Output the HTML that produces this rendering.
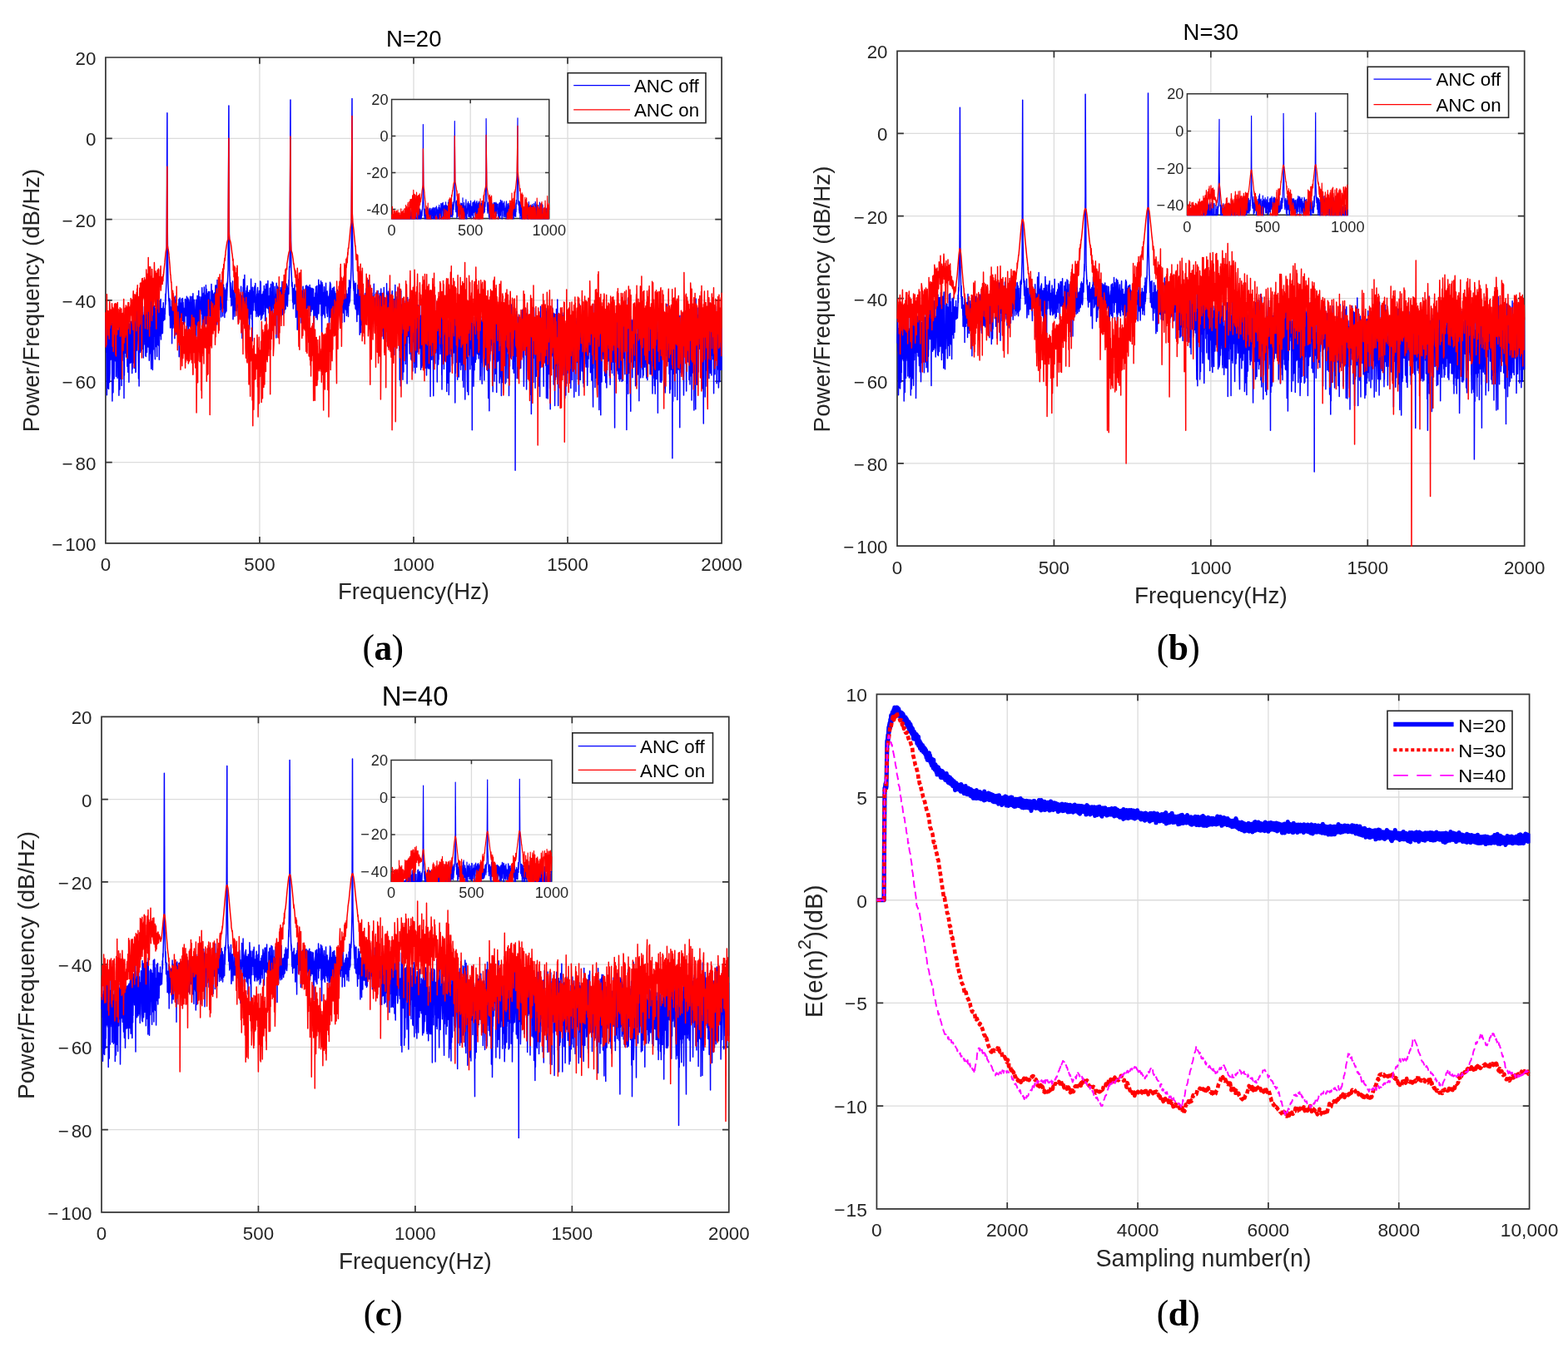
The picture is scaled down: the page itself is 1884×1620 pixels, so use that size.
<!DOCTYPE html>
<html><head><meta charset="utf-8"><title>ANC spectra</title><style>html,body{margin:0;padding:0;background:#fff;}svg{display:block;}</style></head><body>
<svg xmlns="http://www.w3.org/2000/svg" width="1884" height="1620" viewBox="0 0 1884 1620">
<rect width="1884" height="1620" fill="#fff"/>
<path d="M311.95 69.00V652.90M497.00 69.00V652.90M682.05 69.00V652.90M126.90 555.58H867.10M126.90 458.27H867.10M126.90 360.95H867.10M126.90 263.63H867.10M126.90 166.32H867.10" stroke="#dcdcdc" stroke-width="1.3" fill="none"/>
<path d="M126.90 69.00H867.10V652.90H126.90ZM126.90 652.90v-7.00M126.90 69.00v7.00M311.95 652.90v-7.00M311.95 69.00v7.00M497.00 652.90v-7.00M497.00 69.00v7.00M682.05 652.90v-7.00M682.05 69.00v7.00M867.10 652.90v-7.00M867.10 69.00v7.00M126.90 652.90h7.00M867.10 652.90h-7.00M126.90 555.58h7.00M867.10 555.58h-7.00M126.90 458.27h7.00M867.10 458.27h-7.00M126.90 360.95h7.00M867.10 360.95h-7.00M126.90 263.63h7.00M867.10 263.63h-7.00M126.90 166.32h7.00M867.10 166.32h-7.00M126.90 69.00h7.00M867.10 69.00h-7.00" stroke="#333333" stroke-width="1.7" fill="none" stroke-linecap="square"/>
<clipPath id="c1"><rect x="125.90" y="68.00" width="742.20" height="585.90"/></clipPath>
<g clip-path="url(#c1)">
<path transform="scale(0.1)" d="M1269 4139l1-236 5-58 3 392 1-262 1 206 4 567 4-787 2 34 1 33 6 635 3-788 1 136 1-62 3 725 5-658 1 21 4-141 1 698 4-111 1-595 4-114 3 551 1-181 2 177 7-559 1 486 2-364 8 937 1-845 3-92 2 423 4-224 1 635 6-958 3 260 1 72 1 458 2-635 6 256 1-118 2-95 5 383 3-210 1-321 3 716 6-522 1-29 1 434 1-585 7 473 1 247 1-576 8 559 1-351 5-248 3 825 2-746 2-160 6 832 1-606 7 316 1-540 1 340 1 47 3 316 5-507 1 407 1-258 1 441 3-802 5 129 1 340 1 31 8-444 1 251 1 112 6-416 3 949 1-669 3 396 4-542 2 268 1-429 6 434 3-224 1 1 5-25 1 294 2-182 2-269 8 565 2-297 4-255 3 622 1-565 1 268 7-392 2 808 1-267 8-431 1 126 1-103 3 448 5-498 1 121 1 137 2 233 8-456 1-43 6 625 3-637 1 587 2-598 7 2 1 315 1 206 6-566 1 364 2-246 2 515 6-696 2 62 8 684 1-47 2 41 5-583 2 47 1-207 2 486 7-247 1 65 1-311 7 367 1-20 1-58 5 540 2-945 3 108 1 927 4-856 5 50 1 234 5-374 1 541 3-65 1-49 9-479 1 573 7-575 1 75 2 278 3-238 2 440 3-408 2 155 2 358 4-478 2 227 1-120 4-242 4 382 1-156 1 228 4-318 4 452 1-194 1-515 4 719 6-684 1 171 4 464 5-281 1 172 3-529 6 574 1-412 2-220 3 374 4-9 1-172 2 601 4-655 2 247 2-186 3-154 5 667 2-74 6 255 2-856 1-42 5 668 4-518 1 63 4 697 5-427 1-266 4 449 2-532 3 102 1 191 1 77 6-362 3 255 1 279 3 107 2-607 4 89 1 368 2-357 7 56 1-304 6 723 1-727 2 327 1 241 3-577 2 593 3-43 2-453 5 505 3-375 2 55 2 491 6-711 1 307 3-172 2 288 4-63 1-223 1-153 4 483 4-333 1 190 4-228 4 299 2-47 1-151 3 197 5-321 1 79 1-45 1-82 4 215 4-100 1-37 9 126 1-137 2 74 5-246 1 128 2-74 8-183 2-38 8-2008 1 1189 9 857 1 22 9 196 1-29 6 199 2-200 1 126 1-121 6 344 4-251 1 160 3 85 2-150 4 86 1-86 2-172 3 515 4-348 1-93 2-21 7 274 1-158 1 114 6-192 1 135 2-75 1-105 7 410 1-190 4-319 5 403 1-123 4-229 3 410 2-87 1 4 1 9 4-307 4 122 1 157 3-239 6 374 1-118 1-228 4 302 4-409 1 151 1-156 1 693 8-597 1-111 6 322 3-176 1-83 5-2 1 236 2-135 2-45 1-104 2 333 5-184 2-31 3-125 4 266 1-27 1-193 8 264 1-189 1 92 3 102 1-140 5 113 1-177 1 108 3-210 5 150 1 3 7 49 2-197 1 98 1-14 3-122 2 424 4-91 1-71 7-245 2 136 1-36 5 338 1-417 3 32 1 30 2-33 3 266 3-36 2 2 1 61 4-359 3 159 1 0 2 210 7-154 1-35 4-178 4 381 1-278 1-65 1 327 8-403 1 73 10 239 1-5 1-232 8 254 1-91 5 194 1-220 3 186 1-225 4-97 3 469 2-418 1 24 6 226 1-297 1 193 2-244 6 369 2-165 2-59 1 446 5-653 2 392 1-214 3-88 1 498 5-114 1-401 3 309 6-218 1 73 8-160 1 60 1-40 5 183 2-317 3 105 1 363 3 13 3-360 3 159 1 11 4-222 3 554 2-457 1 344 2-517 6 251 2-127 2 228 6-168 2-94 2 351 1-464 5 289 1-42 2-199 5 632 2-355 1-129 3 158 5-259 1 191 1 128 4-337 1 367 4-233 1-75 9-59 1 294 1-134 1-67 4 203 4-39 1 23 5 93 4-461 1 335 1-223 1 315 7-68 1 19 1-302 6 362 1-273 2 187 1-232 4 390 3-274 2-43 3-90 1 198 4-85 1 65 5 258 4-524 1 199 5 117 3-318 1 228 1 25 9 217 1-533 1 129 4 308 5-171 1-5 5 152 4-179 1 156 1-250 4 355 4-287 1 152 4-226 4 113 2 62 5-213 2 349 1-208 2 49 1 61 1-345 6 208 1-1 4-73 4 297 1-282 1 242 5-339 4 269 1 11 5-240 4 356 1-180 4-146 5 269 1-179 1-26 5-82 4 268 1-193 1-138 3 197 5-126 1-90 1 54 8-189 1 1 8-1987 2 1189 8 850 2 24 8 240 1-107 2-64 7 276 1-173 4-20 2 175 3-94 1-92 6-94 4 459 1-7 6-339 3 71 1 23 1-97 8 313 1-60 1-151 8 30 1-211 2 323 6-126 2 80 2 49 5-206 1 67 2 77 3-192 3 214 2-4 1 9 4 171 3-355 2 27 1 86 2 2 2-107 5 79 1 120 6-182 2 188 1-122 1 71 6-236 4 207 1-68 6-28 2 510 1-432 1-51 4 207 5-158 1-176 1 204 3-300 5 273 1 4 7 108 1-439 2 235 2-13 1 220 5-101 1 115 2 110 7-374 1 90 5-128 3 297 1-101 1-76 1-142 8 377 1-71 5-226 5 316 1-170 6 298 3-469 1 144 1 191 6-249 2 161 1 36 5-422 4 259 1-134 5 360 3-335 2 371 2 224 1-645 5 229 2-103 3 152 5-229 1 122 2 8 1-176 6 98 1-116 6 294 2-326 1 46 1 125 1-31 8 259 1-112 6 70 1-229 3 171 1-198 5-51 1 338 3-179 1 173 2 19 2-270 5 107 1-44 4-104 3 296 2-139 1-23 3 145 3-393 2 374 2-112 2-256 4 456 2-112 1-76 7 168 2-284 1 168 2-172 1 256 6-203 1 21 3-104 3 269 3-215 1 190 3-315 7 202 1 12 4-168 2 374 3-8 1-115 4-316 5 67 1 217 4-287 5 175 1-13 6 133 2-333 2 319 5 18 3-120 2 170 4-206 4 357 1-268 2-182 6 251 1-151 1 122 5-269 3 403 1-188 1 112 5-234 4 31 1 130 1 61 1-342 8 143 1-26 1-106 5 305 3-126 1 263 7 60 2-368 1-90 7 156 1-38 2-22 8 522 2-476 1-182 7 309 1-274 9 239 1-118 2 496 1-602 6 92 1 210 8 80 1-232 1 87 1 96 5-296 4 215 1-250 8 315 1-281 1 304 9-407 1 31 7 365 2-159 1 105 6-185 2 187 2-106 2-89 3 227 3-69 2-157 3 185 3-231 2 12 1 15 2 196 5-277 2 50 1 172 4-245 5 97 1 166 1-242 3 249 6-197 1-23 8 71 1-168 1 66 6-229 3 11 1-18 9-1995 1 1189 8 843 2 23 7 187 1-40 2-10 6 239 2-122 1-17 4 218 1-244 4 34 1 25 6 128 3-210 1-23 3 222 6-34 1-1 1-109 4 316 5-154 1-49 4-131 5 223 1-212 1 471 8-530 1 177 1-255 8 218 1-71 1 216 5-232 2 39 2 126 2 42 3-357 3 208 1 62 2-218 1 246 6-122 1 367 8-278 1 118 1-223 3 337 6-90 1-293 1-7 3 297 6-17 1-243 4 238 5-78 1 46 6-174 1 247 2-168 1-93 4-64 2 224 3-49 1-3 1 103 3-280 4 21 2 232 1 17 4-202 3 60 2-25 2-89 4 352 2-341 1 93 3-73 6 203 1-29 2-223 7 367 1-126 4 11 2-218 3 62 1 221 7-248 3 81 1 141 1-252 8 259 1-41 5-210 4 448 1-296 2 402 4-452 3 56 1 153 1 10 7-273 2 219 5-295 2 370 1-242 1-39 7 190 2-288 1 101 2 303 7-201 1 4 3 17 5-296 1 147 1 261 9-348 1 156 1 42 6-130 2 165 1-70 1-28 5-180 4 414 1-272 6 519 3-645 1 254 2 148 2-376 4 211 2-106 1 250 6-261 1 67 2 65 4-199 3 340 1-195 1 21 5 204 3-301 1 53 1-29 6-137 3 272 1-178 9 267 1-66 2-197 3 304 5-218 1-11 3 108 5-125 1 93 1-88 5 429 1-461 3 40 1-85 5-94 3 416 2 7 2-406 6 258 2 131 8-274 1-36 2 272 3-295 4 160 1 55 2 235 6-459 1 347 1-165 3 33 2-223 4 103 1 40 4-86 2 270 4-141 1-110 6 326 3-223 1-5 3 157 6-294 1 224 1-228 8 123 1 8 1 112 1-186 6 127 2 32 3-189 5 150 2 41 3-210 5 258 1 3 2-276 7 181 1-49 8-70 1 338 1-202 6-231 3 138 1 111 4-100 2 170 4-169 1 15 5-17 1 278 3-264 1 74 5 25 2-166 2 123 1-9 4 70 4-230 2 151 3 154 2-261 3 192 2-194 2 217 6-179 1 168 5 65 2-343 2 171 1-12 3 52 3-304 3 275 1-59 4 38 5-150 1-90 1 83 9-240 1-42 9-1997 1 1190 9 865 1 25 7 207 2-28 1 51 2-114 4 274 2-244 2 216 1-217 6 256 1-134 2 177 3-308 1 315 4-70 1-113 9 332 1-326 3 232 6-348 1 110 1 245 7-278 2 37 1 22 5-103 3 331 1-204 1 74 1 364 5-489 3 162 1-42 7 344 2-477 1-10 4 324 4-43 2 113 3-419 5 113 2 22 2 174 3-263 3 82 1 2 7 185 2-236 1 87 4 204 5-294 1-36 6 353 3-409 1 203 4 191 1-338 5 136 1-26 1 59 3-141 5 113 1 23 4-322 3 416 2-128 1 27 6 50 1-238 2 198 1 91 6-343 2 302 2-102 6 107 2-174 1 128 4 200 4-368 1 143 1-154 5 328 4-285 1 129 6 197 2-331 1 113 1 43 3-304 2 399 5-69 1 84 8-246 1 226 1-83 1 17 5-219 3 172 1-164 2 173 5-182 2 112 1 11 2-101 4 332 2-11 2-368 7 273 1-110 2-8 6 121 1-212 1 61 1 461 3-557 6 502 1-276 5 331 3-611 1 361 1-166 3-87 1 402 5-262 1-190 6 449 4-292 1 120 3-257 2 523 4-353 1-8 2-256 5 601 2-399 1 56 6 231 1-273 2 8 1-71 2-20 5 521 1-187 2-139 3 192 2-567 3 323 1 173 4 18 3-351 2 185 1-192 5-60 2 673 2-278 1 49 1 13 2-430 6 229 1 39 4-331 3 648 3-494 1 388 1-251 3 347 5-180 1-147 1-118 6 453 2-296 1-296 2-24 3 567 4-307 1 40 2-208 3 597 3-109 2-245 6 433 2-669 2 167 6 209 1-548 1 389 1-50 4 108 1-141 4 126 1-73 2 285 6-501 1 112 1 47 1 257 8-521 1 278 9 273 1-166 1 104 4-175 4 439 1-147 1-233 2 730 5-1091 2 436 1-92 2 823 5-1145 1 515 2-253 3-98 4 463 1-195 2 10 1-169 7 732 1 62 4-903 5 811 1-621 2 422 5-623 2 119 1 384 8-470 1 42 1 236 1-339 2 753 7-473 1-225 8 497 1-422 1 859 6-1036 3 238 1 108 7 125 2-349 1 27 6 403 1-478 1 329 2 275 6-507 2 68 2 27 7-100 1 578 1-186 3-474 1 671 5-504 1 325 6-563 3 874 1-649 1-186 3 478 5-187 1-303 9 756 1-613 1 658 1-434 8 502 1-419 1-371 3 408 5-338 1 317 6 332 1-657 1 287 2 149 1-490 7 530 2-403 2-161 4 431 2-241 1 295 7-311 2 274 1-132 2 202 1-409 6 284 1-267 6 649 3-341 1-50 5-454 4 819 1-630 1-160 1 771 8-571 1 127 2 327 4-617 3 538 1-306 2-246 5 510 2-220 1-240 8 727 2-317 5-447 1 606 2-312 2 4 3-21 1 570 4-440 1 339 9-537 1 100 3 456 5-720 1 36 1 208 3-108 3 586 4-558 1 507 4-718 5 234 1 872 3-993 6 294 1-256 7 512 2-660 1 344 2 208 6-536 2 177 7 901 1-938 2 156 1 190 6-371 1 356 1 188 5-788 3 820 1-176 1-125 4-278 1 450 4-176 1-51 3-269 6 305 1-241 3 780 2-817 5 452 1-416 1-183 4 754 4-391 1 332 2-451 7 194 1-27 2-329 7 547 1-86 5-484 3 32 2 459 3-347 4 679 1-399 1 573 5-876 4 133 1 195 8-457 1 425 1-491 4 824 5-653 1-55 1-80 7 691 2-623 1 368 4 178 5-600 1 272 6-254 1 1028 2-1022 1 167 2 662 7-654 1 227 1-229 1 745 6-545 2-207 2 896 6-465 2-67 1-436 6 689 1-426 1-234 5 269 4-188 1 329 3-421 3 490 3-242 1-35 4 383 4-509 1 101 1 383 1-353 9 226 1-193 6-352 2 399 1-304 1 357 1-338 6 1031 2-883 1 78 2 448 2-752 5 81 1 125 1 418 1-490 6 155 2-93 5-270 1 906 2-642 1-156 2 691 1-796 6 155 1 379 3 336 6-769 1 178 8 413 1-500 1 291 3-517 3 817 4-809 1 489 4 264 5-583 1 199 7-444 2 1014 1-508 1-131 6 718 2-628 1-430 6 631 2-70 2-136 2-64 5 844 1-768 2-240 3 375 5-36 1 61 2 115 7-443 1 342 6 500 3-720 1-6 4-155 4 922 1-820 1 39 6 301 4-488 1 440 6-585 2 804 1-361 1 120 9-368 1 134 2-109 5 538 1-318 2 177 2 917 1-1279 5 425 2-308 2 438 1-592 5 353 1 438 9-744 1 550 2-635 7 193 1 241 3 105 1-571 5 50 1 489 7-575 3 102 1 392 6-444 2 461 1-214 1 153 4-476 5 591 1-206 2-332 2 493 5-305 1 11 7-116 1 711 2-61 2 14 5-713 1 548 2-263 2-241 2 455 4-170 1-215 2 693 7-817 1 149 3 114 3-389 3 66 1 230 8 603 2-269 1-718 1 828 8-220 1-340 8 537 1-260 1 99 5-513 4 730 1-267 5 277 2-764 1 639 2-421 7 879 1-971 2 355 7-441 1 1209 1-1151 7 552 2-21 1-226 4-173 4 298 1-37 1-435 3 406 5-429 1 330 1 10 3-392 4 591 3-403 1 164 1 685 3-785 5 250 1-269 5 417 2-515 2 104 1 673 6-912 3 219 1 604 3-925 5 639 2-151 2-356 4 1016 2-847 2 299 4-181 3 322 1-266 1 302 5-554 4 146 1 0 3-173 1 567 5-554 1 34 1 791 9-293 1-139 6 360 3-715 1 741 1-837 2 1036 6-511 1 95 4 257 5-848 1 322 4-291 3 749 1-192 2-104 1 108 5-411 2 300 2-186 1-22 2 257 5-191 1 54 3 468 1-875 5 545 1 314 9-811 1 435 3-310 3 317 3-218 1-245 1 783 5-798 4 390 1-32 1-158 3 810 5-625 1 120 4 149 1-577 4 483 1-509 6 468 3-110 1-264 1-232 1 632 6-408 2 231 6-421 2 315 1-134 2 558 7-523 1 332 4 242 3-558 2 245 1-379 1-83 8 639 1-335 1 1641 2-1759 7 386 1-2 8-534 1 198 1 306 1 300 6-531 2 272 1-28 2 55 5-505 2 152 1 278 8-456 2 274 1 303 7-459 2 87 4-43 2 478 2-272 1-318 2 399 7-95 1-79 5-332 4 478 1-199 1-25 4 309 4-211 1-202 4 765 6-705 1-112 3 383 6-20 1-65 5-420 4 548 1-436 5 863 4-535 1-7 1-369 2 424 5-233 2 168 1-337 4 664 3-535 1 257 2-352 2 500 5-139 1-280 2 564 6-622 1 157 1 419 1 319 5-1010 3 227 1 166 4 851 1-1140 5 343 1-87 6 464 2-629 1 328 1-97 1-274 6 711 2-571 1 234 1 49 4-608 4 229 1 115 2-166 1 365 5-2 2 423 3-774 5 20 2 283 3 330 3-569 2 76 1-122 2 491 7-407 1 239 4-407 2 580 3-386 1 268 1-268 3 622 5-557 1 139 1-425 5 969 4-644 1 241 5-680 1 736 3-415 1 302 4-327 5 289 1-112 2 217 3-449 3 58 2 164 2-220 3 447 3-254 2 397 1 128 1-945 6 424 1 139 3-339 2 428 4-138 1-183 6-289 2 655 1-164 1 22 1-299 4 829 4-509 1-566 5 590 5-259 1 49 1 703 5-890 3 596 1-355 1-267 6 408 2-319 1-19 6 726 3-574 1 149 1 671 5-1090 2 633 2-346 1 279 1-386 6 252 2-3 7-557 1 580 1-193 5-209 2 556 2-52 1-547 1-72 2 858 6-124 1-456 3-267 3 1102 4-562 1-195 4 444 5-662 1 629 4-813 5 679 1-92 6 27 1-729 2 539 1 225 4-284 2 793 2-728 2-140 3 322 3-388 2 246 2-325 1-34 4 748 3-549 1-115 3-91 6 950 1-663 8 179 1-360 1 173 6-312 2 586 1-231 1-107 7-96 3 568 1-748 5 558 4-460 1 207 5-182 1 902 3-680 1 145 1-323 6 823 2-605 1 48 5 173 1-507 2 90 2 659 2-755 6 631 2-468 2 276 2-534 4 517 1-433 8 744 1-276 1-450 8 376 1-50 1-200 8 679 1-859 1 393 1-25 8 82 1-467 1 264 4 514 3-740 2 197 1 21 4-277 5 576 1-212 4-330 3 972 1-390 2-362 1 198 2-396 5 259 2 178 2 146 1-545 5 295 1 549 2-789 7 227 1-316 8 530 1-220 1-225 3 646 3-717 3 561 1-157 1-347 5 854 4-678 1-421 1 855 8-498 1 337 1 217 4-604 4 52 1 96 5-237 4 556 1 34 6-665 2 320 2-104 7 592 1-303 1-509 4 859 3-914 2 293 1 221 9-564 1 350 3-158 6 495 1-405 1 442 9-200 1-338 6 759 3-266 1-284 4 330 1-364 4 164 1 100 7-448 2 86 1 219 1-243 6 308 1-186 2-43 3 472 4-557 1 523 2-184 6-246 2 558 1-630 2 632 1-715 6 200 1 335 6 496 2-1233 1 409 1 362 6-427 3 114 1-114 6-77 4 733 1-710 1-163 8 760 1-4 7-773 2 425 1-55 1-406 6 737 1-317 2-44 5 514 2-886 1 143 2 60 2-3 6 990 1-892 2-188 2 519 5-513 1 96 8 1041 1-715 1 107 3-505 6 400 1 316 9-713 1 242 1 48 3-291 6 437 1-6 6-477 3 334 1-99 5 450 4-533 1-24 7 639 1-330 2-255 5-19 3 666 2-345 1-389 3 455 4-343 1 105 8 198 1-573 1 240 1-110 2 164 6-43 1-57 3-47 1 600 5-236 1 137 1 208 9-746 1-2 4 564 5-271 1-297 1-154 3 767 5-533 1-66 4 465 4-367 2 313 6-394 1 608 1-219 2-380 5 1228 2-1374 1 586 1-352 3-210 6 544 1-418 3-131 5 674 1-643 1 547 5-517 4 505 1 52 7 90 3-642 1 34 6 672 3-446 1 195 5 275 4-619 1 244 5 347 2-647 2 102 1 3 1-105 5 388 2-84 2-211 1 587 5-719 2 299 2-497 4 904 4-309 1-285 3 328 2-414 4 411 1-256 5-126 4 576 1-404 10-286 1 267 5-121 3 1212 1-1008 1 29 5 106 2-466 2 454 1 326 5-1024 1 1150 3-586 1-23 6-248 1 609 1-595 2 249 5-137 3 366 2-163 7 738 1-1021 1-48 2-68 2 544 5-390 1 203 3-308 6 684 1-696 5 375 4-336 1 153 5 378 5-629 1 138 3 410 6-325 1-109 5 741 1-890 3 419 1-21 1-337 5 781 3-389 1 424 1-608 7 83 2 96 2 304 1-673 5 330 1-250 7-110 2 1021 1-464 8-411 1 318 1-27 1-189 7 495 1-491 1-12 4-18 2 357 4-155 1-148 4-253 4 620 1-529 1 251 3 375 2-442 4 236 1 180 4-607 5 16 1 171 6 322 2-481 2 257 1 131 7-572 2 569 7 225 1-676 1 158 9 544 1-272 2 196 4-755 3 630 1-180 5-349 4 530 1-260 5 266 5-623 1 746 8-555 1 207 1 47 2 301 5-337 2 132 1-71 2-184 7 694 1-506 5-292 1 463 2-399 2 300 3-399 4 650 1-583 1 499 3 171 6-742 1 240 2 599 5-929 2 383 1 114 6 254 2-508 1 125 1-110 1 382 8-577 1 203 1 59 3 834 2-966 4 385 1-279 4 345 2-430 3 110 1 256 7-621 2 685 1-402 1 546 6-754 1 138 2 279 3-407 2 748 3-641 2-71 2 688 6-411 1 92 9-524 1 535 2-392 7 398 1-174 4 569 2-780 3 324 1-256 2 768 8-267 1-649 9 472 1-32 1-587 4 589 4-312 1 281 5-267 1 396 2-339 2-50 3-121 4 491 1-360 2 530 1-384 6 614 1-231 1-151 5 338 2-773 2 106 1-98 2 526 7-311 1-177 6-92 3 1645 1-1139 6 454 4-839 1 465 4-656 5 611 1 92 1-555 8 302 1 522 1-970 8 144 1 145 1-153 7 556 2-98 6-584 1 1002 1-915 2 68 3-83 5 443 1-370 2 490 6-631 1 248 1 376 4-573 4 1278 1-916 1-429 3 640 6-502 1 467 2-398 3 480 5-295 1 146 4-432 4 523 1-488 1 318 1 249 6-734 2 267 1-123 4 839 4-485 2-291 6 161 1-329 1 238 2 25 1-315 6 544 1-117 1-137 2-236 5 892 2-479 1-263 3 198 2-386 4 350 1 45 4-428 4 613 1-419 1 26 7-177 3 787 1-75 5-590 4 719 1-743 5 642 1-743 3 648 1-589 6 522 3-460 1 913 3-896 5 412 2 115 1 40 1-530 6 423 2-588 8 1143 1-1027 5 537 4-143 1-428 8 1050 1-772 1-82 1-475 8 750 1-279 1 462 4 100 5-832 1 418 3 105 6-612 1 444 2 326 4-605 3 296 1-38 5 69 1-398 2 361 2-329 3-78 4 604 1-163 2-40 1-242 4 579 3-189 1-410 5-37 3 820 1-479 1 145 6-520 3 495 1 34 3 744 1-1082 5 89 1-141 1-283 3 605 6-284 1 186 1 589 5-952 3 101 1 494 1 39 6-647 2 48 1 791 6-822 3 224 1 545 3-887 5 578 2 4 2-387 6 650 1-532 4 295 4-672 1 404 1 47 5 394 3-640 1 292 1 235 4-395 5 534 1-417 3-116 7 294 1-388 6 434 3-327 1-77 3-95 2 909 4-545 1 79 4-323 5 62 1 497 5-815 3 217 2 298 5-277 2 386 1-258 2 237 1 322 5-626 2 459 1-404 4-279 1 383 4-201 1-156 4 878 5-454 1-34 3-355 5 770 1-463 1 154 2-414 5 580 3-45 1-575 1 582 8-460 1 503" fill="none" stroke="#0000ff" stroke-width="15" stroke-linejoin="round" />
<path transform="scale(0.1)" d="M1269 3752l2 417 7-446 2 423 4-609 5 415 2-119 6-95 2 290 1-292 10 264 2 73 5-448 2 30 2 288 7-221 2 106 4 77 2-179 3 17 2 122 4-217 4 68 1 33 2 414 4-465 4 171 2 355 7-513 2 56 5-113 2 360 2-174 4-192 3 612 2-307 2 57 4 269 2-629 2 134 1 132 6 105 2-265 2 146 1-220 2-48 2 304 4-82 2-140 2 247 7-187 2 109 2 39 3-199 2 135 2-163 2 346 5-179 2-112 8-42 2 329 1-206 4-6 2 729 2-608 2-45 2-137 7 447 2-426 5-193 2 422 2 105 4-308 3 81 2 104 4-295 2 350 4-345 1 208 2-247 2 356 4-255 2 173 2-248 7 610 2-627 2 262 5-304 2 315 6-313 1 141 2 57 6 25 2-171 2 169 1 131 2 21 6-347 2 17 1-96 8 204 2-100 5 190 2-279 2 260 6 102 1-286 2-128 2-50 6 345 1-239 2 108 2 702 6-877 2 147 3-30 6 200 2-310 7 434 2-464 2 217 4-260 1 153 2 69 2-265 6 492 1-274 2 15 2 543 6-638 2 113 3 244 4-463 2 390 2-304 2 349 1-492 4 215 2-147 4 305 3-278 2-104 4 906 2-950 3 190 2 247 2-443 6 248 2-184 1 172 2-205 6 69 2 120 3-227 2 447 2-179 2-115 4 457 1-514 2 396 2-469 4 412 4-533 1 114 2 390 2-396 6 154 1 96 2 358 2-665 6 181 2-375 1 645 6-126 2-294 2-114 3 832 2-464 2-257 2 604 5-715 2 163 2 109 6 135 2-74 1-219 4 534 2-620 4 151 2 80 1 321 2-390 4 199 2-251 2 333 5-56 2-149 4-317 5 209 2 112 4 207 4-424 1 369 8 324 2-655 2 163 1-176 4 427 2-322 2-16 2-129 3 348 2-90 2-242 4-31 5 523 2-372 2 209 6-267 1 38 2 84 2-204 6 135 1-178 2 293 6-107 2-51 5-3 4 78 2 6 5-94 2 58 2-81 2 25 5-48 2-26 10-89 1-21 8-83 2-18 9-56 2-6 7-973 2 940 7 40 2 7 10 70 1 20 8 90 2 24 7 112 2-2 2 32 5 62 2-10 2 36 6 174 1-91 2 70 4 155 2-239 4 232 1-201 8 159 2 55 1-163 8 461 2-245 3-139 2 335 2-317 2 22 2 182 5-259 2 381 2-553 2 573 5-8 2-106 2 307 6-388 2-69 9 365 2-128 2-15 1 175 4-141 2 22 5-201 2 21 2 594 8-543 1 75 2-205 8 627 2-319 5-202 2 430 2-48 2-134 2 42 3-118 2 61 2 24 4 115 1-376 2 88 2 141 6 321 3-461 2 18 2 374 2-394 4 114 2-152 3 394 6-319 2 336 7-370 2 20 2 387 5-25 2-94 2-295 6 383 1-85 2-176 2 161 4-272 2 228 1-265 6 391 4-135 2-271 3-127 2 572 2-294 2-99 4-15 3 552 2-7 2-680 7 419 2-381 2-31 4 392 2-136 1 280 4-449 4 510 2-172 2-42 1-167 2 352 4-308 2 877 5-868 2 154 2-194 6 546 1-717 2 222 2 231 6-467 2 131 1 97 2-148 8 401 2-9 3-611 4 573 2-127 3-218 4 733 2-701 4 797 5-869 2 362 6-393 2 358 1-193 2-204 8 523 1-428 6-9 2 179 2-63 2-242 1 368 6-136 2 144 5-236 2 72 2-89 2 654 5-778 2 238 2 462 4-502 4 493 1-336 4-558 4 644 2-523 2 380 7-268 2 1151 3-1172 4 59 2-24 6 305 1-245 2-281 4 551 6-445 1 50 6-136 2 275 2 88 3-307 6 6 2-7 3 267 2-298 2 145 2-17 2-77 2 420 3-183 2-427 2 514 8-216 1-24 2-337 2 389 4-202 2 147 1-273 6 339 2-85 2 17 2-467 1 667 4-526 2 318 2 175 2-583 3 177 2-216 2-49 2 223 5-100 2 122 4-144 2 155 2-48 2-50 7 184 2-372 2 188 2 292 3-519 2 180 2-33 7-201 2 60 8-130 1 13 2-17 2 30 4-67 2 3 2-41 9-63 2-13 7-41 2-8 7-22 2-3 9-1214 2 1129 8 85 2 4 9 29 2 10 7 45 2 15 7 66 2 3 9 89 2-24 2 136 6-60 1 138 6-115 2 296 2-119 2-181 5 313 2-172 2 30 2-100 5 174 2 340 4-574 5 432 2-459 4 418 4-282 1 145 2 423 4-426 4 409 2-398 5 232 2-79 2-43 5 246 2-288 2 179 2-215 7 486 2-51 2-139 6 24 1-59 6-261 4 743 1-531 6 103 2-245 2 309 5-266 2 318 2-214 4-76 3 318 2-165 2 380 4 115 2-727 2 289 1 46 4-237 4 679 2-466 1 474 6-644 2 494 2-90 5-55 4 556 2-710 5 630 2-77 2-363 6 661 1-707 2 293 4-251 6 233 1-23 4-368 4 323 2 548 5-614 2 922 2-859 2 249 5-354 2 768 2-174 4-684 3 500 2-251 8-55 2 297 1-215 6 97 2-175 2 131 5 38 4-407 2 67 3 558 4-318 2 679 7-830 2 323 2-450 2 795 6-488 1-2 4 166 2-314 2 264 2-24 5-347 4 124 2 608 2-969 5 388 2 106 4 427 2-821 1 469 2-129 6-211 3 559 2-569 2-92 6 627 2-628 1-81 6 314 2-46 2 165 2 121 1-572 4 332 2-406 5 502 2-424 2 206 2 244 4-374 3 47 2 10 4-60 4 305 2-319 3 53 6-318 2 499 3-473 2 1021 2-594 2-50 2 107 3-455 2 122 2 42 2 163 7-273 2 126 2-190 2 233 4-207 1 189 2-161 2 484 6-134 2-249 7-231 2 100 5 150 2-86 2-234 6 426 3-367 2-12 4 136 4-64 1 74 2-309 8 339 2 245 1-435 6 232 2 36 2-564 2 802 3-356 2 227 6-491 3 10 2-7 4 252 4-45 1 196 6-372 4 28 2 133 5 1 2-240 2-81 2 196 5-6 2 339 2-608 7 207 2-97 2 38 6-213 1 219 10-235 1 10 6 4 2-74 2-5 9-62 2-16 7-38 2-8 7-23 2-5 10-1368 1 1221 8 147 2 5 9 31 2 8 7 47 2 10 7 69 2-9 8 78 2-17 1 25 6 78 2-81 2 13 9 184 2-142 7 311 2 110 2-505 5 170 2 61 2-70 8 779 1-571 4-305 4 916 2-925 1 319 8-175 2 316 2 75 3-568 2 131 2 304 2-190 5 577 2-101 8-379 1 447 2-365 6-184 2 421 2-121 1-194 2 359 6-298 2 317 7-494 2 408 7 342 2-500 6-7 3 527 2-35 2-477 6 92 2-20 1-124 6 438 2-263 2 425 3-449 4 291 2-443 4 646 3-229 2 293 2-447 4 577 3-348 2-86 2 253 4-419 2 240 2 106 5 5 2-383 2 299 2 157 1-169 4 641 2-431 2-582 7 773 2-542 4 779 2-853 3 219 2 125 4 181 4-426 1 578 2-581 8 576 2-195 5 128 2-479 2 341 4 8 3-178 2 73 4 129 5-233 2-185 8 395 1-41 4 66 6-244 2-23 1 399 4-595 2 329 2-276 4 452 1-493 2 385 2-44 2-157 5 737 2-604 2-303 2 529 6-204 1-223 4 554 2-666 4 281 2-262 1 439 6-145 2-219 2-165 1 523 4-348 2-99 4-128 5 794 2-696 2-98 4 339 2-216 1 998 8-1128 2 340 1-1 4-256 4 43 2-28 2 464 7-582 2-97 2-53 2 478 3-227 2 373 6-635 1 497 2-517 4 306 6-94 1 27 4 120 2-269 2 238 2-405 5 426 4-226 2-52 2 211 5-339 2 659 4 323 2-1227 1 335 2-92 8-84 2 654 1-691 2 461 6-247 2-273 2 300 7-360 2 396 5 167 2-725 2 139 2-184 5 449 2-232 2-60 2 830 6-747 1 7 2 243 2-287 4 260 2-296 1-1 6 126 2-102 2-47 3 277 4-429 2 143 4 43 2-165 1 104 2-9 4 300 5-470 2 107 8-102 2-28 1 67 6-125 2 29 2-55 2-25 5 3 2-31 7-72 2-16 9-103 2-17 8-61 2-11 9-1278 2 1161 7 117 2 12 7 60 2 18 9 96 2 21 8 82 2-7 9 166 2-5 3-56 2 57 2-21 2-37 4 199 3-190 2 86 6 317 3-133 2-133 2 204 6-65 1 206 4-288 6 25 2-115 7 439 2 223 5 17 2-480 2-113 2 840 2-875 5 817 2-544 4-82 4 584 1-191 8-258 2 208 2 376 3-583 4 136 2 214 2-342 5 328 2-378 2-216 5 611 2-224 2-30 2-306 6 66 1 231 2-185 2 582 6-146 2-59 1 121 6-648 2 194 7 1124 2-1196 6 741 3-126 2 37 2 238 4-851 2 379 1-28 8-253 2 298 1 219 4-454 4 60 2-3 3-119 6 409 2 28 4-276 3 87 2-104 2-174 2 878 3-870 2 42 4 185 6-274 1 130 2 606 6-542 2 227 5 445 2-820 2 55 2 12 2 582 5-234 2 323 7-552 2-113 2-56 2 1240 6-823 1-192 2 118 2-213 4 157 2 194 5-514 4 342 2 30 2 42 1-417 4 172 2 152 4-179 3 567 2 1 2 30 6-691 2 59 1 216 4-123 2 931 2-690 2-115 5-304 2 430 2-205 2 212 3-261 2 434 2-217 2-18 2-227 5 123 2 382 8-559 1 53 2 11 4-396 2 910 2-156 2 49 3-568 6 746 2-665 3 294 4-381 2 1627 7-1331 2-281 9 808 2-475 2 212 6-490 2 340 1 217 4-459 4 54 2-28 1 1333 6-1560 2 570 7-358 2 466 9-734 2 550 4-271 4 423 2-555 3 525 4-712 2 346 2 46 3 495 4-257 2-268 4-298 1 363 2-96 2 1028 4-1031 5 266 2-302 4-115 2 135 2-102 1 151 8 182 2-383 2 141 3-139 4 762 2-515 2 166 3-339 2 7 2 452 4 20 3-748 2 250 2-193 2 387 2-403 4 224 1 394 8-406 2 193 2 79 3-109 2 184 2-39 2-126 3-214 4 313 2-33 9-624 2 304 4 672 2-742 2 400 1-117 8 417 2-696 1 1068 8-1003 2 380 2-486 5 539 2-372 6 729 1-919 2 377 2-564 8 588 1-286 6 666 4-333 1-366 4 431 4-497 2 168 5-321 4 524 2-98 5 474 2-340 2-166 2 568 5-380 2-357 2 320 2-439 6 264 1 4 6-122 2 56 2 51 5-3 2 495 2-435 2 242 3-530 2 674 2-286 2-485 4 1124 3-475 2-195 2-406 8 1207 1-992 4-292 4 228 2 532 7 77 2-647 2 612 3 14 2-812 2 401 2 399 4 49 2-540 1 490 2-490 2-165 6 530 1-358 2-59 2-137 2 950 4-689 2 400 5-587 2 656 2-582 2 487 5-568 2 572 2 41 6 177 1-778 2 247 4 287 4-683 1 246 2 520 8-697 2 850 5-985 4 1155 2-988 5 580 2-481 2 688 2-501 5 153 2-116 2 420 6-571 1 52 2-45 8 346 2-384 3 354 6-431 2 312 3-261 4 465 2-115 4 218 3-748 2 328 2 340 2-644 5 402 2-122 6-170 2 190 1-204 4 328 6-54 2 355 3-757 2 1000 2-657 2-301 4 605 3-37 2-4 6-429 3 167 2 160 2-202 2 670 4-361 1-487 6-152 4 550 2 371 3-732 4 24 2 699 2-909 5 258 2 203 4-390 5 622 2-6 4-560 2 777 2-639 1-46 4-298 2 589 4-113 2-101 1-449 2 992 4-298 2-148 3 738 2-1050 2 568 2-81 6-573 3 326 2-131 4 497 4-655 1 354 4-139 6 231 1-364 2-16 2 460 4-444 2 362 3 320 4-496 2 16 2 41 2 816 2-997 3 643 2-862 6 498 1-242 2 14 4 471 2-510 4 39 1 496 8-450 2-289 5 697 4-553 2 693 4-736 3 712 2-109 6-655 1 745 2-242 2-329 6 503 2-201 1-452 2 966 6-714 2-60 5-444 4 1034 2 255 2-964 5 101 2-65 4 608 2-783 1 765 2-505 2 437 8-423 1 34 2 635 4-654 2 161 2-18 3 229 2-691 4 194 2 235 5-347 2 566 2-401 2 527 5-225 2-195 6-147 2 351 1-245 2 83 2-336 2 391 4-115 2 423 5 208 4-687 2 182 3 13 2-372 2 1 2-31 5 530 2-165 2-48 4 312 4-804 1 650 2-328 2-174 4 371 2-6 2-298 5 546 4-351 2 451 5-592 2 241 2 516 2-859 5 830 2-540 2-132 7 243 2 192 6-602 2 368 2-327 9 408 2-194 1 237 4-468 2 159 2 286 5-356 2 349 2 454 6 124 3-1039 2 939 6-882 2 477 1-523 10 794 2-302 3-315 4 43 2 77 2 769 5-569 2-82 2-303 2 871 5-514 2 310 2-551 6 816 1-606 6-249 2 687 2-27 2-536 3-212 4 138 2 17 5 439 2-478 2-99 7 1138 2-1130 2 273 2 470 6-873 1 739 4-751 6 219 2-254 7 1095 2-674 3 12 2-297 2 48 2 222 2-307 2 461 5-16 2-306 8 529 1-466 4 246 6-36 1 118 6-384 2 640 2-692 2-107 1 715 6-317 2 155 7-589 2 412 2 665 4-826 1 280 2-184 4 726 4-922 2 175 1 293 2-441 6 1192 2-45 3-1066 6 399 2-85 3 442 4-801 2 369 2 129 4-569 1 500 2-365 8 299 2-475 1 690 6-337 2 357 2-518 3-131 2 706 4-581 2 336 3-290 4 917 2-681 4-334 2 373 1-273 2-152 2-60 6 485 2-207 1 313 4 220 2-518 2 81 2-6 5-288 4 526 2-279 2 446 1-471 4 268 2-32 4-444 3 264 2 103 2-373 7 266 2-150 8 448 2-21 5 45 4-623 2 722 2-285 5 413 2-367 4 508 1-664 2 424 2-382 2-146 4 829 3-547 2-227 2-23 2 619 4-363 2 264 9-607 2 21 7 574 2-46 5-439 2 80 2 170 4-371 5 502 2-717 6 713 2-98 2 87 1-663 8 511 2-347 3 566 4-377 2 213 4 60 1-363 2 340 2-369 6-130 2 231 1-153 2 746 2 92 4-146 2 54 1-682 8 790 2-662 2-133 3 1036 4-497 2-385 4 2 1-383 2 353 2-185 6 329 3-461 2 118 4-12 4 1152 1-903 8 151 2-662 2 406 1-84 6 318 2 31 2 152 1-441 4 58 2 195 4 195 5-576 2 137 6 428 2-180 1-57 2 427 2-646 6 629 2 926 5-1650 2 305 2 522 7-549 2-230 9 591 2-158 2-357 4 406 2-191 1-166 6-53 4 592 1-749 6 316 2-77 2 258 3 251 2-876 4 673 2 160 5-751 2 749 2-227 2 188 5-633 2 563 2-595 6 614 2-313 1 26 4-20 2 229 2-47 2-184 2-454 7 299 2 567 2-703 5 291 2-168 2 312 5-146 2-231 4-246 4 556 2-211 1 1014 4-1167 4 567 2-75 5 337 2-550 2 138 2-497 2 642 5-120 2-409 7 460 2-263 8 396 2-479 1-8 4 875 4-512 2-281 5-123 2 595 2-83 2-423 7 408 2-216 7 556 2-447 2 200 4-587 3 388 2-12 2-391 6 631 2-459 1 722 6-886 2 389 2 743 3-1204 4 154 2 253 2-150 2 943 3-700 2 333 2-836 6 866 1-304 2-454 2 685 6-137 2-322 5-402 4 470 2-465 1 1678 6-1307 2-147 2 342 5-54 2-258 6 752 2-1160 1 593 2 240 2-584 6 32 2 686 3-729 6 340 2-202 1 857 2-1012 4 568 2 146 2 186 3-968 2 108 2 689 2-647 7 264 2-116 2 344 4-494 2 72 1-223 6 583 4-472 2 721 7-673 2 348 4-471 3 167 2 307 2 297 7-868 2 361 2-289 4 849 2-588 1 330 8 93 2-578 2-45 1 640 6-470 2 5 3-308 4 251 2 222 2 577 5-1037 2 434 2 182 6-514 2 186 1 117 4-315 6 381 1-94 2 166 4-303 2 301 2-386 3-244 6 734 2-168 7-432 2 298 6-79 2 352 1 551 6-1191 4 586 1-209 6-208 2 496 2-612 3 565 6-474 2-75 7 626 2-25 2 40 4-208 1 90 2-569 6 528 4-258 1 246 6-721 2 104 2 661 3-461 6 72 2 220 3 38 4-334 2 85 4-102 2 604 1-421 2-44 4-147 2 717 4-228 1 67 4-442 4 287 2-176 1 64 2-328 6 52 2 185 2-364 1 837 4-465 2-59 4-322 2 777 1-709 2 1053 8 173 1-1253 2 393 2 167 2-780 4 684 2-718 7 898 2-30 2-555 2 443 5-16 2-149 6 51 1-372 2 468 2-372 7 708 2-548 4 65 2-169 2 53 2-98 5 586 4-625 2 157 2 202 5-430 2 19 2 910 5-570 2-174 9 768 2-297 6-641 2 781 2-104 5 222 4-765 2 252 1 211 4-459 2 374 2-418 5 548 2-213 2-322 6 651 3-44 2 281 6-981 2 264 1-196 8 722 2-679 2 355 1 136 2-587 4 41 2 268 4 326 3-643 2 153 4 427 4-539 1 66 2-46 8 621 1-452 2 554 2-577 6 421 2-519 1 1046 6-948 2 98 5-364 2 337 2-68 4-310 2 707 3-650 2 593 6-380 2 684 1-771 2 540 8-506 2 206 1 70 2-288 4 272 2 287 2-706 1 806 4-758 2 522 6 129 3-463 2 796 2-1029 6 390 1-142 6 113 4-271 1 80 2 533 2-724 4 588 2-218 3-259 4 599 2-59 2-136 2-531 5 1002 2-506 4 239 2-532 1 42 2-71 8 281 2-370 1 355 2-490 2 497 4-164 2 90 2 493 7-877 2 1248 7-1033 2-148 2 632 5-118 2-75 8 443 2-255 1 80 8-506 2-98 2 476 7-3 2-83 2 231 1-631 4 166 2 202 4-163 3 102 2-202 6-208 4 1132 1-1236 6 516 2-120 2-9 3 75 6-302 2 498 5-456 2 360 2-350 7 425 2-26 4-603 4 702 1-634 2 485 6 422 2-1096 2 690 7-386 2 554 2-281 2 82 3-472 2 137 2 26 5 387 2-563 2 324 6 450 2-482 1 240 2-322 6 622 2-648 2 261 1 329 8-639 2-2 2 739 1-869 4 249 2 242 2 536 5-956 2 356 6-441 3 357 2-402 2 774 6-495 2 49 1-71 4 258 4-79 2-62 3-163 4 687 2-520 4 696 1-1130 2 617 2-243 4 179 2-538 3 332 2 457 4-585 4 177 1 295 8 352 2-123 2 140 1-934 6 643 2-441 4-222 1 358 2-3 2 234 7-558 2 333 2-289 6-56 2 714 1-383 8-26 2 533 2-585 3-256 4 694 2-572 2 257 5-415 2-10 4 817 5-318 2 48 2-358 6 676 1-832 4 669 6-617 2 437 1-148 4 1079 2-853 2 540 3-849 4 282 2-273 9 883 2-992 6 388 2-277 1 34 4-104 4 710 2-420 1 18 2 208 6-314 2-369 2-50 3 648 4-226 2 406 2-623 5 47 2 282 4 248 3-489 2 430 4-532 6 343 1-57 4 433 2-905 2 382 2 100 2 470 3-843 4 80 2 182 2 344 3-613 2 603 2-298 6-1 1 694 2-912 2-207 8 671 1-392 2 347 2-464 4 342 2-52 2 236 1-555 6 249 2 129 3-182 2 629 2-626 2-192 2-43 5 828 2-136 2 182 4-612 4 160 1 173 2-152 6 254 2 118 3-638 4 792 2-597 2 92 5-260 2 560 2-570 6 813 1-413 2-294 6 300 3-881 2 240 8 778 2-551 7 626 2-821 2 411 2-426 5 408 2-10 2 532 3-889 2 308 2 332 6-591 3 358 2-152 6 513 2-684 2 733 3-675 6 239 2 24 3 112 2-690 2 49 2 506 2-143 3 512 2-248 2-92 2-511 6 878 1-351 2-203 4 400 4-548 2 35 3 995 2-1101 4 50 2 746 3-737 4 389 2-501 5 1096 2-932 2 455 6-492 3 495 2-408 4-64 4 410 1-229 2-27 6 924 2-403 2-364 5-392 2 297 2 173 7-508 2 580 4-415 2 820 3-396 2-289 4-351 4 1194 1-1264 10 688 2 182 1-604 2 647 4-408 2-170 2 281 1-393 4 393 2-379 4-172 3 821 2-474 2 129 2-339 4 414 2-314 1-102 10 545 2-89 3-408 4 86 2 1026 2 120 1-1420 4 657 2 157 9-732 2 397 6-292 2 216 1-87 4 511 2-681 4 53 1 31 2 259 6-128 2-20 2-306 3 658 4-602 2 348 4-357 1 469 2-148 2-165 4-276 3 677 2 117 6-584 2 762 2-552 1-6 6 108 2-387 2 737 7-578 2 202 2-208 2 647 5-627 2-151 2 396 4-444 1 367 2-308 6 559 4-641 1 78 6 548 2-470 2 413 5-400 4 110 2-241 5 697 2-151 2-609" fill="none" stroke="#ff0000" stroke-width="15" stroke-linejoin="round" />
</g>
<text x="126.90" y="686.40" font-family="'Liberation Sans', Arial, Helvetica, sans-serif" font-size="22.3" fill="#262626" text-anchor="middle" font-weight="normal" >0</text>
<text x="311.95" y="686.40" font-family="'Liberation Sans', Arial, Helvetica, sans-serif" font-size="22.3" fill="#262626" text-anchor="middle" font-weight="normal" >500</text>
<text x="497.00" y="686.40" font-family="'Liberation Sans', Arial, Helvetica, sans-serif" font-size="22.3" fill="#262626" text-anchor="middle" font-weight="normal" >1000</text>
<text x="682.05" y="686.40" font-family="'Liberation Sans', Arial, Helvetica, sans-serif" font-size="22.3" fill="#262626" text-anchor="middle" font-weight="normal" >1500</text>
<text x="867.10" y="686.40" font-family="'Liberation Sans', Arial, Helvetica, sans-serif" font-size="22.3" fill="#262626" text-anchor="middle" font-weight="normal" >2000</text>
<text x="115.40" y="661.90" font-family="'Liberation Sans', Arial, Helvetica, sans-serif" font-size="22.3" fill="#262626" text-anchor="end" font-weight="normal" >−<tspan dx="3">100</tspan></text>
<text x="115.40" y="564.58" font-family="'Liberation Sans', Arial, Helvetica, sans-serif" font-size="22.3" fill="#262626" text-anchor="end" font-weight="normal" >−<tspan dx="3">80</tspan></text>
<text x="115.40" y="467.27" font-family="'Liberation Sans', Arial, Helvetica, sans-serif" font-size="22.3" fill="#262626" text-anchor="end" font-weight="normal" >−<tspan dx="3">60</tspan></text>
<text x="115.40" y="369.95" font-family="'Liberation Sans', Arial, Helvetica, sans-serif" font-size="22.3" fill="#262626" text-anchor="end" font-weight="normal" >−<tspan dx="3">40</tspan></text>
<text x="115.40" y="272.63" font-family="'Liberation Sans', Arial, Helvetica, sans-serif" font-size="22.3" fill="#262626" text-anchor="end" font-weight="normal" >−<tspan dx="3">20</tspan></text>
<text x="115.40" y="175.32" font-family="'Liberation Sans', Arial, Helvetica, sans-serif" font-size="22.3" fill="#262626" text-anchor="end" font-weight="normal" >0</text>
<text x="115.40" y="78.00" font-family="'Liberation Sans', Arial, Helvetica, sans-serif" font-size="22.3" fill="#262626" text-anchor="end" font-weight="normal" >20</text>
<rect x="470.60" y="119.40" width="189.20" height="143.20" fill="#ffffff"/>
<path d="M565.20 119.40V262.60M470.60 251.58H659.80M470.60 207.52H659.80M470.60 163.46H659.80" stroke="#dcdcdc" stroke-width="1.3" fill="none"/>
<path d="M470.60 119.40H659.80V262.60H470.60ZM470.60 262.60v-4.00M470.60 119.40v4.00M565.20 262.60v-4.00M565.20 119.40v4.00M659.80 262.60v-4.00M659.80 119.40v4.00M470.60 251.58h4.00M659.80 251.58h-4.00M470.60 207.52h4.00M659.80 207.52h-4.00M470.60 163.46h4.00M659.80 163.46h-4.00M470.60 119.40h4.00M659.80 119.40h-4.00" stroke="#333333" stroke-width="1.5" fill="none" stroke-linecap="square"/>
<clipPath id="c2"><rect x="470.10" y="118.90" width="191.20" height="144.70"/></clipPath>
<g clip-path="url(#c2)">
<path transform="scale(0.1)" d="M4706 2692l3-70 1 70 0 0 9-34 1 34 1 0 1-56 8 56 1 0 3-102 5 102 1 0 1-107 9 79 0 28 6-108 4 108 0 0 8-85 2 85 0-27 1 27 4-79 5 79 0 0 10-69 1 69 6-68 3 68 1 0 5-75 3 75 1 0 8-73 2 73 0 0 5-86 5 86 0 0 5-73 5 73 0-24 1 24 7-97 2 97 0-29 1 29 8-59 1 59 1 0 9-69 1 69 8-93 1 93 5-122 5 122 0 0 6-123 4 32 0 76 1 15 9-178 0 77 2 101 7-138 1 138 0-136 1 136 5-162 4 162 1-163 3 163 6-80 1 80 3-142 5 142 1 0 2-196 8 196 0 0 9-208 1 94 0 75 3 39 7-187 0 126 2 61 6-210 2 208 0 2 2-142 8 142 1-56 0-93 3 149 6 0 1-40 3 40 5-197 0 134 1 37 2 26 4-203 4 180 0 23 8-175 2 86 0-25 2 114 3-182 5 130 0 3 3 49 6-142 1 15 0-37 2 98 8-67 1-6 0 39 9-187 1-30 3-879 5 926 1 10 8 166 2-34 0-54 3 155 7-23 0-8 2-117 1 175 7-86 0 59 7-127 3 67 0 87 3-199 7 85 1 84 3-133 5 156 1-116 1 123 6-183 2 48 1 86 2-141 3 146 5-118 0 107 4 22 5-154 1 39 0 62 2-80 6 122 2-14 0 4 4-129 6 84 0-38 4-61 1 192 5-141 1-33 1-10 4 190 4-97 1 50 5-150 3 167 0-82 1 18 7 70 3-175 0 154 3-168 7 33 0 45 2-44 5 161 3-149 0 82 3 85 6-200 1 121 0-55 5 134 2-229 3 48 1-7 0 188 3-195 6 43 1-7 6 58 1-144 1 48 1 164 7-181 2 214 1-170 0 155 1-233 9 83 0-43 2-51 6 259 2-112 0-58 7-54 1 166 2-105 0-34 5-27 4 134 1-72 1 54 3 53 2-209 3 135 1-13 2-87 7 196 0-117 1-21 3-46 6 197 1-121 0-34 4 61 1-144 5 71 0 37 1 105 1-241 8 187 0-30 5 67 4-164 1 70 0-27 6 98 3-200 1 140 1 0 5 54 3-168 0 109 1-112 7 179 2-147 1 37 2 85 7-159 1 52 0 37 10-218 0-44 3-796 6 974 1-8 0-11 8 136 2-44 0-44 7-48 2 208 1-115 1-40 4-3 4 142 0-27 1-68 4-82 2 146 3-21 1-11 1 33 5-115 4 99 0-5 1 83 2-161 7 94 0-47 3 50 5-130 2 93 0-31 1 189 3-201 6 34 0-79 9 130 1-198 1 106 5 150 3-168 0 59 1-60 4 117 2-145 3 125 1 46 3-134 7 200 0-178 2 118 7-215 1 162 0-144 8 275 2-182 0 47 4 14 4-125 2 46 0-7 6-62 3 179 1-102 1-11 0 115 6-135 2 9 1-32 4 159 5-141 1 10 1 124 5-185 4 117 0-28 1 120 7-140 2 16 0 45 6 47 3-154 1 91 0-87 7 186 3-81 0-117 4 128 2-129 4 61 1 60 2-139 6 176 0-33 1 13 3 88 1-204 5 95 1-112 1-4 2 182 7-39 0-155 10 205 0-78 3 105 2-208 5 44 0 33 4 175 1-270 5 16 0 59 6 195 0-247 4 137 1-58 3 94 4-156 1 51 1 46 1-113 5 153 3-52 1-132 5 179 5-61 0 37 3 15 6-123 1 59 0-54 2 95 6-135 2 59 0-15 3 78 5-115 2 48 0 0 10-387 1-132 0-538 8 995 1-13 9 155 0-111 1 5 5 80 2-106 3 11 0 27 5 141 5-151 0 70 3 148 5-275 2 97 0-26 4 93 2-105 4 14 0-82 8 246 2-119 1-5 3 103 5-176 0 92 1 42 3-120 6 42 1 86 3 1 3-147 4 124 0-122 1-5 4 123 5-76 0-41 2 160 8-168 0 53 4 114 3-151 3 62 0 0 6-60 3 117 1-18 1-73 1-22 4 238 3-167 1 70 8-154 1 168 0-110 1-18 5-44 1 183 4-91 0 1 4-126 1 185 5-158 0 71 5 35 4-126 1 103 0 85 4 93 1-274 5 107 0 1 9-84 1 154 1-88 3 102 5-188 1 98 1-55 8 139 1-92 0 84 8-109 2 203 0-209 5-63 2 191 3-60 0-12 2 65 8-151 0 89 3 115 7-212 0 63 4-37 2 122 4-49 1 79 0 4 8-167 0 41 1 40 4 29 5-87 1 74 0-85 8 110 1-125 1 68 0 31 8 82 1-162 1 52 0-1 2-85 5 144 3-53 0 4 2 98 6-150 2 18 0 64 4-103 2 138 4-47 1 26 6 25 1-156 1 73 1-84 1 107 2-137 7 6 0 38 10-1032 0 538 9 497 1-13 0 23 2-51 7 129 1-61 0 80 2-139 8 210 1-148 4-52 1 160 4-90 1-19 3-36 3 245 2-211 1 52 5 159 1-221 4 41 0 70 1 67 2-189 7 90 0-55 8 132 2-111 0 32 5 90 1-186 4 44 0 37 3 21 6-148 1 65 1 102 5-109 1 130 3-30 1-125 8 209 1-167 3-5 2 149 5-109 0 114 1 13 3-217 6 149 0-24 1 61 6-136 3 82 0-24 7 102 2-172 1 51 0 25 9 152 1-215 1 197 2 18 4-239 3 49 1 182 3-205 5 126 1-97 2 184 4-246 4 116 0 86 6-142 2 186 2-98 0 34 2 53 0-257 8 71 0 197 2-224 8 133 0-63 2-87 2 241 6-33 1-67 2 100 4-227 3 118 1 18 1-94 0 185 7-122 1-60 4 170 0-248 6 202 0-7 1 65 4-196 5 70 0-117 5 243 5 0 0 0 5-238 5 59 0-48 1 227 9-54 1-31 0 85 9-158 1 91 1 67 6-171 1 64 1 4 1 103 2-146 7 140 0-118 1-68 5 192 4-145 0-1 1 146 1-159 8 159 0-60 2 60 2-154 6 92 0 62 1-187 7 13" fill="none" stroke="#0000ff" stroke-width="12" stroke-linejoin="round" />
<path transform="scale(0.1)" d="M4706 2580l1 112 3-71 1-54 1 125 2-209 5 184 1-93 1 118 1-119 8 56 1-106 1 144 7-18 1-81 5-35 4 159 1-53 0-83 1 136 9-62 1-94 1 156 3-159 4 159 1 0 10-165 1 138 3-101 1 112 4-35 1 17 4-103 1 137 5-19 1-7 1-105 1 131 6-43 1-62 4 105 4-183 2 183 0-81 6-53 1 134 3-37 1-112 1 149 7 0 1-145 4-19 1 142 5-52 1-52 5 126 3-151 1 7 1-43 8 133 1-127 1 118 2 47 3-211 3 157 1-108 2 178 3-209 5 126 0 17 5 56 4-229 1 69 1 32 1-120 5 258 2 0 1-196 3 162 6-235 1 119 1-22 7 172 1-294 1 77 2 121 1-200 7 81 1 19 3-103 5 275 1-232 1 179 5-267 4 132 0 30 3 162 5-388 2 77 1 75 3-102 2 358 3-122 1-69 1-167 9 293 1-280 4 249 4-49 1-45 2 20 3-212 5 194 1 45 2-191 4 313 2-222 1-80 2 193 3-211 5 28 0-35 3 237 7-139 1-93 4-20 1 133 3-71 1 30 5 6 5-53 1 11 8-73 1-10 10-71 1-2 3-441 5 444 1 3 10 81 0 11 9 93 1-5 1 16 7 140 1-35 1 32 1-91 9 182 1 33 3-158 5 2 1-18 2-78 1 252 7-14 1-67 1-31 4 112 3 0 1-10 1 10 4-77 5 77 0-45 2-58 1 103 7-55 1 55 8 0 1-57 2 57 8-18 1 18 2-35 6 35 1 0 9-20 1 20 1 0 7-32 1 32 1 0 6-96 4 77 0-3 1 22 3-83 6 4 1 79 5-40 3 40 1 0 10-51 1 51 6-60 2 60 1-23 1 23 6-122 3 122 1 0 8-37 1 37 6-69 4 69 0-26 2 26 4-87 4 87 1 0 8-88 1 88 8-180 2 180 1-125 1 125 7 0 1-57 3 57 3-168 4 157 1-109 3-39 2 159 3-32 1-36 5-80 4 148 1-99 0 81 2 18 6-240 2 167 1-82 7-145 1 300 1-217 3 203 5-303 2 28 1 3 5 85 3-77 1-26 4 190 2-235 4 19 1-15 7-61 1 13 1-8 10-79 1-5 9-28 1-6 2-539 6 553 1 2 10 51 1 7 7 55 1-11 1 61 1-60 7 178 2-136 1 24 8 241 1-136 3 112 2-248 5 127 1 192 1-194 8 56 1 3 5-39 3 220 1-23 8-197 2 220 1-124 4-64 4 163 1-96 6 121 3-192 1 131 1 21 1 40 1-147 6 19 1 128 7-39 3 39 1 0 9 0 1 0 3-27 5 27 1 0 10 0 1 0 8 0 1 0 10 0 1 0 8 0 1 0 10 0 1 0 3-60 6 60 1-15 1 15 7-3 1 3 4-40 6 40 1-48 2 48 1-81 5 81 1 0 10-47 1 47 2-139 6 139 1 0 2-115 8 82 1-86 5 119 4-49 1-87 7 96 1-145 1 65 1-49 1 169 8-97 1-140 5 237 3-65 1 16 1-255 1 304 8-217 1-3 4 182 4-42 1-114 4 61 2-145 4 86 1 153 9-304 1 99 7-120 1 20 1-34 10-51 1-4 8-36 1-47 1-553 9 630 1 3 8 41 1 13 10 57 1 23 0-36 6 89 3-53 1 49 2 130 1-229 5 109 1 2 2 241 6-327 2 90 1 52 4 100 1-257 3 111 1 26 2 205 8-152 1 87 1-168 7 219 1-123 3-101 3 238 4 0 1 0 9-144 1 116 1 28 7-145 1 145 5-26 5 26 1 0 7-51 1 51 1 0 5-89 5 89 1 0 2-18 6 18 1 0 10 0 1 0 9 0 1 0 8 0 1 0 4-1 6 1 1 0 8 0 1 0 10 0 1 0 7-49 1 49 1 0 3-49 7 20 1-23 0 52 8-53 1 33 1 20 3-129 5 109 1-114 1 134 1-144 8 144 1-103 1 103 1-178 6 162 1-83 3 99 3-280 4 256 1-21 2 45 5-252 1 136 1-162 7 254 3-348 1 149 3-78 1 301 4-261 1 110 9-157 1 42 1 84 9-204 1 198 8-223 1 30 10-93 1-10 8-76 1-8 10-611 1 526 8 86 1 8 9 90 1-3 5 75 5-12 1-16 7 186 1-100 1 40 1-60 5 156 4-59 1-60 1-52 7 307 1-217 2 284 1-351 7 271 1 80 4-204 2 204 2-203 1 3 2 155 6-275 1 210 1 67 3-254 6 297 1-127 1 34 3 72 2-293 3 232 1 82 2-259 8 142 1-124 7 241 1-33 1-135 5-28 4 196 1-120 1-3 3-87 1 210 4-110 1 6 3-124 2 228 4-150 1 24 1 126 1-207 8 157 1 50 4-199 4 102 1 53 4 44 3-214 3 168 1 19 1-188 3 215 4 0 1 0 3-192 7 126 1 53 1-191 6 204 1-26 1-8 5 34 4-161 0 24 1 5 1 132 1-311 8 311 1-168 4-39 1 207 3-73 1-128 2 201 8-176 1 154 1 22 2-131 5 27 1-119 1 223 9-214 1-34 1 248 7 0 1-266 3 266 6-73 1-43 1 116 8-186 1 61 1-46 6-23 1 194 1-193 1 117 1 76 9-226 1-55 6 281 2-81 1 81 10-181 1 24 1 118 5-298 2 203 1 134 1-231 8 188 1 10 1 33 3-248 4 76" fill="none" stroke="#ff0000" stroke-width="12" stroke-linejoin="round" />
</g>
<text x="470.60" y="282.90" font-family="'Liberation Sans', Arial, Helvetica, sans-serif" font-size="18.2" fill="#262626" text-anchor="middle" font-weight="normal" >0</text>
<text x="565.20" y="282.90" font-family="'Liberation Sans', Arial, Helvetica, sans-serif" font-size="18.2" fill="#262626" text-anchor="middle" font-weight="normal" >500</text>
<text x="659.80" y="282.90" font-family="'Liberation Sans', Arial, Helvetica, sans-serif" font-size="18.2" fill="#262626" text-anchor="middle" font-weight="normal" >1000</text>
<text x="466.60" y="257.88" font-family="'Liberation Sans', Arial, Helvetica, sans-serif" font-size="18.2" fill="#262626" text-anchor="end" font-weight="normal" >-40</text>
<text x="466.60" y="213.82" font-family="'Liberation Sans', Arial, Helvetica, sans-serif" font-size="18.2" fill="#262626" text-anchor="end" font-weight="normal" >-20</text>
<text x="466.60" y="169.76" font-family="'Liberation Sans', Arial, Helvetica, sans-serif" font-size="18.2" fill="#262626" text-anchor="end" font-weight="normal" >0</text>
<text x="466.60" y="125.70" font-family="'Liberation Sans', Arial, Helvetica, sans-serif" font-size="18.2" fill="#262626" text-anchor="end" font-weight="normal" >20</text>
<rect x="682.20" y="87.70" width="165.80" height="60.00" fill="#fff" stroke="#262626" stroke-width="1.6"/>
<path d="M689.20 102.70H757.00" stroke="#0000ff" stroke-width="1.3"/>
<path d="M689.20 131.80H757.00" stroke="#ff0000" stroke-width="1.3"/>
<text x="762.00" y="111.00" font-family="'Liberation Sans', Arial, Helvetica, sans-serif" font-size="22.3" fill="#000" text-anchor="start" font-weight="normal" >ANC off</text>
<text x="762.00" y="140.10" font-family="'Liberation Sans', Arial, Helvetica, sans-serif" font-size="22.3" fill="#000" text-anchor="start" font-weight="normal" >ANC on</text>
<text x="497.20" y="56.00" font-family="'Liberation Sans', Arial, Helvetica, sans-serif" font-size="27.5" fill="#000" text-anchor="middle" font-weight="normal" >N=20</text>
<text x="497.00" y="720.40" font-family="'Liberation Sans', Arial, Helvetica, sans-serif" font-size="27.5" fill="#262626" text-anchor="middle" font-weight="normal" >Frequency(Hz)</text>
<text transform="translate(47.30 361.00) rotate(-90)" x="0" y="0" font-family="'Liberation Sans', Arial, Helvetica, sans-serif" font-size="27.5" fill="#262626" text-anchor="middle">Power/Frequency (dB/Hz)</text>
<path d="M1266.42 61.30V656.10M1454.85 61.30V656.10M1643.28 61.30V656.10M1078.00 556.97H1831.70M1078.00 457.83H1831.70M1078.00 358.70H1831.70M1078.00 259.57H1831.70M1078.00 160.43H1831.70" stroke="#dcdcdc" stroke-width="1.3" fill="none"/>
<path d="M1078.00 61.30H1831.70V656.10H1078.00ZM1078.00 656.10v-7.00M1078.00 61.30v7.00M1266.42 656.10v-7.00M1266.42 61.30v7.00M1454.85 656.10v-7.00M1454.85 61.30v7.00M1643.28 656.10v-7.00M1643.28 61.30v7.00M1831.70 656.10v-7.00M1831.70 61.30v7.00M1078.00 656.10h7.00M1831.70 656.10h-7.00M1078.00 556.97h7.00M1831.70 556.97h-7.00M1078.00 457.83h7.00M1831.70 457.83h-7.00M1078.00 358.70h7.00M1831.70 358.70h-7.00M1078.00 259.57h7.00M1831.70 259.57h-7.00M1078.00 160.43h7.00M1831.70 160.43h-7.00M1078.00 61.30h7.00M1831.70 61.30h-7.00" stroke="#333333" stroke-width="1.7" fill="none" stroke-linecap="square"/>
<clipPath id="c3"><rect x="1077.00" y="60.30" width="755.70" height="596.80"/></clipPath>
<g clip-path="url(#c3)">
<path transform="scale(0.1)" d="M10780 4126l6-299 3 399 1-267 5 788 4-802 1 378 6-416 3 753 1-644 1-159 5 814 3-434 1-183 6-176 2 712 1-562 1 367 2 82 5-722 2 70 1 491 9-451 1-122 4 592 5-215 1 106 2 595 3-954 4 375 1 15 3 459 6-976 1 300 4 506 2-648 3 157 2 46 5-159 1 360 2-43 2 73 3-541 3 729 2-457 2 39 5 299 1-595 2 419 2-126 3 440 2-587 3 133 2 132 2 305 7-610 1 55 2 784 4-922 3 596 1-383 2 634 5-787 2 163 1 329 1-550 5 716 3-384 1-83 5 552 2-818 2 261 1 220 5 29 3-394 1 141 1-31 3-169 2 370 4-208 1 128 1-343 3 966 5-577 1-195 5-222 3 438 1-156 1-98 1 258 2-425 6 206 1-33 1 299 4-459 3 286 1 36 5 253 3-465 1 302 1-121 1-278 3 634 5-300 1-192 3-210 2 823 4-489 1-181 4-41 5 480 1-217 4-290 5 500 1-451 3 380 5-438 1 215 1-18 4 440 3-649 2 296 1-307 9 532 1-522 5-54 2 371 2-169 1 442 7-708 2 555 2-39 3-378 3 622 2-6 2-551 5 369 2-575 1 495 2-231 7 46 1-318 2 303 1-240 4 312 3-96 2-372 5-24 4 1054 1-705 2-167 2 370 5-81 1-138 4-243 1 551 4-116 1-415 7-73 2 584 1-52 6-534 3 360 1-116 2-127 2 448 5-257 1 51 1 314 4-487 4 108 1 91 3-337 6 463 1 57 6 79 3-722 1 671 3 61 6-697 1 175 4 472 4-103 1-183 1 175 3-539 5 298 1 287 4-643 5 330 1 41 4 437 4-667 1 197 1 54 5-346 4 253 1 427 6-586 2 769 1-484 1-387 2-43 5 681 2-376 1-152 5 774 4-381 1-54 5 187 3-542 1 82 1 21 3 274 6-370 1 363 5 290 3-618 1 90 1 52 2-51 1 375 6-263 2 140 2-493 6 736 2-740 6-10 1 605 1-488 2 51 2-69 5 515 1-291 2 6 1-98 4 557 3-500 2 110 1-334 6 431 2-122 1-105 4-220 3 492 2-210 1 38 6-206 1 282 2-56 1 78 5-297 4 62 1 80 5-222 4 219 1-115 4-25 4 114 1-81 1-11 3 107 6-158 1-121 3 94 3-182 3 43 1-56 9-470 1-178 3-1503 6 1889 1 66 8 321 1-133 6 269 3-86 1 7 3-57 6 228 1-61 1 188 4-255 4 249 1-66 8 90 1-352 1 198 1 328 2-480 6 9 1 3 5 276 4-241 1 107 3 54 5-207 1 48 1 201 3-245 2 414 4-282 1-236 5 410 4-140 1-219 3 418 6-159 2-44 1-185 5 285 2-244 2 30 5 351 2-353 1 115 2-172 7-57 1 706 2-409 3 4 4-316 1 148 2 158 2-258 1 280 6-205 1-21 4 200 5-289 1 146 1 193 3-280 5 70 1 33 1-169 4 272 4-218 1 27 5 235 4-105 1 110 8-208 1 110 1-76 1-138 3 186 5-60 1 35 5 45 1-200 3 85 1 14 1-138 3 432 5-166 1-92 1 53 5-210 3 102 1-41 4 385 1-424 3 32 1 31 3-34 2 270 4-35 1 1 1 63 4-366 4 162 1 0 1 213 8-156 1-36 4-182 4 389 1-284 1-66 1 333 8-410 1 74 4 244 5-146 1 146 3-242 2 247 4-190 1 202 7 105 1-224 1 70 1 120 5-329 4 478 1-426 8 255 1-303 2 197 1-249 6 376 1-211 2 43 2 394 5-665 1 254 2 145 3-307 2 508 3-452 2 335 1-408 7 28 2 64 1 75 7-164 2 62 6 146 3-324 1 253 1-145 4 383 4-367 1 6 5 327 1-386 3 252 1 312 5-641 4 449 1-161 2-162 3 232 4-92 1 37 5 146 1-473 3 162 1 15 4-128 5 643 1-476 5 145 4-177 1-87 6-19 2 375 1-215 1 2 3-101 3 198 3-36 1-70 1-152 2 299 5-170 1 172 6-172 3 28 1 222 4-469 5 363 1-205 5 227 1-308 3 175 1 180 3 14 3-323 3 263 1 134 9-415 1 201 3-179 6 176 1 246 4-534 5 88 1 234 3-323 6 171 1-40 4 347 1-543 4 135 1 310 2-237 7 138 2-59 1 134 6-279 1 245 2 50 1 67 4-292 3 31 2-106 7 221 1-86 2-54 3 236 5-452 2 168 9 227 1-259 4 303 5-380 1 246 1-252 6 362 2-224 1 215 1-312 4 362 4-157 1-174 5 273 4-37 1-33 6 51 3-338 1 118 1 84 7-221 1 56 1-23 1 22 8-268 1-58 6-1889 3 1506 1 171 9 515 1-18 1-26 5 198 2-109 1-66 8 282 1-177 1 113 5 45 4-189 1 61 5-157 4 467 1-6 6-346 3 72 1 24 1-99 8 319 1-61 2-154 7 31 1-215 3 329 6-128 1 81 3 49 5-209 1 68 1 79 4-196 3 218 2-4 1 9 4 175 3-362 2 28 2 87 1 2 2-109 5 80 2 122 6-184 1 191 1-125 2 73 6-240 2 85 2 125 7-97 1 519 2-440 1-52 4 211 3-111 2-50 2 28 3-305 4 206 1 72 7-99 2 213 1-447 5 450 4-187 1 85 2 228 5-376 2 131 1-135 6-39 3 302 1-103 3-222 6 281 1 104 6-303 3 188 1 105 5-168 4 327 1-401 1-77 3 342 5-197 1-57 3 200 5-429 1 363 1-324 8 454 1-360 6 626 2-658 1 214 1-65 5-71 3 206 1-88 1-42 5 29 1-179 3 61 1 42 4-122 5 237 1 62 1-332 7 403 1-151 1-78 2-26 1 259 6-119 1 77 5-261 4 20 1-73 8 358 1-274 1 56 7 114 2-213 1 22 3 280 4-308 2 290 2-151 1-248 2 380 5-116 2-64 1 270 6-276 1 214 2-173 1 214 5-293 2 36 2 102 2 57 5-226 1 72 2 71 1 132 6-347 2 204 1-195 2 222 7-159 1-25 2 381 5-406 2 222 1-264 6 290 3-45 1-247 4 248 5-109 1 134 2 27 3-339 4 249 1 45 5-73 1 174 3-45 1-98 5 296 3-458 1 35 1 65 4 155 5-294 1 265 1-274 3 411 5-224 1 68 1-161 7 227 1-349 1 296 8-177 1-108 9 451 1-175 6 235 3-466 1 110 1-34 5 84 3-62 1 75 4-65 4 521 1-484 1-185 8 314 1-279 1 133 4-46 4 157 1-120 1 505 2-613 7 307 1-130 7 212 1-237 1 89 1 97 5-301 4 220 2-256 7 321 1-285 2 309 8-415 2 32 7 372 1-162 2 107 6-189 2 191 2-108 2-91 3 231 3-70 2-160 4 189 2-235 3 11 1 16 1 199 5-281 3 51 1 175 4-250 5 99 1 168 1-246 3 254 5-58 1-143 4-57 5 106 1-171 1 67 7-233 1 85 1-74 9-840 1-1211 9 2010 1 61 9 214 1-41 1-11 7 244 1-137 1 13 5 204 2-249 1 10 1 14 5-36 4 203 1-117 3-120 2 226 4-142 1 92 4-96 4 322 1-295 1 169 8-215 1 159 1-106 5 438 4-524 1 44 2 124 3-263 4 161 1 52 4-63 1 219 4-44 1-191 2 219 7-373 1 350 5-297 4 84 1 150 3-108 1 375 5-280 2 6 3-117 3 343 2-205 2 112 2 2 3-305 3 78 2 7 2-53 1 252 5-5 2-98 1-73 6 211 1-156 2 84 2 75 7-331 1 85 6 195 3-285 1 123 4-102 2 254 3-137 1-70 7-55 2 232 1-91 1 218 3-347 5 180 1-131 4 178 2-257 3 152 1 23 4 199 5-117 1-157 1-65 4 288 4-62 1-34 6 69 2-256 1 75 1 33 5 155 3-204 1 147 1-166 1-32 4 456 3-279 1 388 4-461 5 223 1-229 6-50 2 224 1-100 1-174 3-26 2 377 4-134 1-25 6-228 3 411 1-281 8 81 1-165 1 182 5-302 3 417 1-254 1 108 3 59 4-268 2 201 1-29 5-102 2 168 2-100 1 68 4-251 4 421 1-277 1 111 5 417 3-657 1 259 2 20 1 131 1-384 6 108 2 254 6-265 2 134 2-17 3-186 3 347 2-178 2 198 3 10 3-306 2 25 2 4 5-144 2 277 2-182 1 252 4-219 3 240 2-67 1-170 1-32 3 310 5-221 1-12 2 109 5-126 2 94 1-89 5 437 1-470 3 40 1-85 5-97 4 424 1 8 3-414 6 263 1 134 9-280 1-37 1 278 4-302 4 164 1 56 1 239 7-468 1 354 1-168 3 34 2-227 4 105 1 40 4-87 3 275 1-62 1-76 3-118 6 332 1-32 8-273 1 148 1 83 4-301 5 61 1 109 4 77 1-190 4 70 1-54 3 146 4-193 2 9 1 94 7-122 1 240 1-112 1 24 3 114 1-281 5 203 1-97 5-31 2 135 2-133 1-14 2 345 7-442 1 52 9 273 2-54 1 4 7-124 2 284 5-316 3 147 2-91 1-78 6 188 1-120 2 118 2-233 5 311 1-266 2 69 4-71 2 221 3-147 1 32 6-103 3 273 1-350 6 216 1-257 2 68 1-121 2 281 7-164 1 20 1 41 8-205 1 36 9-432 1-117 4-1682 5 1803 1 73 8 316 1-4 1 10 6 199 3-63 1-28 1 209 5-249 3 199 1-82 5 187 3-159 1-154 1 321 8-59 1-53 5 264 1-333 3 237 1-21 5-334 3 361 1-151 1-3 4-128 5 216 1 12 3-274 6 576 1-425 2 170 2-243 5 1 1 107 5 365 3-496 1 224 1-170 3-34 5 381 1-253 1-167 2-7 1 187 6-54 1 182 3-268 6 67 2 98 3 109 3-240 2 40 2 24 1 232 6-337 1 219 2 14 3 128 3-417 2 217 2 75 1 109 1-344 6 112 2 60 2-143 7 138 1-126 2-202 4 423 3-102 1-125 6-66 3 294 1-132 2 120 3-338 4 204 1 89 5 20 2-177 2 131 1-68 2 271 7-386 1 173 4 161 1-325 4 166 1-10 5 211 1-338 3 160 1-117 1-194 3 408 5-71 1 86 8-251 1 231 1-86 1 18 5-223 3 175 1-167 3 176 5-185 1 114 4-92 4 339 1-305 1 293 1-375 8 279 1-113 8 116 1-216 1 62 1 470 3-568 5 314 1 197 7 57 2-623 1 367 4-257 1 410 4-223 1-44 2-194 6 458 1-414 1 198 5-221 3 532 1-416 1 394 5-606 4 144 1 468 2-407 7 293 2-278 1 8 4-93 3 69 2 461 7-713 1 413 2 140 8-387 2 101 7-169 1 685 2-455 4 235 1-438 4 167 1-80 2 186 4-337 3 195 1 465 2-503 7 329 1-100 1 172 4-362 4 346 1-199 1 315 5-628 3 578 1-328 6-156 3 609 1-347 4-14 2 350 3-82 1 173 3-681 6 200 1 182 1-558 8 311 1 104 5 241 3-319 1 299 1-341 1-150 4 424 3-154 1-180 4-196 5 525 1-38 1-129 3 204 5-158 1-85 9 804 1-794 4-317 5 1188 1-581 4-584 5 219 1-53 4 472 5-167 1-132 4-19 3 767 2-605 1-315 5 826 4-668 1 432 3-602 6 355 1 32 8-415 1 767 2-249 7-462 1 158 2-120 7 913 1-217 2-461 1 41 2-418 5 395 2-78 6-193 2 392 2-392 5-48 2 614 2-488 1 251 2 8 2-287 5 253 1-193 5-65 1 589 3-213 1-459 1 683 8-663 1 389 4-482 2 891 3-852 1 210 1 277 6-499 2 299 1 85 1-297 8 729 1-441 8 510 1-426 1-378 3 416 6-21 1 120 5 218 1-670 3 444 1-499 8 540 1-411 3-163 3 439 3-246 1 301 6-317 3 279 1-135 1 206 2-417 6 290 1-272 6 661 3-348 1-51 5-462 4 835 1-642 2-163 1 785 6-178 1-404 4 463 4-629 1 478 1 71 4-563 5 520 1-225 2-244 6 713 1-472 1 500 7-778 2 192 1 107 6-18 1 581 2-493 2 45 1 345 7-504 2-42 3 566 5-733 2 36 7 699 1-151 2-115 2 214 4-732 2 170 2 39 2 918 3-1011 4 264 1-69 5 267 4-533 1 631 1-672 8 89 1 67 1-140 5 540 3-221 1 779 1-956 8 147 1-172 3 554 5-803 1 494 1 342 6-590 3 358 1-166 1 87 4-326 4 127 1-23 5 756 3-832 1 524 1-486 5-188 4 768 1-201 4 141 3-459 1 168 1 57 8-391 1 341 1 64 4 152 5-533 1-48 5 501 4-353 1 614 5 254 3-844 1 381 1-429 3 514 5-546 1 171 1-137 5-200 4 839 1-289 3 40 4-554 2 474 1-334 3 565 2-635 4 348 1 207 5-610 4 149 1 411 3-542 1 1047 5-196 2-385 7-284 1 759 2-667 6-99 2 912 2-727 3 509 4-767 1 350 2-288 3 639 3-671 2 270 2-154 6 301 3-429 1 192 4-138 3 493 2-34 1 95 4-519 5 176 1 101 1 197 8-560 1 169 4-275 3 461 2-345 1 446 5 604 4-1048 1 685 1-766 8 635 1-499 5 394 4-391 1 90 3-304 1 922 5-109 1-811 5 669 4-544 1 761 6-782 2 180 1 41 6 380 2-509 1 297 1 75 1-602 4 832 4-824 1 498 4 269 5-594 1 203 8-452 1 1032 1-517 1-133 7 731 1-640 1-437 7 642 2-71 1-139 3-65 5 859 1-782 1-244 4 382 5-37 1 62 2 118 7-452 1 349 7 509 2-733 1-7 4-158 4 940 1-835 2 39 6 306 1-456 1 363 2-403 7-148 1 819 2-367 1 121 7-253 2-122 8 574 2-323 4 1113 1-1302 4 844 1-411 4 132 1-603 4 342 1 17 1 447 8-615 1-143 1 560 1-647 7 209 1-12 4 352 1-582 4 439 1-387 1 498 8-586 1 408 5 111 4-469 1 471 6-548 3 55 1 438 1 109 4-547 4 250 1 136 6-288 2 490 1-479 1-25 1 724 7-394 1 184 1-564 8 508 1-340 5 655 3-739 1 551 1-467 6 89 3-276 1-120 5 855 4-289 1-53 1 403 4-1005 4 274 1 102 5-103 4 490 1-231 2-155 1 443 6-90 1-596 4 743 5-607 1 617 3-778 6 448 1-152 3 821 1-989 5 189 2-169 2-107 1 1231 5-643 2-206 1 239 7-428 2 100 2 204 3-481 3 108 2 25 5 190 2-399 1 260 2 189 3-264 4 871 2-585 1-215 2 314 7-361 1 316 4-388 2 791 3-635 1-179 2-114 4 838 3-572 1-370 7 732 2-598 1 117 2 918 7-687 1-38 6 347 2-510 1 275 1-103 8 265 1-518 1 577 5-565 3 841 1-461 1-187 4 464 5-522 1 232 6-328 2 755 1-852 1 1055 8-424 1-485 3 747 5-864 1 328 1-108 3-189 3 764 3-302 1 110 5-418 4 115 1-22 3 262 6-139 1-256 2 733 1-892 6 875 1-428 4 129 4-528 1 443 1-87 5 95 4-471 1 797 5-813 4 397 1-32 2-162 2 826 5-637 2 123 3 152 2-589 3 493 2-519 6 477 2-112 2-270 1-236 1 645 6-416 2 235 6-429 2 321 2-137 1 569 7-533 2 338 4 247 2-569 3 250 1-386 1-85 8 651 1-341 1 1672 1-1792 7 245 1 148 9-546 1 202 2 617 7-541 1 277 4 28 5-515 1 155 1 283 3-379 5 347 1-433 3 588 6-461 1-6 8 532 1-459 1 181 1-323 2 407 6-284 1 186 7-419 1 366 1-234 8 442 1-300 1 123 3-243 3 779 3-735 1 256 4-353 2 390 3-261 1 121 3 120 6-494 1 345 4-231 5 879 1-514 5-415 3 432 1-361 1 232 5-280 4 676 1-639 5-3 3 510 1-421 1 37 4-43 1 575 4-506 1-108 2-20 4 912 3-602 2-427 7 1268 1-1162 2 129 2 870 5-903 1 346 2 173 6-566 1 709 1-292 2-398 2 705 6-664 2-249 9 554 1-302 5 730 4-788 1 402 4-382 5 624 1-119 5-507 4 136 1-130 5 323 4-415 1 549 4-350 5 633 1-10 6-849 3 179 1 35 1 774 2-804 6 96 1 62 1-458 2 749 6-387 1-60 9 401 1-336 1-122 6 227 1-113 1-112 9 732 1-962 8 572 1-60 1-285 3 436 6-344 1 11 4-288 1 667 4-449 1 240 3 605 5-1096 1 477 1-372 3 496 6-213 1 716 5-908 4 246 1-271 7 415 2-344 1 479 2-451 3 711 4-432 1 683 5-1110 4 291 2 285 1-393 7 254 2-49 6-519 1 591 1-197 2-99 5 453 3-610 2-73 1 873 7-590 2 38 1-310 4 1122 3-572 2-199 4 452 5-674 1 640 4-828 5 692 1-94 6 28 1-742 2 549 1 229 4-289 2 807 3-741 1-143 4 328 2-396 3 251 1-331 1-35 4 762 4-559 1-117 3-93 6 968 1-675 8 182 1-367 1 177 6-318 2 597 1-236 1-109 3 264 5-361 1 117 1 461 2-762 6 209 1 90 1-199 8 945 1-113 4-762 5 82 1 757 9-907 1 180 3 583 2-770 4 708 1-553 1 488 7-740 1 259 1 52 3-225 2 654 4-493 1 597 3-740 6 31 1 352 8-260 1 302 1 395 2-875 7 54 1 32 3-103 5 792 1-338 2 108 7-583 1 298 2-76 2 365 5-553 1 250 2 30 1 710 6-968 1 342 2-204 6 456 1-555 1 109 2-92 3 843 6-386 1 49 4-557 5 287 1-53 6 511 3-718 1-13 9 756 1 172 5-1120 4 542 1-103 1-89 5 578 3-543 1-72 8-67 1 475 1-499 5 602 4-461 1-191 1-26 7 586 1-217 1 59 5-432 4 875 1-436 1-495 2 843 5-452 1-256 5-186 3 678 1-483 1 256 3-219 5 505 1-243 1-98 6 137 2-343 1 237 1-118 4 654 5-500 1-83 1 359 8-436 1 31 5-153 3 310 1-248 1 161 5 153 4-297 1 343 2 201 3-567 4 129 1 86 8-193 1 643 1-728 8 545 1-132 2 84 3 553 2-1255 3 422 2 40 3-113 2 358 3-140 2 10 3-306 4 747 1-723 2-166 7 774 1-4 2-191 6-597 3 377 1-414 6 752 3-368 1-274 4 797 2-902 3 207 1 239 1-242 6 1008 2-909 1-191 2 529 7-426 1 72 2-18 4 1007 3-619 1-191 1-324 8 729 1-459 3 419 5-686 1 247 1 49 3-296 6 444 1-5 6-486 3 340 1-101 5 458 4-543 1-24 8 651 1-336 4 308 2-588 3 94 1 585 3-748 6 253 1-138 6-105 3 413 1-584 4 300 5-127 1 83 4-106 1 611 4-289 1 49 3 351 5-621 1 302 1-410 3-33 4 575 2-167 1-270 4-299 3 782 2-545 1 284 3-349 4 473 2-3 1-253 6 411 3-611 2 619 2-610 5 1251 1-1045 2-355 1 598 7-102 2-404 1 487 4-560 3 475 2 213 1-655 7 64 2 85 5 479 2-570 2 232 1 399 2-654 7 101 1 618 2-454 7 479 1-552 2-79 7 603 1-595 1-65 5 274 3-70 1 192 5 297 3-621 1 282 1-394 4-201 5 920 1-325 6 54 3-422 1 146 6 310 3-425 1 74 3 512 3-613 3 196 1-77 4-209 3 1007 1-584 1 79 1-353 3 1235 5-1070 1-188 6 688 3-838 1 372 1-577 2 1171 6-327 1-544 3-2 1 621 5-343 1-133 1-16 4 373 4-287 1-50 4 922 4-1158 1 401 1 153 2-510 7 6 1 89 5 608 2-709 2 216 1 32 2 134 3-343 4 259 1-47 2 329 5-640 2 528 2 30 7-443 1 18 2 139 2 599 1-907 5 62 2 47 7 785 1-620 2 132 2 280 6-472 2 553 1-687 8 619 1-358 4-291 2 1040 3-591 1-90 5-210 1 324 3-220 1 68 5 436 2-513 2 59 1-16 1-61 3 363 5-308 1-13 2-245 4 632 3-283 1 37 1 345 3-451 5 424 1-445 3-173 2 362 4-172 1-67 5 395 3-490 1 263 1 133 8-583 1 579 1-338 6 568 2-689 1 161 1 358 5-320 3 516 1-277 1 200 5-769 3 642 1-184 5-355 4 539 1-265 4-286 1 557 4-235 1-399 1 760 8-566 1 212 4 354 5-343 1 134 4-259 1 592 4-458 1 573 7-814 2 139 1-74 5-100 4 662 1-594 4 683 5-454 1-302 3 854 5-946 1 727 2-337 7 375 1-518 2 128 1-112 1 389 6-359 2-228 5 1116 3-298 2-329 6 102 2-438 2 145 2 228 7-545 1-87 4 844 5-272 1-496 7 772 2-552 1 7 2-180 3 701 4-436 1-125 2 236 7-512 1 54 1-76 1 544 7-172 1 97 6 484 3-794 1 334 3-265 2 783 4-398 1 113 3 13 1-662 5 221 1-162 3 422 2-631 4 601 1-115 3-204 5 316 1-301 1 403 8-519 1 233 4-100 5 551 1 3 3 220 3-657 3 313 1 300 1-788 8 270 1 86 5-309 2 778 2-557 1-122 2-193 2 1676 5-1280 1-183 2 765 3-854 4 147 1-342 7 716 2-130 1-36 7 440 1-988 1 103 1-13 3 667 6-318 2 112 3-409 2 563 3-440 2-55 2-200 1 1020 5-897 2-50 7 574 1-497 2 2 3-148 5 832 2-780 3 1302 3-1370 3 652 1-530 4-77 2 571 3-405 1 440 1 49 8-418 1-59 1-115 8 613 1-415 2 32 3-365 4 262 1 339 1 401 6-791 2 11 1-132 4 285 5-388 1 391 5 164 4-500 1 244 4 665 4-756 1 188 1 14 3-393 5 402 1-198 1 239 1-477 4 625 3-401 1 301 6-482 3 802 1-76 5-601 4 732 1-756 5 653 1-756 3 660 1-601 6 532 3-468 1 930 4-913 5 419 1 118 2 41 1-540 6 431 1-600 9 1165 1-1046 5 547 4-146 1-436 8 1070 1-786 1-84 2-484 7 764 1-284 6 572 3-760 2-87 3 533 5-340 2-284 3 785 5-144 2-171 6 31 1-405 1 68 2 300 5-415 3 615 2-165 2-288 4 590 3-458 1 266 6-456 3 835 1-488 1 148 6-529 2 387 1 116 4 793 1-1102 4 20 1 71 2-432 3 616 4-350 1 242 4 608 5-970 1 74 4 573 1-659 4 375 1-376 3 854 6-837 1 500 3 284 3-903 3 819 1-417 5-204 1 476 3-359 1 145 1 400 2-542 5 193 1-330 1-247 8 861 1-540 1-112 3 537 5-308 1-49 3 498 3-543 3 113 1-51 4 238 1-396 4 329 1-180 1 294 7-509 1 418 1 509 9-804 1 54 5 516 4-431 1-401 5 525 4-32 1-250 7 700 2-506 1 350 9-710 2 390 5-363 3 894 2-820 3 358 4-397 1 363 2 104 2 318 5-736 1 515 2-429 2 504 4-632 2 347 2 56 3-399 3 633" fill="none" stroke="#0000ff" stroke-width="15" stroke-linejoin="round" />
<path transform="scale(0.1)" d="M10780 3830l8-238 1 276 2-177 2-23 4 167 2-91 2 62 2 205 1-380 4 281 2-293 4-73 2 710 4-565 1 316 2-376 6 341 2-81 7-230 2-22 4-156 2 545 4-362 2 132 1-102 6 136 2-142 2 263 2-300 4 2 1 197 6 115 2-358 2 4 2 96 4 139 1-332 2 142 2 331 6-475 2 15 2 176 3-38 2 463 2-421 2 92 6 166 2-423 1 262 2-97 2-210 6 313 2-220 2-18 5 302 2 229 8-511 2 123 1-49 2 515 6-123 2-405 4 250 3-185 2 25 4 26 2-242 4 82 2 300 3-314 4 39 2-52 2-45 4 584 2-401 1-45 4-56 4 199 2-174 2 380 2-449 5 180 2-131 4 83 2-163 2 87 2 237 3-291 4 145 2-131 2-114 4 364 3-8 2-327 8 621 2-204 4-257 3 185 2-36 2-409 8 70 1 59 2 932 6-969 2 189 2 208 2-356 3 133 2-77 4 755 4-873 2 63 2 143 3 92 2-234 2 55 2 17 4-154 2 292 2-138 1 346 2-465 4 842 4-831 2-32 5 250 2-73 2 297 4-278 4 142 2-477 5 440 2-389 2 327 6-288 2 295 1-294 2 79 4-118 4 388 2 48 4-426 3 567 2-288 4 176 4-535 2 65 1 52 4 421 4-524 2-28 4 146 3-268 2 384 4-357 2 604 4-283 2-132 3-165 4 475 2-187 2-288 6 113 1-125 2 454 8-372 2 1 2-41 3 208 2-117 2-40 2-166 6 116 2-40 3-22 2 212 2-145 2-196 8 582 1-435 2 126 4 362 2-536 2 124 2 45 2-143 5 205 2-94 4 6 6-263 2 50 3 252 4-191 2 42 6 232 1-172 2 393 8-524 2 174 2-61 3-45 2 198 2-188 2 35 4 394 4-476 1-46 4 253 6-26 2-99 2-59 2 90 3-61 2 204 6-250 2 169 2-88 2 178 5-30 2-73 4-4 4 122 1-66 2-10 4 97 4-93 2 60 2-43 2 92 3-24 2 44 2 81 6-132 2 82 2-43 1 26 2-52 4 46 2-68 2 52 5-78 2-13 10-82 2-20 7-92 2-24 8-99 2-23 9-71 2-3 2-1 5 12 2 11 8 77 2 25 7 104 2 26 10 123 1 20 8 74 2 6 5 106 2-45 2 7 10 92 2 39 1-16 4 136 2-132 2 2 6 167 1-56 2-67 4-29 4 145 2-81 2 187 3-119 4 20 2 48 2-302 4 355 2-96 2-16 1 160 4-203 4 76 2-133 4 480 3-167 2-311 2-167 4 340 2-185 2-60 5 513 2-316 2-291 4 404 4-550 2 309 1 385 4 196 2-579 2 518 2-192 4-659 1 756 2-398 2-5 4 274 6-370 2 306 5-409 2 204 2-37 2-113 4 305 2-38 1 419 8-757 2 150 2 415 5-536 2 522 2 263 6-709 2 165 2 53 1 8 8-375 2 144 2 319 3-479 2 215 2-26 2 626 2-864 4 286 2 104 5-527 2 179 2 13 4 266 4-326 2 207 1 197 2-156 6 141 2-8 2 53 2-419 3 240 2 198 4 232 6-645 2 373 3-390 4 49 2 556 6-393 2 130 1-123 2 397 2-506 6 120 2 15 3-178 4 172 2-343 6 658 2-172 2-596 5 445 4-111 2-102 4 427 2-567 1 322 2 177 6-461 2 391 2-23 2 45 5-380 2 131 2 323 8-529 1 125 2 375 2-438 4 116 2-92 5 425 2-256 2-136 2 719 4-932 4 332 2 122 1 0 4-290 2 74 2 85 6 465 2-486 1-28 2 340 8-621 2 376 3 137 4-297 2 285 4-345 4 310 2 66 3 301 6-697 2 553 2 325 5-714 2 15 2-76 2 855 4-687 2-145 3 390 4-231 2 14 2-295 8 426 1 0 2-291 6 318 2 84 6-612 1 152 2 834 8-843 2 334 2-91 5 261 2-564 2 224 4-125 2 603 2-316 1-351 2 334 8-478 2 424 4 140 3-482 2 317 6-261 2 141 2-135 1-124 4 394 4-325 2-66 4 452 3-377 2 266 2-343 6 17 2 163 3-139 4 57 2-36 10-102 1-57 2 63 6-89 2 8 7-78 2 5 10-112 2-21 7-85 2-22 8-87 1-20 10-73 2-8 5-7 2 0 2 3 8 35 2 15 7 77 2 22 9 111 2 22 8 79 2 19 7 78 2 10 10 98 1 40 2-31 2 76 4-5 2 0 7 155 2-25 6 116 4-204 2 147 1-211 6 307 2-15 2-165 6 344 1-378 4 277 6-182 2 8 2 241 5-76 2-54 4-95 2 318 2-12 2-126 1 425 2-598 4 258 2-33 8-70 1 444 2 161 2-655 4 811 2-610 2-17 2 239 2-434 3 215 2 206 6 456 4-912 1 533 6-258 2 520 2-649 2 901 5-618 2-369 2 827 8-617 2 297 2 1 1-86 4 46 2 256 8-393 1-62 10 715 2-759 2 117 5-3 2-319 6 755 2-535 2-44 3 354 2-365 2 115 2 733 9-628 2 1001 8-899 2 44 4-87 3 258 2-48 4 101 6-349 1 262 6 9 2-181 2 29 2-100 4 501 1-387 2 324 4-358 4 840 2-615 2-86 2-292 1 755 4-531 2-296 4-18 4 656 1-191 8-484 2 511 2-338 5 148 2-231 2 107 6 134 2-228 2-44 5-20 2 246 2 13 2 480 4-731 3 264 2-59 2 236 4-438 2 336 2-45 2 269 2-579 3 175 2 244 2 40 4-578 4 552 2-305 3 446 4-664 2 577 2-410 2 505 3-401 2-230 2 264 8-433 2 50 3 449 4-501 2 305 2-336 2 420 4-107 1 61 2 80 2-591 6 279 2 213 2-285 3 688 2-513 2 221 6-344 2 40 2-116 2 195 1-215 4 130 2-75 2-208 6 529 1-475 2 633 4-582 2 784 2-577 2-258 2 418 2-497 3 337 2-441 4 454 4-520 2 274 2-323 1 916 6-952 2 464 4-519 2 654 1-343 2-70 2 184 6-314 2 201 2 357 7-414 2-140 4 503 4-599 2-61 1 364 8-251 2 182 4-260 1 402 2-305 2 179 8-311 2 114 5 59 2-102 2 94 9-274 2-47 2 137 6-141 2-43 2 46 5-73 2-29 2 6 8-72 2-22 7-75 2-20 7-75 2-18 10-71 2-9 7-18 2 0 8 11 2 7 9 63 2 17 7 74 2 19 8 77 2 21 7 72 2 25 8 58 2 0 1 27 2-30 4 117 2-33 2-46 7 185 2-102 4 203 6-140 2 20 7 232 2-53 4-132 4 229 1-128 8-61 2 323 2-396 2-27 3 299 2-76 2 194 8-323 2 160 7-129 2 410 2 8 4-270 3 56 2 17 6-313 2 393 2 40 3 334 4-578 2 963 10-1044 1 457 2 262 2-393 4 31 2 325 2-385 3 442 2-351 2 23 8 327 2-409 2 152 1 225 4-466 2 325 2-291 8 650 1-452 2-134 6 464 2-427 2 517 5-430 2 167 2-111 4 1376 4-1099 2 89 3 191 2-666 4 538 2 972 6-1382 1 26 2 172 2 529 6-676 2 419 2-220 3 607 2-71 2-412 10 340 1 98 4-804 4 378 2 451 2 11 2-705 3 139 2 54 8 143 2-264 2 453 3-666 2 893 2-391 2-462 8 653 1-531 4 709 2-792 4 642 2-677 3 497 4-64 2-480 4 780 4-60 2-469 9 567 2-693 2 501 5-326 2 115 2-400 4 919 2-474 2-97 5 272 2-499 2 164 4-210 2 535 4-448 1 78 2 236 2-366 4 343 2-163 2-179 4 496 1-460 2-57 6-249 2 694 2-67 2-236 1-235 2 288 4-171 2 1626 8-1761 1 218 2-268 4 382 4-294 2 386 2-758 3 806 2-510 2-37 2 332 4-611 2 307 2 328 1-569 8 246 2 248 2 88 5-487 2 258 4-366 4 34 2 15 2 577 3-724 2 322 2 119 2 190 4-875 4 199 1 1002 4-931 4 379 2-520 2 849 4-947 1 346 2 299 4 28 4-473 2 79 2-144 1 506 4-627 2 389 2-262 6-157 2 241 1-265 2 322 8-393 2 357 5-202 2 102 2-190 8 524 2-596 5 250 2-186 2 168 2-251 7 9 2-54 2 71 2-121 4 52 2-3 2 104 5-181 2-35 2 28 8-93 1-9 8-84 2-20 7-77 2-19 10-83 2-12 7-33 2-4 4-2 4 2 1 4 10 45 2 15 7 68 2 19 8 78 2 18 7 75 2 18 9 77 2 38 2 50 6-42 2 71 2 153 3-187 2 115 2 4 8 170 2-138 1-25 4-5 4 232 2-263 6 204 1-23 2 34 6-82 4 252 2-82 2-243 5 482 2 255 8-701 1 390 8 178 2-322 2-279 2-160 2 487 3-136 2-138 6 525 2-349 2 1002 7-1163 2 522 2-267 7 266 2-341 6 593 2-280 2-127 5 138 2-291 2 84 6-130 4 734 1-794 6 588 2-618 2 350 2-419 2 656 3-650 2 178 4-20 2 721 4-393 2-167 3 136 2-302 2 20 2 1364 8-1448 1 153 2 349 6-534 2 12 2 324 5 140 2-587 2 379 2 242 2-369 4 283 2 225 3-627 4 538 2-252 2-300 2 401 5-180 2 43 6 90 2-350 2 360 5-394 2 360 2-142 2-234 6 852 2-425 2 153 1 452 6-1104 2 397 2 550 4-792 1 720 2-616 6-118 2 433 2-152 2-190 3 74 4-347 2 149 6 620 2-393 1 222 4 31 4-353 2 245 2-557 7 936 2-575 2-203 6 587 2-396 3-90 2 217 2-25 2 913 8-1057 1 616 2-738 6 1885 2-2007 2 598 5-361 2 304 2-300 2-72 6 598 2-348 2 571 3-791 4 70 2 30 6-334 1 981 2-885 4-85 4 460 2-193 2-79 3 234 4-279 2 360 2 314 2-619 4 172 2-4 1-256 4 392 4-195 2-202 5 1066 2-980 2-147 2 755 6-570 2-63 2 437 5-128 2-31 6-441 2 710 1-61 2-275 2-246 4 257 2-193 2 175 5-329 2 83 2 286 2 154 6-496 2 353 2 549 7-677 2 732 6-913 1 236 2 271 2 135 2-580 6 200 2 132 3 27 2-349 2 81 2 389 2 1 4-701 2 663 2-184 7 88 2-569 2 275 5-85 2 222 2 436 4-697 4 224 2 253 3-493 4 101 2 320 6 38 2-602 2 592 1 38 6-588 2 459 2-63 2-398 3 675 2-395 2-190 4 607 6-495 2 105 1 515 4-697 2 679 2-888 7 649 2-90 2 47 8-512 2 838 3-798 4 538 2 102 2-782 6 470 2-334 3 445 6-346 2 261 4 169 1-293 2 35 2 136 6 366 2-887 2 180 3 368 4-558 2 607 2-520 2 1088 6-771 1 356 2-676 6 301 2-30 2-115 2 449 3-155 2-84 4-180 6 569 2-679 5 617 2-654 2 308 6 321 2-500 1 231 8-516 2 170 2-77 2 527 5-47 2 279 8-760 2 233 7 332 2-301 2-194 2 999 5-1130 2 612 2-362 2 428 4-370 2-65 2-107 1 270 4-127 2 119 2-518 8 1104 1-535 2-155 6 237 2-322 2-111 2 550 3-99 2 357 4 24 6-782 2 582 1-544 6 340 2 58 2-604 6 420 1 337 4 238 2-827 4 122 2-180 2 743 5-338 2-47 6 419 2-397 2-314 3-48 4 775 2-651 2 120 7 609 2-365 2 188 4-323 2 10 2-157 3-130 2 691 2-449 2-65 4 660 6-567 1 227 8-381 2 364 4 306 2-410 1 335 2 77 8-638 2 429 2-377 1 354 2-359 4 192 2 252 2-331 6 38 1 471 2-644 2 676 6-646 2 251 2-393 3 515 2-87 2 11 4-329 2 757 2-149 2 129 1 40 2-538 6 455 2-242 2-546 5 213 2 104 6-14 2 309 2 101 3-530 4 147 2 524 4-624 6 85 1 450 4-727 4 728 2-116 2 151 2-573 3 98 2 147 6 36 4-331 2 319 3 621 4-685 2 20 4 909 2-1045 2 336 1 22 4 187 4-786 2 421 2 39 5-55 2 202 2-26 4 27 4-459 2 401 3-484 2 567 2-107 2 188 8-463 1 139 2-93 6-138 2 769 2-581 2 192 5-26 2 381 6-693 4 299 1 642 2-991 6 228 2 366 4-485 3 84 2 52 6 814 4-906 2-44 1 863 6-782 2-155 2 759 6-505 1 172 4-165 2 407 4-355 2-405 7 671 2-333 4-3 4 367 2 501 3-1217 4 135 2 123 8 321 1-213 2 109 2-240 6 219 2-82 2-224 3 519 2-489 2-182 8 668 2-167 1-142 4 41 4-351 2 663 6-355 1 774 2-402 4 79 6-720 2-5 5 462 2-492 2 332 6 112 2-563 1 614 4-342 6 30 2 133 2-282 5 789 2-758 2 510 2-562 4 500 2 4 1 344 6-725 2 487 8-841 1 365 2-255 4 1201 4-1309 2 532 4-531 3 80 2 504 2 316 4-720 4 186 1 242 4 159 4-434 2 92 4-292 3 618 2-461 2-81 6 311 2-288 2 37 3 189 4-163 2-273 4 277 4-11 1 61 2 313 6-602 2 593 2-115 4-401 3 782 2-483 2-101 2 324 4-129 2-239 2 103 5-331 2 187 2-258 2 563 5-10 2-426 4 589 4-479 2 83 2-237 2 462 3-353 2 41 8-327 2 998 1-636 2 224 6-344 2 501 7-509 2-262 2 897 8-360 2-128 5 397 2-726 2 467 4-426 4 577 1-177 2 445 4-727 4 283 2-19 2-119 5 434 2-403 2-164 2 174 4-58 2-114 5 877 2-650 2-9 6-405 2 725 1-199 2-105 2-174 4 796 2-313 2-329 2 29 5-339 2 201 4 991 6-656 2-329 1-242 4 865 2-487 2 257 6-485 1 105 2-86 2-82 8 358 2-34 5-271 2 363 2-119 4 472 2-588 2 121 2-32 3-303 6 792 2-446 2 342 3-374 2 308 2-322 4 485 4-272 2-384 5 404 2-388 2 382 4 53 4-535 1 223 2 44 4 416 2-631 2 179 2 508 2 220 5-457 2-492 6 772 4-694 2 291 1 422 6-593 2 221 4 84 3-404 2 71 2-70 8 632 2-416 2-155 1 869 4-763 2 1 2 167 2-295 4 150 2 634 5-831 4 204 2 38 7 346 2 61 8-533 2 384 2 24 3-194 2 76 2-98 2 1049 2-1272 6 98 1-54 6 453 2-104 2-99 2 115 3-396 2 75 2 346 2-180 8 60 2-150 5 595 2-8 2-352 4-121 3 358 2-446 2 222 2-375 6 345 2 190 2 16 1-532 4 159 2 101 8 760 2-556 1 48 2-469 6 193 2 464 5-447 2 122 2-136 2-267 4 991 2-656 2 115 3-290 2 698 2-291 2-172 2 330 2-731 6 234 1 510 4-492 4 392 2-439 5 459 2-349 2-46 4 809 4-1045 2 350 2-91 5-59 2 181 2 254 4 63 2-647 2 336 1 78 2-339 8 386 2 107 2-716 1 935 4-597 2 272 2-467 4 662 2-504 2 299 7 322 2-633 2 323 2-396 5 248 2-235 4-142 2 632 2-175 2 592 2-680 5 132 2-276 2 555 4-785 4 373 1 387 4 2 4-226 2-152 2-210 5 132 2 104 2 85 6-318 2 201 2-155 3 340 4-46 2-6 6-167 2 332 1-354 4 834 6-1105 2 262 5 50 2-256 2 172 2 288 6-509 2 307 1-40 2 377 6-142 2-468 4 775 3-167 2-177 2-223 4 346 2-156 2 76 2-283 3 1442 2-1393 2 44 2 537 6-855 2 337 1-13 2 159 2-406 4 16 2-55 4 630 3-252 2-217 4 429 6-333 2-187 1-67 2 553 4-269 2-223 2 754 6-508 1-78 4-83 6 665 2-683 3 526 4-454 2 411 6-836 2 384 2 6 7-98 2 323 2-276 2 275 2-580 3 429 2 90 4-240 2 661 2-272 2-354 2 522 5-644 2 496 6 199 4-509 1 551 4-593 4 264 2-263 2 199 5-258 2 256 2 169 6-438 2 321 2 290 3-721 4 426 2-299 2-105 4 552 2-511 1 164 8 491 2-698 2 148 4 149 1-520 2 140 2 200 2-49 4 664 2-390 2-310 1 458 2-531 4 210 2-508 6 820 3-156 2-215 4-265 2 423 2-61 2-77 2-210 1 560 4-451 2-267 6 605 4-39 1-308 4 381 2-527 2 235 2 156 2-429 5 790 2-768 6 732 4-455 2 24 5 266 2-126 2-183 4 616 4-761 1 111 8-137 2 628 2-199 2-248 3 653 2-167 2-652 4-37 2 442 2-113 2-145 5-234 2 692 2-136 2 17 4-389 3 15 2 226 2 110 2-379 4 299 2-131 4-314 3 549 2-54 2-396 8 92 1 6 8 374 2-266 6-97 1 290 2 595 8-841 2 89 2-483 2 719 5-318 2 121 4-366 2 575 2-489 1 42 2 883 4-1053 4 396 2-452 2 1483 5-988 2 282 6-712 2 157 2-228 7 744 2-29 6-518 3 400 2-8 4-453 4 25 2 182 5 865 2-433 2-466 6 251 4-458 1 481 4 403 4-836 2 128 2-266 2 630 3-359 2-66 8 366 2-100 2-446 2 566 5-346 2 61 2 290 6-358 1 32 2 283 8-596 2 421 4 157 3-548 2 785 6-484 2 430 2-440 3-168 2 625 2-466 2 189 2-277 4 418 3-271 2-18 4-173 2 561 2-312 2-195 4 477 1-593 2 118 2 309 8 219 2-229 1-213 2 615 6-787 2 177 2-201 4 317 1-7 2 2813 4-3040 6 349 2-194 2 659 5-916 2 409 4 24 4-368 1-56 4 681 6-280 2 71 2-461 5 673 2-687 2-443 2 642 4-130 2 151 5 495 2-479 2-58 6-74 2 570 1-516 2-23 4 312 4-79 2 44 4-248 1 1023 2-680 2 1076 4-1514 6 629 2-267 1-369 6 60 2 404 6 178 1-504 2-55 4 422 2-564 4 211 2 6 5 402 2-576 2 277 4 163 2-345 2 257 2-458 1 795 8-599 2 88 2-195 5 663 2-410 6-65 2 343 2-202 5-525 2 168 2 460 2-335 2 780 5-755 2 482 4-638 4 486 2-150 5 2061 2-1989 2 152 6-449 4 164 2 424 5 250 2-808 2 351 2-205 5 1050 2-916 2 161 6-500 2 286 2-161 5-243 2 238 2 308 6 83 2-477 2 120 3 587 6-769 2-9 4 442 3-43 2 431 2-681 6 648 2-356 3-479 4 265 2-96 4 47 4-424 2 142 1 34 4 599 4-569 2 201 4-166 3 493 2-271 6 176 2-534 2 207 2-57 1 264 2-546 4 297 2 267 4 395 3-717 2 700 10-981 2 149 5 558 2-275 2 204 4-445 4 354 2 29 9-408 2 138 4 405 1-650 2 558 2-329 4 550 4-706 2 468 2 141 3-628 2 109 2 242 4 385 2-598 4 283 1-256 4 353 2-520 2 223 2 405 7-660 2 590 6 109 4-479 2-18 3 587 2-801 2 526 2-318 2-158 2 734 4-171 1-532 2-137 8 683 2-322 2-165 1 719 4-398 2-197 2 287 6-316 2 283 1 497 4-828 4 216 2 46 2 282 5-583 2 392 4-326 4 464 2-337 2 90 5-438 2 503 2-170 2 828 6-323 1-345 4 42 4-184 2 30 2 353 2-475 3 33 2 56 4-182 6 359 2 82 3 37 2-522 2 189 2-108 8 278 1-267 10 965 2-923 2-229 5 486 2 32 4-560 4 225 2 347 1 879 4-1203 4 159 2-22 2-273 2 571 3-288 2-385 6 558 2-289 2-130 7 877 2-186 6 177 2-786 2 248 1-84 2 598 4-761 2 174 2-234 4 503 3-24 2-45 4 111 4-670 2 95 2-37 1 354 6-232 2 309 2-331 4 714 2-573 1 51 2 421 6-686 2 466 2-107 3 238 4-560 2 484 8-529 2 316 1-414 4 998 4-691 2-251 4 703 3-378 2-51 2 213 2-444 4 161 2 162 5-192 2 575 2-369 8-95 2 331 1-358 8 453 2-611 2 665 5-391 2 124 4-304 2 482 4-245 2-293 1 723 4-870 2 413 2 337 4 427 2-862 2 94 1-362 10 733 2-480 5 383 2-444 2 227 4 119 4-399 2 165 5-176 2 422 2 166 9-491 2 212 6 323 2-105 2 320 5-840 2 697 2-737 2 1056 8-834 1 140 6-421 2 420 2-467 4 1156 3-859 2-146 2 420 6-695 2 243 2 125 1 345 4-589 2 408 2 106 2-482 6 648 1-297 10 191 2-97 2-258 3 368 2-360 2 77 2-204 2 606 4-210 2-86 3-201 2 431 2-343 2 378 2 261 2-1022 5 584 2-91 2 100 4-557 2 380 2 401 5-767 2 690 2-13 2 150 8-492 1-121 6 144 2-151 2-40 2 782 5-574 2 596 8-375 2 519 2-886 2 252 5-363 2 216 4 145 2-238 2 42 1 384 2 36 6-445 2 223 2-194 2 561 5-523 2-11 2-33 6 501 2-16 5-194 2 300 2-598 6 256 3-173 2 498 4 18 4-652 2 238 4 96 1-426 2 86 2 500 2 72 4-648 4 426 1 316 8-759 2 437 7-380 2 683 8-601 2 577 2-178 2-446 5 49 2 233 2 264 4-522 2 421 1-559 8 761 2-260 2-148 2-308 2 362 3-361 2 360 2 323 2-354 4 133 2-414 2-69 5 854 2-634 4-178 4 209 1-44 2 450 2-532 4 176" fill="none" stroke="#ff0000" stroke-width="15" stroke-linejoin="round" />
</g>
<text x="1078.00" y="689.60" font-family="'Liberation Sans', Arial, Helvetica, sans-serif" font-size="22.3" fill="#262626" text-anchor="middle" font-weight="normal" >0</text>
<text x="1266.42" y="689.60" font-family="'Liberation Sans', Arial, Helvetica, sans-serif" font-size="22.3" fill="#262626" text-anchor="middle" font-weight="normal" >500</text>
<text x="1454.85" y="689.60" font-family="'Liberation Sans', Arial, Helvetica, sans-serif" font-size="22.3" fill="#262626" text-anchor="middle" font-weight="normal" >1000</text>
<text x="1643.28" y="689.60" font-family="'Liberation Sans', Arial, Helvetica, sans-serif" font-size="22.3" fill="#262626" text-anchor="middle" font-weight="normal" >1500</text>
<text x="1831.70" y="689.60" font-family="'Liberation Sans', Arial, Helvetica, sans-serif" font-size="22.3" fill="#262626" text-anchor="middle" font-weight="normal" >2000</text>
<text x="1066.50" y="665.10" font-family="'Liberation Sans', Arial, Helvetica, sans-serif" font-size="22.3" fill="#262626" text-anchor="end" font-weight="normal" >−<tspan dx="3">100</tspan></text>
<text x="1066.50" y="565.97" font-family="'Liberation Sans', Arial, Helvetica, sans-serif" font-size="22.3" fill="#262626" text-anchor="end" font-weight="normal" >−<tspan dx="3">80</tspan></text>
<text x="1066.50" y="466.83" font-family="'Liberation Sans', Arial, Helvetica, sans-serif" font-size="22.3" fill="#262626" text-anchor="end" font-weight="normal" >−<tspan dx="3">60</tspan></text>
<text x="1066.50" y="367.70" font-family="'Liberation Sans', Arial, Helvetica, sans-serif" font-size="22.3" fill="#262626" text-anchor="end" font-weight="normal" >−<tspan dx="3">40</tspan></text>
<text x="1066.50" y="268.57" font-family="'Liberation Sans', Arial, Helvetica, sans-serif" font-size="22.3" fill="#262626" text-anchor="end" font-weight="normal" >−<tspan dx="3">20</tspan></text>
<text x="1066.50" y="169.43" font-family="'Liberation Sans', Arial, Helvetica, sans-serif" font-size="22.3" fill="#262626" text-anchor="end" font-weight="normal" >0</text>
<text x="1066.50" y="70.30" font-family="'Liberation Sans', Arial, Helvetica, sans-serif" font-size="22.3" fill="#262626" text-anchor="end" font-weight="normal" >20</text>
<rect x="1426.40" y="112.80" width="192.90" height="145.40" fill="#ffffff"/>
<path d="M1522.85 112.80V258.20M1426.40 247.02H1619.30M1426.40 202.28H1619.30M1426.40 157.54H1619.30" stroke="#dcdcdc" stroke-width="1.3" fill="none"/>
<path d="M1426.40 112.80H1619.30V258.20H1426.40ZM1426.40 258.20v-4.00M1426.40 112.80v4.00M1522.85 258.20v-4.00M1522.85 112.80v4.00M1619.30 258.20v-4.00M1619.30 112.80v4.00M1426.40 247.02h4.00M1619.30 247.02h-4.00M1426.40 202.28h4.00M1619.30 202.28h-4.00M1426.40 157.54h4.00M1619.30 157.54h-4.00M1426.40 112.80h4.00M1619.30 112.80h-4.00" stroke="#333333" stroke-width="1.5" fill="none" stroke-linecap="square"/>
<clipPath id="c4"><rect x="1425.90" y="112.30" width="194.90" height="146.90"/></clipPath>
<g clip-path="url(#c4)">
<path transform="scale(0.1)" d="M14264 2649l3-71 3 71 0 0 8-34 1 34 1-57 1 57 9 0 0 0 3-103 6 50 1-56 1 109 9 0 0 0 5-110 5 110 1 0 7-87 2 59 0 28 4-80 6 80 1 0 9-70 0 70 7-69 3 69 0 0 6-76 3 76 1 0 8-75 2 75 0 0 5-87 4 87 1 0 5-74 5 74 0 0 9-99 1 99 1 0 9-60 0 55 1 5 6-64 3 64 1-33 1 33 7-75 1 75 0 0 7-123 3 79 0-17 1 61 7-125 1 7 1 89 3 29 6-170 1 138 0 32 2-181 7 150 1 31 8-164 2 164 0-43 1 43 2-165 7 162 1 3 5-144 4 144 0 0 5-199 5 16 1 79 1 104 5-185 3 135 0 50 2-211 8 153 0 24 3-156 3 190 3 0 1-19 1-194 3 213 6 0 0 0 5-151 4 116 1-57 1-56 0 148 9-1 0-2 2 3 5-202 2 91 1-95 1 206 9 0 0-40 6 40 3-185 1 101 1 1 0 83 5-133 4 46 0-43 1 130 4-166 5 35 1 38 3 21 5-143 1 59 0-34 10-1025 0 547 9 489 0-14 1 20 5-14 4 160 1-102 0 36 8-85 1 178 1-157 1 157 9-78 0 15 7 63 2-202 1 73 1 66 3-116 2 179 4-82 0-83 7 165 3-160 1 160 8-193 1 68 0 71 2 10 8-142 0 65 1 88 5-157 3 22 1 3 6 120 4-94 0 50 2-97 7 3 1 45 2-63 1 195 7-187 0 62 4 131 0-183 6 72 1 47 3-136 3 169 3-46 0 43 5 10 3-178 2 97 1-34 0-78 9 146 0-72 5 125 5-164 0 110 2 72 6-204 1 68 1 61 4 75 3-232 3 42 0 190 4-198 5 43 1-6 8-88 2 215 0-108 7-75 2 217 1-15 1-140 0-97 2 203 7-119 0-43 2-52 7 263 1-113 1-60 7-55 0 169 2-96 0-11 5-61 4 136 1-37 1-36 3 108 2-212 4 72 0 65 3-102 7 200 0-119 4-68 1 90 4-1 1 111 7-242 3 78 0-18 2 156 1-245 6 161 1-5 5-92 1 164 4-81 0-37 7-66 1 161 2-45 1-159 7 198 2-18 0-53 2-103 7 182 1-82 1 55 3 1 4-132 2 13 0 110 10-183 0-40 1 1 5-914 3 889 1 4 10 214 0-40 1 40 6-94 2 24 1-67 2 211 8-133 0-4 2 121 6-181 2 124 1-55 3 81 3-95 3 66 0-87 5 179 5-115 1-45 7 95 2-117 0 70 2-85 3 255 5-192 0 7 2 88 5-198 2 126 1 2 5-152 2 203 3-46 0 52 1 51 7-190 1 137 1-47 1-100 4 174 5-52 0 47 5 72 1-215 4 65 1-26 3-103 6 223 0-163 3 237 1-251 6 88 1-19 2 13 5-89 2 74 0 33 1-122 6 184 3-31 0-23 6-107 1 155 2-70 1 76 10-145 0 41 2-91 6 213 1-87 1 77 3 0 2-132 5 34 0 31 3 45 3-157 3 41 1 52 4 100 4-201 2 2 0 28 3-31 6 135 1-51 1-102 5 178 4-79 0 81 1 67 8-228 1 153 1 32 7-198 2 84 0 23 3-102 5 204 2-137 0 131 2 33 1-211 6 98 1 74 3 84 1-274 6 71 0 28 4 175 1-251 4 80 1-11 3 107 7-175 0 23 5 133 4-188 1 15 1 78 0-24 3 114 6-24 0-49 3 63 6-125 1 6 1 7 0 90 7-138 2 60 0-16 3 80 5-117 2 48 0 1 9-315 1-78 1-680 9 1010 0-14 9 158 1-113 6 87 2-108 2 82 0-71 5 171 5-93 1-61 3 222 6-280 0 84 5 83 2-106 3 43 1 51 1-164 8 250 0-123 6 102 4-176 0-3 2 136 7-34 1-12 5 55 3-149 2 11 0 69 2 46 1-129 6 58 1 52 3-103 2 161 5-75 0-16 2-79 4 169 3-124 1-29 2 130 8-79 0-15 5-30 4 242 1-145 1-11 3 62 6-149 0 122 8-138 1 185 1-127 1 11 7-102 1 187 1-114 0 49 1 26 2-121 7 63 0 31 2-114 6 285 1-278 1 117 1 68 1-173 8 74 0 30 3-92 5 170 1-138 1 24 4-76 2 157 4-75 0 84 2-121 2 140 6-63 1-50 3 200 6-277 0 148 2 47 1-187 7 166 1-72 4-68 3 207 2-98 0 46 2 1 3-163 5 26 0 48 4-40 3 150 2-68 1 36 5-137 5 111 0-85 6-14 3 88 1-19 5 42 0-127 5 61 0 33 4 90 4-199 2 115 1-22 7-25 1 128 1-105 0-16 5-31 3 84 2-55 1-50 2 140 7-73 0 11 4 66 6-201 0 108 1 19 8-139 1 16 7-1007 3 814 0 33 9 235 0-72 1 44 4-31 4 137 2-72 0-69 8 213 2-43 1-10 2-150 1 163 6-100 0 70 2-118 3 249 5-159 1-55 3 214 1-224 5 128 0 53 2-193 8 59 1 1 4-24 3 134 2-80 0-55 4 146 1-188 5 82 0 9 2 12 7-150 0 65 1 104 6-111 1 133 3-31 0-127 9 212 1-169 3-5 2 151 5-111 0 116 1 14 3-221 6 151 1-24 0 62 6-139 3 83 0 1 7 79 2-175 1 118 1-66 7-22 2 202 0-123 4 123 5-243 1 90 0-15 2 160 3-208 4 109 1-37 3 144 4-250 3 250 0-158 4 133 3-164 2 31 1 158 4-272 6 75 0 46 2 151 2-228 6 88 1-36 3-68 2 244 4 0 0-25 2 25 7-231 1 148 1 83 3-188 6 188 0-11 1 11 6-264 3 179 0 27 4 58 4-199 1 192 1-135 3-105 5 247 2-22 0-22 2 44 7-241 0 200 1-42 1 83 3-231 6 199 0 4 5 28 2-155 3 155 1-68 0 68 3-161 6 15 0 20 2-48 0 174 8 0 1 0 4-195 5 59 0 136 6-161 4 161 0-117 4 117 5-156 0 156 1-5 1 5 5-189 4 189 0 0 3-177" fill="none" stroke="#0000ff" stroke-width="12" stroke-linejoin="round" />
<path transform="scale(0.1)" d="M14264 2580l4-108 1 125 1-80 1-10 5 142 3-164 1 15 1-48 1 197 7-5 1-37 7-184 1 226 2-143 1 59 5 70 1-135 2 1 1 89 3 52 6-204 1 64 1 147 3-212 6 88 1 42 2 75 4-212 2 136 1 6 2-108 4 185 4-176 1 56 2 120 4-148 2 51 1-22 4-86 3 172 2-141 1 21 3-47 2 200 5-117 1 43 2 74 1-183 5 59 1-73 2 146 6-177 2 165 1-82 2-70 4 215 3-142 1 61 2-178 6 259 1-91 2-127 7 218 1 0 1-92 1-136 8 40 1-48 5 236 3-229 1 50 4 164 5-277 1 148 1-104 1 155 1-176 6 54 1-40 1-14 7 261 1-130 1-162 7 243 3-249 1 26 3-82 3 285 2-127 1-60 4 140 6-220 1 205 6-186 3 41 1-18 1-75 6 120 1-65 1-89 8 287 2-186 1 20 4 28 4-137 1-21 9 173 1-77 1 177 4-236 5 120 1-85 3 193 2-235 3 84 1-9 3-44 4 105 2-49 1-64 3 117 7-28 1 35 2-34 6 51 1-21 3 67 7-54 1 13 1 7 8-58 1-10 8-90 1-11 10-66 1 0 8 68 1 12 9 99 1 10 10 82 1 7 2-17 4 99 2-59 1 16 6-10 4 114 1-1 5-159 2 161 2-51 1 73 4-118 1 123 3 0 1-122 1-75 7 197 2-197 1 44 3-110 2 263 3 0 1 0 2-273 7 133 1-17 1 138 3-184 6 145 1 58 4-211 4 13 1 198 8-186 1 103 1-59 8 142 1-260 1 154 1-25 1 47 2-238 5 107 1-47 8 196 2-173 1 92 3 147 6-252 1 167 0-145 1 230 7-202 1 95 1 4 7-196 2 87 1 210 2-347 6 277 1 21 1-256 8 203 1-147 4 181 4-239 2 226 1-198 8 281 1-153 1-198 4 205 5-52 1 16 1 182 7-354 1 169 1 17 5-116 3 170 1-25 1 139 3-293 6 81 1-34 1 246 8-158 0-133 9 204 1 38 3-276 2 325 5-110 1-41 4-137 3 288 1-113 1-159 5-65 3 255 1-152 1-66 7-28 2 178 1-124 1-23 3 174 3-204 2 116 1-109 1 74 9-80 1-19 2 2 7-62 1-9 0 2 8-79 1-9 10-92 1-5 5-12 3 7 1 5 9 77 1 10 10 94 1 7 7 75 1-13 1 33 1-29 6 97 3-43 1 84 4-120 3 138 2-81 1 132 2 23 0-171 6 47 1 109 6-102 4 230 1-227 8 227 1 0 0-179 2 179 4-184 3 184 1-140 2 140 2-200 6 66 1 134 4-173 4 95 1 78 9-23 1-29 1 52 5-71 4 51 1-144 1 164 7-37 1 37 10 0 1 0 9 0 1 0 8 0 1 0 8-5 2 5 1 0 3-46 5 46 1-54 1 54 8 0 1 0 5-37 5 4 1 33 8-40 1 6 1 34 4-94 5 94 1-3 1-78 1 81 7-13 1-32 4 45 4-154 1 154 5-216 5 94 1 42 1 80 7-133 1 88 0-97 4-69 3 211 2 0 1-96 2 96 7-269 1 149 1 56 5 64 2-337 1 209 1-40 1-194 1 295 7-154 1 161 10-321 1 164 6-148 1 181 1-138 1 81 4-140 6 74 1-71 2 10 7-85 1-19 1 20 7-69 1-7 10-86 1-8 8-44 1 0 1-1 8 23 1 7 10 83 1 8 8 73 1 7 3-2 7 86 1 15 1-46 2 92 6-22 1 66 3-77 2 103 3-8 1-65 2 133 2-191 6 143 1 30 1-130 7 203 1-21 0-101 6-109 3 261 1 86 3 20 5-318 2 318 1-171 4-13 2 184 2-153 1 61 2 92 5-210 2 16 1 96 3 98 2-165 5 165 1 0 2-109 6 109 1 0 2-133 8 133 1 0 3-52 6 52 1 0 6-72 2 72 1 0 2-11 8 11 1 0 2-75 6 75 1-2 1 2 5-55 3 53 1 2 1-76 9 76 1 0 6-69 2 69 1 0 8-35 2 35 1 0 3-20 6 20 1-3 2 3 1-141 5 141 1 0 8-101 2 101 1-31 2 31 1-229 6 229 0-238 2 238 7 0 1-106 5-109 4 215 1 0 1-259 3 259 2-369 3 369 1-247 4 247 2-355 3 211 1 93 7-298 3 43 1 6 4 72 3-177 1 161 1-32 8 138 1-269 1 20 1 23 1 70 8-142 1 32 4 15 4-98 1 12 10-92 1-9 8-72 1-6 7-17 2 1 1 1 10 58 1 9 8 77 1 8 7 75 3-19 1 32 3-16 6 131 1-62 4 91 1-119 3 92 1-10 6 92 2-147 2 54 1 163 1 116 4-317 4 143 1 114 2-344 6 253 1 80 2 115 4-345 4 156 1-15 2-60 3 264 3-218 1 101 7 117 1-297 1 91 1 45 1 130 3-310 6 74 1 267 5-269 3 88 1 64 4 45 3-241 3 41 1 32 2-123 6 343 1-257 1-26 1 243 2-249 5 119 1-4 4 49 6-185 1 280 2 50 6-363 0 180 1 183 7-299 2 127 1-86 4-123 4 347 2-77 1-69 5-217 3 397 1-234 1-92 9 326 1 0 9-369 1 270 5-194 3 270 1-157 1 180 8-385 1 385 1-341 2-39 2 208 5-142 1-1 1 304 5-319 2 177 1-91 5 244 2-360 3 75 1 8 2 169 6-270 1 320 8-299 1 68 1-72 8 361 2-117 1-62 2 179 2-329 4 28 1 106 6-102 3 213 1-59 1-258 1 300 6-300 2 110 1-19 2 291 2-314 4 72 1-79 7-65 2 284 1-144 1-18 4-104 2 305 2-200 1 210 5 56 4-409 1 97 3 196" fill="none" stroke="#ff0000" stroke-width="12" stroke-linejoin="round" />
</g>
<text x="1426.40" y="278.50" font-family="'Liberation Sans', Arial, Helvetica, sans-serif" font-size="18.2" fill="#262626" text-anchor="middle" font-weight="normal" >0</text>
<text x="1522.85" y="278.50" font-family="'Liberation Sans', Arial, Helvetica, sans-serif" font-size="18.2" fill="#262626" text-anchor="middle" font-weight="normal" >500</text>
<text x="1619.30" y="278.50" font-family="'Liberation Sans', Arial, Helvetica, sans-serif" font-size="18.2" fill="#262626" text-anchor="middle" font-weight="normal" >1000</text>
<text x="1422.40" y="253.32" font-family="'Liberation Sans', Arial, Helvetica, sans-serif" font-size="18.2" fill="#262626" text-anchor="end" font-weight="normal" >−<tspan dx="2">40</tspan></text>
<text x="1422.40" y="208.58" font-family="'Liberation Sans', Arial, Helvetica, sans-serif" font-size="18.2" fill="#262626" text-anchor="end" font-weight="normal" >−<tspan dx="2">20</tspan></text>
<text x="1422.40" y="163.84" font-family="'Liberation Sans', Arial, Helvetica, sans-serif" font-size="18.2" fill="#262626" text-anchor="end" font-weight="normal" >0</text>
<text x="1422.40" y="119.10" font-family="'Liberation Sans', Arial, Helvetica, sans-serif" font-size="18.2" fill="#262626" text-anchor="end" font-weight="normal" >20</text>
<rect x="1643.20" y="80.30" width="169.40" height="61.00" fill="#fff" stroke="#262626" stroke-width="1.6"/>
<path d="M1650.50 95.10H1719.80" stroke="#0000ff" stroke-width="1.3"/>
<path d="M1650.50 125.70H1719.80" stroke="#ff0000" stroke-width="1.3"/>
<text x="1725.50" y="103.40" font-family="'Liberation Sans', Arial, Helvetica, sans-serif" font-size="22.3" fill="#000" text-anchor="start" font-weight="normal" >ANC off</text>
<text x="1725.50" y="134.00" font-family="'Liberation Sans', Arial, Helvetica, sans-serif" font-size="22.3" fill="#000" text-anchor="start" font-weight="normal" >ANC on</text>
<text x="1454.80" y="47.80" font-family="'Liberation Sans', Arial, Helvetica, sans-serif" font-size="27.5" fill="#000" text-anchor="middle" font-weight="normal" >N=30</text>
<text x="1454.85" y="724.60" font-family="'Liberation Sans', Arial, Helvetica, sans-serif" font-size="27.8" fill="#262626" text-anchor="middle" font-weight="normal" >Frequency(Hz)</text>
<text transform="translate(996.70 359.50) rotate(-90)" x="0" y="0" font-family="'Liberation Sans', Arial, Helvetica, sans-serif" font-size="27.8" fill="#262626" text-anchor="middle">Power/Frequency (dB/Hz)</text>
<path d="M310.45 861.30V1456.80M498.90 861.30V1456.80M687.35 861.30V1456.80M122.00 1357.55H875.80M122.00 1258.30H875.80M122.00 1159.05H875.80M122.00 1059.80H875.80M122.00 960.55H875.80" stroke="#dcdcdc" stroke-width="1.3" fill="none"/>
<path d="M122.00 861.30H875.80V1456.80H122.00ZM122.00 1456.80v-7.00M122.00 861.30v7.00M310.45 1456.80v-7.00M310.45 861.30v7.00M498.90 1456.80v-7.00M498.90 861.30v7.00M687.35 1456.80v-7.00M687.35 861.30v7.00M875.80 1456.80v-7.00M875.80 861.30v7.00M122.00 1456.80h7.00M875.80 1456.80h-7.00M122.00 1357.55h7.00M875.80 1357.55h-7.00M122.00 1258.30h7.00M875.80 1258.30h-7.00M122.00 1159.05h7.00M875.80 1159.05h-7.00M122.00 1059.80h7.00M875.80 1059.80h-7.00M122.00 960.55h7.00M875.80 960.55h-7.00M122.00 861.30h7.00M875.80 861.30h-7.00" stroke="#333333" stroke-width="1.7" fill="none" stroke-linecap="square"/>
<clipPath id="c5"><rect x="121.00" y="860.30" width="755.80" height="597.50"/></clipPath>
<g clip-path="url(#c5)">
<path transform="scale(0.1)" d="M1220 12130l6-299 3 399 1-267 5 789 4-803 1 378 6-416 3 754 1-645 1-159 5 815 3-435 1-183 6-176 2 712 1-562 1 367 2 82 5-722 2 69 1 492 9-451 1-123 4 593 5-215 1 106 2 596 3-955 4 375 1 15 3 460 6-977 2 300 3 506 2-648 3 157 2 46 5-159 1 360 2-43 2 74 3-542 3 730 2-457 2 38 5 299 1-595 2 419 2-126 3 440 2-587 4 133 1 132 2 306 7-611 1 55 2 785 4-923 3 596 1-383 2 635 5-788 2 163 1 329 1-550 5 717 3-385 1-83 5 552 3-818 1 261 1 220 5 29 3-394 1 141 1-31 3-169 2 370 4-208 1 128 1-343 3 967 5-578 1-195 5-222 3 438 1-156 1-98 1 258 2-426 5 212 1-5 3 266 3-459 3 286 1 36 5 254 3-467 1 304 1-122 1-278 3 635 5-301 1-192 3-211 2 825 4-490 1-181 4-42 5 481 1-217 4-291 5 501 1-451 3 380 5-438 1 215 1-18 4 441 3-650 2 296 1-307 9 533 1-523 5-54 2 371 2-169 2 443 6-710 2 556 2-38 3-379 3 622 2-6 2-551 5 370 2-577 1 496 2-231 7 46 1-318 2 303 1-240 4 312 4-96 1-372 5-25 4 1056 1-707 2-166 2 370 5-80 1-139 4-243 1 551 4-116 1-416 7-72 2 584 1-52 6-534 3 360 1-117 3-126 1 449 5-258 1 51 1 314 4-487 4 108 1 91 3-338 6 464 1 57 6 80 3-724 1 673 3 60 4-560 1 285 1-422 5 647 4-102 1-184 1 175 3-539 5 298 1 287 4-644 5 331 1 41 4 437 4-667 1 197 1 54 5-347 4 253 1 428 7-587 1 771 1-485 1-387 2-43 5 681 2-376 1-152 5 774 4-381 1-54 5 187 3-543 1 83 1 21 3 274 6-370 2 363 5 291 2-619 1 89 2 52 1-50 1 375 6-263 2 140 2-494 6 737 2-741 6-9 1 605 1-488 2 51 2-69 5 515 2-291 1 6 1-98 4 558 4-502 1 111 1-335 6 432 2-122 1-106 4-220 3 493 2-211 1 39 6-207 1 283 2-56 1 78 5-297 4 62 1 80 5-222 4 219 1-115 4-25 4 113 1-80 1-11 3 107 6-158 1-122 3 95 3-183 3 44 1-57 8-346 1-124 4-1683 5 1801 1 90 9 388 1-134 6 270 3-87 1 8 3-57 6 228 1-61 1 188 4-255 4 249 1-66 8 90 1-352 1 197 2 329 1-480 6 9 1 3 5 276 4-241 1 107 3 54 5-207 1 47 1 202 3-245 3 414 3-283 2-236 5 411 3-140 2-219 2 418 6-159 2-44 1-185 5 285 2-244 2 29 5 352 2-353 1 115 2-172 7-57 2 706 1-409 4 4 3-317 2 149 1 158 2-259 2 281 5-206 1-20 4 200 5-289 1 146 1 193 3-280 5 69 1 34 1-169 4 271 4-217 1 26 5 236 4-105 1 109 8-208 1 111 1-76 1-138 3 185 5-59 1 35 5 45 1-201 3 85 1 15 2-139 2 432 4-93 1-72 8-249 1 138 1-36 5 344 1-425 3 33 1 30 3-34 2 271 4-36 1 2 1 63 4-367 4 163 1 0 2 213 7-156 1-36 4-182 4 389 1-284 1-66 2 333 7-410 1 74 4 243 5-146 1 147 3-242 2 247 4-190 1 202 7 105 1-224 1 69 2 121 5-329 3 478 2-426 7 255 1-303 2 196 1-248 6 376 1-211 2 43 2 395 5-667 1 255 2 145 4-307 1 508 4-453 1 336 1-409 8 29 1 64 1 74 8-163 1 61 6 147 3-324 1 253 1-146 4 384 4-368 1 7 5 327 1-387 3 253 1 312 5-642 4 449 1-160 3-163 2 232 4-92 1 38 5 146 1-473 3 161 1 15 4-128 1 416 3-295 1 523 4-493 5 78 1-94 8-106 1 375 1-215 4-99 4 199 1-4 1-33 3-222 1 299 5-170 1 173 6-173 3 29 1 222 4-470 5 364 1-205 5 227 2-308 2 175 1 180 3 14 4-324 2 264 1 133 9-414 1 201 3-179 6 175 2 247 3-535 5 88 2 235 2-324 6 172 2-40 3 347 2-544 3 135 2 311 1-238 7 139 2-59 1 134 6-280 2 246 1 49 1 68 4-292 4 31 1-107 7 221 2-85 1-54 4 235 5-452 1 169 9 227 1-259 4 302 5-380 1 247 1-253 7 363 1-224 1 215 1-313 4 363 4-158 1-174 5 274 4-38 1-32 6 51 3-338 1 117 1 84 7-221 1 56 8-193 1 1 1-77 8-1949 1 1212 1 295 9 597 1 90 3-44 5 198 1-109 1-65 8 282 1-177 1 113 5 45 4-190 1 61 5-157 4 468 1-6 7-347 2 73 1 24 2-99 7 319 1-61 2-154 7 31 2-216 2 330 6-129 2 82 2 49 5-210 1 69 2 78 3-195 3 218 2-5 2 9 3 175 3-362 2 28 2 88 1 2 2-110 6 81 1 122 6-185 1 192 2-125 1 72 6-240 3 85 1 126 7-98 2 520 1-440 1-53 4 212 4-111 1-50 2 28 3-306 4 206 1 72 8-99 1 213 1-447 5 451 4-187 1 84 3 229 5-377 1 132 1-136 6-39 3 303 1-103 3-222 5 171 1 110 1 103 7-303 1 23 1 166 3 133 3-196 3 70 1 257 3-479 6 184 1-38 4 143 5-430 1 363 1-323 8 454 1-361 7 627 1-659 1 214 1-65 5-71 3 207 1-89 1-42 5 29 2-179 2 61 1 42 4-121 5 236 1 63 2-332 6 403 1-151 2-79 1-25 1 259 6-119 2 76 5-261 3 20 2-72 7 357 1-274 2 57 6 114 2-213 2 22 2 280 4-309 3 291 1-152 1-248 3 381 5-117 1-64 1 271 6-277 2 215 1-173 1 214 5-293 3 35 1 103 2 57 5-226 2 71 1 72 1 131 7-347 1 205 1-195 3 221 6-159 1-25 3 382 5-407 1 222 1-263 6 289 3-44 1-247 4 248 5-110 1 134 3 28 2-340 3 286 1-37 6-27 2 173 1-73 1 29 6 198 3-459 1 35 5 221 4-43 1-252 3-9 2 412 4-174 1-50 3-93 6 227 1-349 2 295 7-177 1-108 9 452 1-176 7 236 2-467 1 110 2-34 5 84 2-62 1 75 4-64 4 522 1-485 2-186 7 315 1-279 2 133 3-47 4 157 1-120 2 506 1-614 7 308 2-131 6 213 1-238 1 90 2 97 5-302 4 220 1-255 7 321 2-286 1 310 9-415 1 31 7 373 2-163 1 108 6-190 3 191 1-108 3-91 2 232 4-71 1-159 4 188 2-235 3 12 1 15 1 200 5-282 3 51 1 175 4-250 5 99 1 169 1-246 3 254 5-59 1-143 4-57 4 106 1 1 9-338 1 85 9-619 1-296 1-1212 8 1962 1 50 8 229 1-30 1 76 3-51 6 244 1-138 7 218 1-249 1 10 1 14 5-36 4 203 1-117 3-121 2 227 4-143 1 93 4-97 4 322 1-295 1 170 8-215 1 159 2-106 5 438 3-525 2 44 1 125 4-264 3 162 2 52 3-64 2 220 3-44 2-192 1 220 7-374 2 350 5-297 4 85 1 149 2-107 2 374 5-279 1 5 4-117 2 344 3-205 1 112 2 2 3-306 4 78 1 7 2-53 2 253 5-5 1-99 1-73 7 212 1-157 1 84 3 75 6-331 1 86 6 194 3-285 1 123 4-102 2 254 3-136 1-70 3 174 5-229 1 231 3 128 2-348 4 20 1 161 5 46 3-257 1 118 1 34 5 223 4-131 1 13 3-222 3 288 3-147 1 85 8 36 1-257 1 75 7 189 2-205 1 147 3-197 4 456 2-279 1 388 4-462 5 224 1-230 7-49 1 224 1-100 1-175 3-26 2 377 4-134 2-24 6-229 2 412 2-282 7 81 1-164 2 181 5-301 2 416 1-253 2 108 2 58 4-268 2 202 2-29 5-103 1 168 3-100 1 69 4-252 3 422 2-277 1 111 5 417 2-658 2 260 1 20 1 131 1-384 7 108 1 254 6-266 3 134 1-17 4-185 2 346 3-177 1 198 4 10 2-306 3 24 1 4 5-144 3 277 1-181 1 252 4-220 4 240 1-67 1-170 1-31 3 310 5-222 1-11 3 109 5-127 1 94 6 349 2-471 1 71 1-30 6-183 2 329 1-35 1 131 1 7 3-414 5 353 1-90 1 134 4-269 4 256 1-266 3 240 3-301 3 172 1-9 3 296 6-468 1 354 7-362 2 147 1-42 5-47 3 276 1-62 1-76 3-119 6 332 1-31 8-273 1 147 2 84 3-302 5 61 2 110 3 76 2-189 3 70 2-54 2 146 4-193 2 9 2 93 6-122 1 241 1-112 2 24 2 114 1-282 6 203 1-97 5-30 1 135 3-134 1-14 1 345 8-441 1 51 9 274 1-54 1 4 8-124 1 283 5-316 4 148 1-92 1-77 7 187 1-120 1 118 3-233 5 312 1-267 1 70 4-72 2 222 3-148 1 33 6-103 3 273 1-350 7 215 1-256 1 67 1-120 3 280 5-22 1-141 3 61 2-164 4 33 1-75 1 37 8-350 1-83 5-1802 4 1682 1 124 9 389 1-4 8 210 1-161 1 98 3 181 5-250 1 105 1 95 2-82 5 187 2-160 1-154 2 322 7-60 1-53 6 265 1-334 2 237 2-21 5-333 2 361 1-151 2-4 3-128 5 216 2 12 2-273 6 576 2-425 1 170 2-244 5 2 2 106 5 366 2-497 2 225 1-170 2-35 5 382 2-253 1-167 1-7 1 187 7-54 1 182 2-268 7 67 1 98 4 109 2-241 3 41 1 24 1 231 7-336 1 218 1 14 4 129 2-418 3 217 1 76 1 109 2-344 6 112 1 60 3-144 6 138 1-125 3-203 3 424 3-103 1-124 5 175 2-242 1 202 1 92 6-350 3 309 1-104 6 109 3-178 1 131 4 204 4-375 1 145 1-157 5 335 4-291 1 132 7 201 1-338 1 115 1 45 3-311 2 407 4-266 1 195 2 86 7-251 1 231 8-291 1 27 1 148 4 10 5-186 1 114 4-91 4 338 1-304 2 293 1-376 7 279 2-112 7 115 1-216 2 63 1 470 2-569 5 315 2 197 6 57 2-624 2 368 4-258 1 411 4-223 1-45 1-193 6 458 2-414 1 198 5-222 2 533 2-416 1 394 5-607 4 145 1 468 1-407 8 293 1-279 1 9 4-93 4 69 1 462 8-715 1 414 1 140 9-388 1 102 8-170 1 686 1-455 4 235 1-439 4 168 1-81 3 187 4-338 1 289 1-94 1 466 3-503 5 493 1-164 3 72 3-362 3 30 1 316 3 116 5-629 1 329 1 250 8-484 1 421 1 188 5-361 4 144 1 124 2 173 2-682 5 261 1-60 2 182 1-559 6 457 1-145 7 345 2-320 1 300 3-491 6 270 1-181 4-196 5 526 2-38 1-129 2 203 5-157 2-85 8 805 2-795 3-318 5 1190 2-582 3-585 5 219 2-52 4 472 5-167 1-133 4-19 2 768 3-605 1-316 5 827 4-669 1 433 2-602 7 355 1 32 7-416 2 768 1-249 8-462 1 158 1-121 8 915 1-218 1-461 1 41 3-419 5 396 1-79 6-192 3 392 1-393 5-48 3 616 1-490 4 260 1-287 4 97 1 156 6-258 2 589 1-190 1-23 1-460 2 684 6-182 1-482 5-93 3 892 1-662 1-190 3 488 6-500 1 299 3-213 5 685 1-625 1 671 2-442 7 511 1-427 2-378 2 416 5-345 1 324 7 338 1-670 1 292 1 153 2-500 7 541 2-412 2-164 4 440 2-246 2 301 6-318 2 280 2-135 1 206 1-417 6 290 2-272 6 661 2-348 2-50 5-464 4 836 1-642 1-164 1 787 7-178 1-405 4 463 3-629 2 478 1 71 4-563 5 520 1-225 1-244 6 713 2-472 1 500 6-779 3 193 1 107 5-18 1 581 3-493 1 45 1 345 8-504 1-42 4 566 5-734 1 36 8 701 1-151 1-115 3 213 4-732 1 249 1-79 4 958 2-1012 3 411 1-147 4-226 2 424 3-172 1-361 1 631 2-672 6 135 1-46 3-74 5 541 1-354 1 133 1 780 2-957 6 61 1 86 4 382 5-803 1 494 2 342 6-590 1 459 1-101 7-406 2 174 1-46 7 734 2-833 1 525 7-675 2 250 2 519 7-521 1 169 2 57 7-391 1 341 2 65 3 151 5-533 2-48 5 501 3-354 2 616 5 254 2-845 2 382 1-430 2 514 5-546 2 171 1-138 5-200 4 840 1-288 2 39 4-554 3 474 1-334 2 565 3-636 4 349 1 207 5-611 4 150 1 411 3-543 1 1049 5-197 1-385 8-284 1 760 1-668 6-100 3 914 1-728 4 510 4-769 1 351 1-289 4 641 3-673 1 250 1 21 8 147 1-417 1-12 9 547 1-33 1 94 4-520 4 134 1 43 3 298 6-307 1-254 5-105 4 461 1-345 7 1051 2-821 1-229 2 686 1-766 6 210 1 426 2-500 7 63 1-61 4-214 1 924 4-813 1 704 2-812 7 544 2-419 1 762 6-784 1 181 2 41 6 380 1-509 1 297 2 76 1-604 4 834 3-826 2 499 3 269 5-594 2 203 7-453 2 1034 1-518 1-133 6 732 2-641 1-438 6 643 3-71 1-139 2-65 5 860 2-783 1-245 4 383 5-37 1 62 1 118 8-452 1 349 6 510 3-734 1-7 4-158 4 941 1-836 1 39 6 307 2-457 1 363 1-403 8-148 1 820 1-368 1 121 3-242 4 230 1-241 1-122 3 220 5-26 1 381 5 790 1-1304 3 421 1 425 6-883 3 238 1 104 3 465 2-607 4 71 1-80 3 418 1-648 5 123 1 86 5 341 2-583 2 110 1 330 2-388 1 499 6-413 1-174 7 520 2-202 1-268 2 471 6-548 1 401 1-347 3 549 6-94 2-204 7-152 1 490 2-479 1-25 1 725 6-395 2 184 1-564 7 509 2-341 5 655 2-740 1 553 2-468 6 89 3-277 1-119 5 856 4-290 1-53 1 404 4-1006 4 274 1 102 5-103 4 490 1-231 1-155 1 444 7-91 1-597 4 745 5-609 1 619 3-779 6 448 1-152 3 822 1-990 5 189 1-169 3-108 1 1233 5-644 1-206 1 240 8-429 1 100 3 204 2-482 3 415 1-306 6 215 3-400 1 261 5-75 4 871 1-585 4 99 4-333 1 104 1-132 5-73 3 793 1-352 1-284 4-294 4 840 1-814 1 241 2-371 7 733 1-599 4 1037 5-700 1 12 8 309 1-510 1 275 3-330 6 492 2-519 8 854 2-460 1-188 4 464 3-256 2-266 7-96 1 755 2-852 1 1055 7-424 2-485 2 747 5-864 1 328 2-108 2-189 4 764 3-301 1 110 5-419 4 115 1-22 2 263 7-140 1-256 1 733 1-893 7 877 1-429 4 129 3-528 2 444 1-88 5 95 4-472 1 798 5-813 4 397 1-32 1-162 3 827 5-638 1 123 4 152 1-589 4 493 1-519 6 477 2-157 1 45 3-506 1 645 5-192 1-224 1 235 7-429 1 373 1-52 1-137 2 569 6-219 1-314 5 585 4-252 1-67 3-471 6 343 1 308 3 1333 1-1794 5 112 1 133 2 149 6-434 1 64 1-177 4 820 5-259 1-283 4-152 1 457 4-358 1-157 3 439 6-277 2 245 1-434 2 589 5-107 2-355 1-6 7 532 2-459 2-143 1 408 5-137 2-147 1 186 6-419 1 366 2-235 7 443 2-300 1 123 2-244 4 780 3-735 1 256 4-354 2 391 3-261 1 121 2 120 7-495 1 346 4-232 5 880 1-514 5-415 3 432 1-361 1 232 5-281 4 678 1-641 5-2 3 510 1-421 1 37 4-43 1 575 4-506 1-108 1-20 4 912 4-602 1-427 8 1269 1-1163 4 1000 5-904 1 346 8-393 1 710 1-293 1-398 3 705 5-547 1-118 1-248 2 384 6-202 1 372 4-338 2 766 3-503 1-285 2 402 7-318 1 561 7-627 2 346 1-210 7 194 1-340 1 191 1-267 3 592 6-186 1 427 8-860 1 86 2 93 2 809 6-668 2-40 2-397 1 751 5-365 2-23 1-60 7 320 2 81 2-458 6 114 2-112 9 732 1-963 7 573 2-59 1-286 2 436 7-344 1 11 4-288 1 667 4-449 1 240 2 606 5-1097 2 478 1-373 2 496 7-213 1 717 5-909 4 246 1-272 6 416 3-344 1 479 1-451 4 712 4-433 1 684 5-1111 4 292 1 284 1-393 7 257 1-3 8-568 1 591 1-197 5-213 1 568 3-54 1-557 1-74 2 875 6-126 1-465 3-272 3 1123 3-1088 1 515 3-402 2 656 4-564 1-111 2 641 3-829 4 338 1 355 9-810 1 550 5-60 3 809 1-552 1-191 5 185 3-396 1 145 1 106 3-366 4 763 2-565 2 5 3-210 2 776 3-423 2 616 6-716 2 222 2-367 7-141 1 597 2-235 3 155 5-362 2 117 1 461 1-762 7 209 1 90 1-199 8 946 1-114 4-762 5 82 1 758 9-909 1 181 2 583 3-770 4 709 1-554 1 488 7-740 1 259 1 52 3-226 2 655 4-493 1 597 3-740 6 31 1 352 8-260 1 302 1 396 1-876 8 54 1 32 3-103 5 793 1-339 1 108 8-583 1 298 4 289 5-553 1 250 3 741 6-969 1 342 8 253 1-556 1 109 1-92 4 844 4-803 1 416 2 49 3-558 4 140 1 148 5-201 3 659 1-451 1-267 2-13 7 741 1 16 2 172 5-1122 2 288 1 255 3-192 5 579 1-352 2-192 3 310 5-449 2 475 1-499 5 602 2-52 2-409 2-218 6 587 2-217 3 455 3-829 2 294 2 582 2-932 7 392 1-256 5-187 2 680 2-484 1 256 2-219 5 506 2-244 1-98 6 137 1-344 2 238 1-118 4 655 5-501 1-83 1 359 8-436 1 31 5-153 3 310 1-248 1 161 5 153 4-297 1 343 1 202 4-568 4 129 1 86 8-194 1 645 1-729 8 545 1-131 5 637 1-1257 3 787 1-364 5-73 1 358 3-357 1 217 5-296 4 748 1-725 1-165 8 775 1-4 8-789 1 434 1-56 2-415 6 753 1-324 1-45 5 524 3-904 1 146 1 62 3-4 6 1010 1-910 2-191 2 529 5-523 2 97 7 1062 1-728 2 109 2-516 6 408 2 322 8-727 2 247 1 49 2-297 5 124 2 322 7-492 1 271 2 69 4-116 2 474 3-233 1-311 1-24 8 651 1-336 4 309 2-589 3 94 1 585 2-748 7 253 1-138 6-105 3 413 1-584 4 300 5-127 1 83 4-106 1 612 4-290 1 49 3 352 5-622 1 303 1-411 3-33 3 576 3-167 1-272 4-298 2 783 2-514 1-32 4-66 4 475 1-299 1 296 3-372 3 529 3-217 1-394 9 1262 1-1047 1-355 2 598 6-210 1 108 3 83 3-560 3 312 1 163 2 213 1-656 6 30 1 34 7 566 2-571 1 232 2 399 2-654 5 480 1-379 2 619 7-126 1 150 4-631 5 89 2 514 2-661 6 225 2-20 6 490 2-622 2 282 2 27 3-623 3 610 2 312 5-606 3 80 2-168 7 456 2-255 1-170 4 586 3-613 2 132 1 64 5-286 2 1008 2-585 1 79 1-353 3 1236 5-1071 1-188 6 689 3-839 1 372 1-578 1 1173 7-328 1-544 3-2 1 621 5-343 1-133 1-16 4 373 4-286 1-51 4 923 4-1159 1 401 1 153 1-510 8 6 1 89 5 609 2-710 1 329 1-113 3 166 3-343 3 316 1-57 3 282 5-641 1 141 1 389 1 29 8-443 1 18 4 739 1-908 4 405 1-343 9 833 1-621 4 412 5-229 1-243 2 553 1-687 6 82 1 538 5-651 3 1042 1-474 1-118 7-300 1 324 1-28 1-192 7 505 2-514 2 59 2-77 3 364 3-158 2-151 3-258 4 632 1-539 2 256 2 383 3-452 3 241 2 184 3-619 5 16 2 174 6 329 3-491 1 263 1 134 8-584 1 580 7 230 2-690 1 161 9 555 1-277 1 199 5-769 3 642 1-184 5-355 4 540 1-265 4-287 1 558 4-236 1-399 1 761 8-567 1 212 4 354 5-343 1 135 4-260 1 593 4-459 1 574 7-815 1 473 1-334 3 233 3-407 3 115 1 548 1-595 4 683 4-381 1-73 4 553 5-947 1 728 6-399 3 437 1-519 4 405 5-163 1-196 2-229 5 1118 2-985 1 687 4-579 5 38 1-125 4 374 5-53 1-493 2-88 3 846 4-572 1 300 2-497 7 772 2-552 3-173 3 701 2-383 2-52 3 110 3-488 2 372 2-396 2-23 1 546 5-388 2 215 5-202 2 783 1-750 2-44 6 852 3-532 1 134 4 126 1-662 4 85 1 136 4 260 2-632 3 131 1 471 4-319 5 316 1-301 1 404 8-521 1 234 4-100 5 552 1 3 3 220 3-658 3 314 1 300 1-789 8 270 1 86 5-309 1 779 3-558 1-122 1-193 3 1678 5-1282 1-183 1 766 4-855 3 161 1-14 1-342 7 716 1-565 1 435 8 405 1-989 1 103 1-13 3 668 5-619 1 300 5-297 1 564 3-375 1-66 4-255 1 1021 4-590 1-308 2-50 7 574 1-497 5-146 3 636 1-571 1 767 5 524 3-1372 1 67 1 585 5-607 4 394 1-228 3 489 6-152 2-266 2-175 4 534 2-173 2 254 6-749 2 147 2 115 2 741 6-792 2 11 5 154 1-337 2 269 2-321 6 555 3-259 1-241 5 910 4-757 1 188 4-379 5 402 1-198 2-239 4 626 3-401 1 301 6-482 3 803 1-77 5-601 4 733 1-758 5 655 1-758 3 661 1-601 6 533 3-470 1 932 4-914 5 420 1 117 1 41 2-540 6 431 1-600 5 723 3-712 1 1155 1-1047 8 160 1 241 1-436 8 1071 1-787 3-569 2 717 4-46 1 94 6 289 3-676 1-85 2-87 3 533 4-150 1-190 2-284 3 785 4-617 1 473 9-545 1 68 2 300 5-416 2 383 1 234 4-454 4 590 1-318 2-140 1 266 6-456 1 370 2 466 8-870 2 387 5 910 1-1103 2 288 2-268 3-361 3 617 2-462 2 111 5 851 3-746 2-225 5 647 1-659 3 144 1 231 1-376 3 855 5-474 1-364 4 785 3-905 2 380 1 440 6-621 3 456 1-339 2 546 7-350 1-330 1-248 8 862 1-540 1-113 3 538 5-308 1-49 3 499 3-544 3 113 1-51 4 238 1-396 4 329 1-180 1 294 7-509 1 418 1 509 7-710 1 82 1-176 6 570 3-403 1-28 1-401 5 526 3-72 1 39 1-250 7 701 1-595 1 88 1 350 7-536 1 63 1-237 8 410 1-27 1 538 9-859 1 363 4 422 5-736 1 515 4 75 4-632 1 594 1-247 5-344 3 635" fill="none" stroke="#0000ff" stroke-width="15" stroke-linejoin="round" />
<path transform="scale(0.1)" d="M1220 11983l6-259 2 289 1-143 2-265 2 230 2-232 4 110 2 71 3 66 2-381 2 262 2 108 8 213 2-533 1 7 8 478 2-268 2 312 2-439 3 45 2 151 4-225 4 256 2-141 2-159 7 334 2 272 2-486 4 544 2-438 1 283 8-504 2 173 2 67 4-224 3 140 2-147 4-31 2 544 2-416 2 201 5 252 2-368 2-93 4-93 4 471 1-362 2 124 6 115 2-356 2 359 2-374 5 163 2 583 8-482 2 237 1-82 4 13 2-460 2 258 2-202 4 668 2-934 1 466 2 91 10-335 2 779 3-858 4 337 2-251 2 278 6-117 1 157 4-371 2 419 4-269 2 81 5 105 2-272 2 438 8-540 2 98 5-4 2 434 2-322 2-97 2 663 5-407 2-50 8-209 2 398 2-247 5 130 2 76 8-238 2 127 2-115 5-106 2 173 2-3 2 47 4-304 1 94 2-25 4 139 2-397 4 306 2 182 3-463 4 383 2-102 2-93 4 286 2-118 2-144 7-224 2 468 2-33 5-226 2 367 2-470 2-109 2 454 4-281 2 110 2 105 1-332 4 82 2 242 6-409 2 570 2-477 1 38 6 108 2-218 2 319 2-381 5 42 2 238 4 227 4-494 2 93 2 122 5 164 2-427 2 674 4-548 4 133 1 226 2 14 4-471 4 119 2 292 3-588 4 344 2-333 2 483 6-274 2-126 7-106 2 472 2-282 6-41 1 239 2-297 6-34 2 311 2-387 3-11 2 636 2-491 2 114 6-240 2 412 2-307 1 468 4 243 4-546 2-31 4 79 2-242 1 100 2-176 4 443 6-518 2 228 3 438 4-547 2 405 4 73 4-432 1-17 8 93 2-265 2 212 2 213 2-255 3 149 2 5 4-163 2 184 2-127 2 30 3-125 2 164 2-36 2 116 8 54 1-303 2 317 4-228 4 58 2-17 2-56 3 280 2-193 2 240 4-303 6 280 1-25 2-170 6 103 2 29 7-144 2-1 6 132 4-90 2 47 1-57 6 36 2-14 8 42 1 18 10-36 2-12 7-69 2-21 8-92 2-22 7-62 2-7 4-4 5 12 2 11 8 77 2 24 7 103 2 26 10 119 1 20 8 79 2 3 7 94 2-45 2 137 8-30 2 93 2-65 1 96 4-39 2-26 8 156 1 120 10-352 2 68 5-54 2 176 2 103 2 47 4-320 2 221 2 63 3-435 4 296 2-91 4 366 5-508 2 318 4 247 4-483 2 92 2 297 5-119 2-134 4-97 6 413 2-212 3-273 4 363 2-23 6-322 1 237 2-173 2 1216 6-1353 2 349 2-324 5 299 2-47 2 172 2 105 4-593 2 2 2 139 3 489 2-729 4 186 2 122 2-189 5 559 2-497 2-221 4 519 2-298 2 421 3-477 4 90 2-207 2 673 8-4 1-461 2 131 2-271 4 69 2-33 4 850 3-638 2 210 10-386 2 102 1-208 6 374 2 143 2-540 6 80 1 90 4-284 6 506 2-463 2 706 5-158 2-292 4-97 4 182 2-5 1 9 6-250 2 122 2 185 2-339 5 330 2-48 2-196 6 44 2-44 3-167 2 388 2-5 2-52 8-154 2 413 1-172 6 325 2-527 2-198 7 683 2-13 8-751 2 263 2 236 3-275 2 749 2-612 2-286 4 683 4-230 1-307 2-295 6 904 2-67 2-394 4 286 3-596 2 587 6-469 2 123 2 447 3-260 4 20 2 98 9-482 2 74 4 173 4-137 2 127 2-151 3 626 2-179 2-513 6 408 4-446 1 115 2 272 4-430 2 72 2 53 7 691 2-523 4 609 2-891 4 98 2-21 1 766 6-662 2 444 8-559 1 119 6 459 4-644 2 418 2 79 5-315 2 141 4-342 4 49 2 125 3-23 4 401 2-215 4-127 2 314 3-131 2-250 4 535 4-703 2 167 2 101 5-147 2 103 4 122 4-296 2 129 1-26 4 71 2-72 2 38 2-224 4-36 3 226 2-168 2 21 8-90 2-14 3 29 2-48 2 3 2-45 2 28 6-76 1-15 10-102 2-23 7-86 2-23 8-87 2-20 7-64 2-10 8-15 1 1 2 2 8 35 2 15 7 78 2 21 10 112 2 21 7 81 2 17 7 72 2 51 10 56 2-13 7 129 2 74 4-39 4 128 2-79 3-119 4 216 2-61 2-137 7 113 2 191 6-213 2 513 2-384 2-206 5 757 2-395 2 80 8-311 1 167 4-71 4 456 2-450 2-289 2 530 3-162 2 370 2 22 8-202 2 75 3 366 2-594 2 94 2-30 2 685 6-595 1 158 2-276 2 373 6-125 2 291 3-311 4 393 2-542 2 278 6-181 2 42 1-146 2 671 6-306 2 629 6-855 1 300 2-240 4 735 4-705 2 131 2 247 5-222 2 28 2 537 2-821 6 262 1-301 6 333 2-18 2-84 4-19 3 197 2-230 10 355 2-405 1 571 6-358 2 105 2-311 6 358 1-83 8 325 2-633 2 604 7-511 2 147 4 189 2-420 2 162 2 43 1 198 2-330 4 149 2-169 2-164 2 397 5-309 2 256 2-152 2 284 4-223 2 355 3 413 4-934 2 248 4 355 4-392 2 32 1-71 6 626 2-346 2-456 2 818 5-329 2 137 8-596 2 274 2-225 1 708 2-863 4 12 2 537 4-642 2 666 2-285 1 295 8-416 2 85 2-28 2-105 2 369 3-220 2-17 6 395 2-202 2 305 7-870 2 191 2 229 2-502 5 477 2-243 4 43 4-374 2 831 4-856 3 350 2 120 6 380 2-717 2 177 1 246 2-428 6 220 2 29 2 26 2-371 3 207 2-45 2 269 6-349 2 78 2-79 2 327 5-86 2-383 6 647 2-364 1-151 2-55 2 743 6-357 2-637 2 502 5-8 2-501 4-52 4 216 2 182 2-65 1 227 4-164 2-304 2-47 2 511 5-339 2-68 4 179 2-408 2 255 2-225 2-71 3 342 2-168 2-215 6 479 4-447 2 70 1-32 2 96 4-88 2 24 6-74 1 140 2-195 6 20 2-30 2 16 2-69 2 74 1-127 4 63 2-70 6-44 2 2 2-15 9-88 2-27 7-77 2-19 8-76 2-18 7-59 2-12 10-26 1-1 8 11 2 7 7 48 2 16 10 90 2 20 7 79 2 18 8 115 1-43 10 88 2 26 7 110 2 4 6-66 2 113 2-43 3-43 2 202 4-49 2 26 4-111 3 77 2 11 8 377 2 118 7-570 2 87 2-14 2 99 6-49 1 31 2 526 2-624 4 414 2-121 2 222 4-275 1 202 2 236 4-294 6 245 2-490 5 342 2-10 2 64 2-397 2 557 4-79 1-268 4-181 4 453 2-233 2 302 4-357 3 437 2-190 4-343 4 391 2-98 7 635 2-613 6 408 2-474 1 174 2 229 8-429 2 138 4 672 3-398 2 177 10-245 1 142 2 802 6-1137 2 587 4-488 3 210 2-168 2-101 6 626 2-251 2-188 1 307 6-80 2-212 2 1032 2-1208 4 187 1-197 6 804 4-393 2 7 5-348 2 517 2-126 4-311 2 320 2-27 2-215 5 309 2-133 2-37 2-143 2 509 5-188 2-18 4-513 4 237 2 127 2-114 3 483 2-236 2-176 8 385 2-426 1 54 4-5 4 603 2-481 2 179 5-449 2-103 4 670 6-362 2 166 5-407 2 582 2-386 2 446 6-630 1 707 8-732 2 328 2-519 2 564 5-141 2 52 2-413 4 558 2-449 2-77 2-92 1 698 4-655 2 146 4 306 5-290 2-178 6-74 2 424 2-174 2-284 2 532 3-192 2-219 6 144 2-348 2 36 2 340 7-274 2 101 4-14 3 342 2-421 2-181 6 725 2-533 2 301 7-491 2 685 6-888 2 350 2-153 1 604 6-677 2 108 2-249 2 878 5-685 2-166 2 606 6-372 2-341 5-124 2 454 2 31 8-335 2 202 1-152 6 245 2-405 2 272 7-123 2-79 6-13 2 177 2-136 2-85 3 59 4-157 2 178 4-201 4 20 1 142 10-168 2-24 3 88 4-118 2-22 8-83 2-31 9-66 2-8 7-73 2-22 8-77 2-18 7-69 2-14 10-46 1-3 4-3 4 2 2 4 7 33 2 13 10 82 2 19 7 77 2 18 8 83 1-5 10 100 2 5 7 88 2-21 4 79 4-8 2 0 3 128 4-78 2 251 9-274 2 275 2 84 6-241 2-104 5-56 2 675 2-385 4-106 2 352 4-90 1-300 6 199 2-201 2 179 4 205 3-424 2 408 6-303 4 125 2 263 3-163 2 255 2-157 2 78 2-394 6 359 1-308 2 320 4-341 4 22 2 476 5-710 2 245 2 67 6-273 2 550 2-243 5-122 2 822 2-803 9 320 2 35 2-136 6 119 2-352 2 544 3-666 2 326 2 109 6 372 2-932 2 206 1 230 2-23 6 205 2 168 4 57 2-352 1 86 2-385 4-34 2 804 4-417 2-96 5-191 2 205 2 56 2 405 4-911 2 870 1-72 10-748 2 288 2 441 3-517 2 293 2-131 6-124 2 282 2-634 2 1451 5-984 2 155 6 169 3-543 2 315 4-460 4 232 2 1 7 350 2-242 2 350 8-458 2 365 5-500 2 683 2-585 2 83 4-100 1 55 2-143 4 426 6-416 2-10 2 786 1-816 4 361 2 702 4-1001 4 227 2 27 5 512 4-718 2 273 2 250 3-388 2 119 2-118 2 330 6-388 2 185 2-259 5 325 2-284 2-92 6 399 2-281 1-39 2 409 2-445 4 289 2 74 7-435 2 345 2-485 8 373 2-148 1-82 4 419 2-177 2-169 2 190 6-264 1 187 4 425 2-803 4 158 2 334 5 347 2-553 2 176 2-156 2 210 4-3 2-304 1-53 8 219 2-72 6 27 1-203 2 77 2-212 6 533 2-265 3 282 2-421 2 80 2-143 8 416 2-365 1 843 2-727 6 344 2-445 2-66 2 259 3-97 2 263 2 54 4-591 4 441 2-205 1 299 2-473 4 414 2-16 2 600 6-822 1 538 8-721 2 327 2 433 4-620 3 40 2 984 8-1068 2 162 1 80 6-336 2 354 6 193 2-460 1 312 2 414 6-832 2 482 2 80 5-511 2 196 2 52 6 53 2-299 2 26 1 452 8-374 2 638 7-621 2 411 2-370 8 209 2 210 5-826 2 484 2 181 4-199 4 545 1 113 4-823 6 129 2 224 5-365 2 424 2 16 2-277 6 420 2-365 5 269 2-624 2 418 8-222 1 525 2-499 6 542 2-691 2 306 2 228 5-314 2 79 2 422 2-548 6 38 1 173 6 137 2-443 2 313 4-593 3 391 2 612 6-667 4 101 2-145 3 936 4-807 2 72 6 253 2-311 1-87 8 366 2-385 2 859 4-841 3 89 2-269 8 481 2-177 2-185 5 647 2-367 2 118 6-259 1 105 2-151 6 312 2-492 2 230 2 37 3-207 2 77 2 45 6 273 4-240 2 162 1-182 2 251 4-1 2 6 2 454 5-665 2 79 8 399 2-85 2-88 2 73 5-348 2-230 8 555 2-1 1-442 8 307 2 103 4 202 3-433 2 324 6-455 2 418 2-294 3-110 2 685 2-651 2-16 2 221 8-117 1 347 2-456 4 751 2-384 2-121 2-50 5 15 2 2 4-399 2 842 4-577 2 244 1-247 2 589 4-61 2-942 2 859 6-313 1-381 6 511 4-19 2 324 7-683 2 725 6-725 2 108 2 17 7 412 2-325 2 220 4-129 3 215 2-445 2 469 6-376 2 344 2 312 1-551 4 403 2-353 4-38 4 1258 2-1177 1-170 2 471 6-247 2-244 7 754 2-643 4-63 6 396 2 21 3-366 2 1022 2-734 2-110 4 464 2-470 2 137 1 204 2 39 8-287 2 412 5-634 2 283 2-386 4 723 4-191 2-231 3 831 4-431 2-449 8 507 1-234 2-27 2-221 2 797 4-541 2-167 2-184 5 764 2-726 2 497 8-346 1 125 6 367 2-481 2-36 2-82 5 511 2-620 10 796 2-124 3 579 2-1084 2 341 2 77 4 432 2-902 2 418 1 390 4 88 6-874 2 488 5-621 2 524 2-211 2 281 6-468 2 76 3-191 2 407 2-75 2-360 2 695 7-333 2 67 2-152 4 376 2-288 2-115 4-28 1 326 2-305 2-204 10 659 1-182 4 328 2-723 2 193 2 611 4-719 3 77 2 422 4-509 6 341 2-178 2-446 5 623 2-406 2 525 6-229 1-251 6 671 4-641 2 127 2 480 5-441 2-181 2 298 2-409 4 131 2 497 5-474 2 584 2-175 8 116 1-765 2 833 6-530 2 84 2 0 2-56 2 680 3-515 2-147 2 141 8-385 2 346 1-383 6 202 2 338 4 7 3-133 2-763 8 909 2-221 2-187 2 299 3-523 2 154 2 864 6-931 2 175 2-361 1 610 8-310 2-137 2-161 2 656 3-490 2-144 2 608 6-462 2-251 2 631 5-90 2-170 6-186 2 781 2-273 1 81 4-446 4 243 2-155 4 91 3-496 2 299 2-16 4 542 4-480 2 539 5-693 2 418 2-34 6-351 2 2 1 112 4 279 2-433 4 149 2 100 3-306 4 95 2 186 2 139 4-232 2 76 2 74 7 457 2-745 2 43 4 201 2-341 1 191 2-240 2-233 4 926 2-686 2-17 7 391 2 332 10-723 1 695 8-746 2 611 6-629 1 433 2-397 2 490 8-129 2 486 5-847 2 83 2 334 4 160 2-618 2 198 1-220 2 493 4-498 4 349 2 352 5-580 2 28 2 170 2 152 2-218 4 132 2 84 1 73 2-526 4 33 2 139 4 155 4-177 1 67 2-207 2-29 4 573 2-5 2-361 4 285 3-326 2 118 4 501 6-655 1 236 2 423 4-625 2 313 2 70 6-567 1 943 2-927 2 715 8-655 2 281 1-140 6 430 2 92 8-460 1-270 6 1057 4-588 2-391 4 527 3-311 2 756 4-936 4 243 2 792 5-841 2 400 2-290 8 459 1-732 2 58 2-36 6 1023 2-765 5 181 2-268 2-123 2-47 4 495 4-92 1-327 2 151 4-261 2 196 2 231 2-276 4 538 1-345 2 125 2 644 4-1049 4 260 2 122 2-361 3 693 2-581 2-244 8 677 1-169 2-363 4 391 4-200 2-75 5 293 2-21 2-384 4 493 4-9 2-103 3-189 4 640 2-294 2-501 6 556 1-286 2-32 4-288 2 538 2-308 2 457 2-369 2 656 3-152 2-304 8-466 2 808 2-537 1-307 4 724 2-53 2-226 4 189 2-517 1 274 2-100 2-109 8 592 2-551 2 788 5-555 2-189 4-34 4 919 2-476 9-348 2 207 2-498 3 845 2-126 2-99 4-252 4 420 2-509 3 621 2-927 2 879 2-298 2 269 6-684 2 172 1 38 4-238 4 167 2 452 4 314 3-600 2 30 6-397 4 767 2-789 3 1253 4-1092 2 138 2 524 6-198 1-243 2 524 6-793 2 75 2 352 3-439 4 97 2-131 4 569 4-612 2 95 9 516 2-3 2-515 5 360 2 261 2-421 6 392 2 78 5-881 2 750 2-388 2-384 2 1397 6-997 1 322 2-222 6 85 2 16 4-322 3 572 2-390 8 393 2-609 2 614 3-478 4 218 2-227 2-84 2 649 4-408 1-118 4 217 4-455 2 230 2 99 2 232 5-365 2-61 2 400 6-485 2 45 3-57 4 657 2-291 2-635 2 853 5-332 2 205 2-441 6 182 2 120 5 337 2-508 2-281 10 615 1-453 4 792 4-437 2-7 4-208 2 261 1-86 2 122 4-628 6 241 2 24 5 511 2-357 2-64 2-97 6 269 1-246 2-76 6 441 2-43 2-2 2 282 3-569 2 26 2 62 6-370 2 234 2 13 3 1034 2-1216 2 132 2 103 4 196 5-383 2 321 4 16 4-304 2 607 4 11 1-798 2 595 2-197 6-100 4 375 1-178 2 215 6-252 2 79 2-475 5 1282 2-732 4-377 4 467 2-269 2 56 3 156 4-465 2 50 2 485 6-384 1-214 10 606 2-605 4 486 3-428 2 19 8 365 2-59 2-310 5 312 2 141 4-142 5 65 2 684 8-1051 2 642 2-538 5 517 2-605 2 497 8-441 2 242 5 367 2-599 2 517 7-675 2 157 2-264 6 588 2-199 2 82 3 778 4-902 2-211 6 767 2-562 2 397 7-636 2 290 2 275 2 52 2-747 3 490 2-8 2 921 4-1271 2 625 2-284 7-358 2 722 8 115 2-735 1 313 2 161 4-435 2 397 2-282 2 270 2-351 3 137 2 81 2-269 6 511 2-418 2 28 5 388 2-52 2-136 6 444 2-847 1 441 6-428 2 435 2-92 2-172 2 647 1-824 4 54 2 171 2-153 4 722 2-237 2-33 7 265 2-903 2 391 2-293 5 590 2-554 6 599 2-637 2 649 2-802 1 978 4-332 2 266 4-856 6 576 1-368 2 464 6-461 2 383 6-600 1 945 2-337 2 596 8-819 2 152 3-364 4 53 2 475 8-685 1 179 2-303 8 938 2-875 2 653 5-483 2 62 2-189 4 281 2-117 2 80 1-12 4 499 2-215 2 127 2-598 7 502 2-66 4-610 4 327 2-64 4 435 3-360 2 64 2 254 2-326 6 74 1 285 6 144 2-697 2 425 6-168 1 518 2-333 8 229 2-828 2 18 5 869 2-62 2-298 2 560 4-979 2 794 1-599 2-177 4 1001 4-862 2 184 4-39 3 309 2-82 2-54 4 467 2-360 2-375 1-86 2 284 4-16 2-458 4 737 5-617 2 323 6-310 2 702 2-483 2 616 5-460 2-37 4 514 6-837 1 257 2-88 4 655 2-550 2 491 2-873 5 407 2 74 8 333 2-767 2 643 2-591 5 14 2 410 4-400 4 821 1-977 6 1060 4-921 2 299 2-229 2 332 3-100 2-600 6 1086 2-924 2 405 3-239 2 380 2-200 2-45 2-315 4 447 3-39 2-104 2-187 6 713 2-452 2 467 5-880 2 276 2 677 4-889 4 323 2-1 3 313 2-680 2 247 2 102 2 80 5-315 2 759 4 208 2-857 4 89 2-208 7 952 2-840 2 550 6-449 2-349 5-156 2 646 2-340 2-21 2 431 5-146 2-129 8 504 2-873 3 515 2-528 2 447 2 54 8-306 2 541 1-406 2-40 2 169 4-30 2 160 4-437 1 511 2-19 2-41 2-245 2 960 6-754 2-102 1 11 2-177 4 3 2 602 6-487 2 28 1-127 6 547 4-651 2 401 3-375 4 220 2-37 2 45 2-248 4 236 2-184 1-30 4 862 4-652 2-338 2 1011 5-462 2-85 2-283 4 296 2-26 2-114 2-355 1 487 4-427 2 265 4 315 2-436 4 265 1-124 4-2 4 168 2-493 2 595 5-578 2 364 2-282 6 417 2-187 2-153 5-101 2 478 2 81 6-580 2 450 1-26 4-216 6 243 2-294 2-301 5 318 2 182 4-339 2 678 2-661 2 135 5 43 2-269 2 676 8-490 1 224 2-299 6 1453 2-1616 2 475 2 92 2-443 3 21 2 296 2 65 4-482 4 338 1-208 2 446 2-542 4 504 2-122 2 260 5-576 2 358 8-468 2 282 2-20 3-71 2 538 2-508 2-15 4 920 4-949 1 475 10-481 2 3 5 628 2-688 2 147 2-230 6 414 2-162 3-260 2 653 2-517 2 277 2-194 2 533 5-226 2-346 4 151 4-352 2 334 4 416 1-667 2 80 2 441 4-569 6 164 1 79 6 151 2-354 2 169 4-134 2 461 1-88 2-556 6 943 4-759 2 262 5 178 2-306 2 365 2-549 2 553 4-276 1 391 8-433 2 410 2-549 5 458 2-580 2 464 2-632 4 800 2-247 2 101 2-400 5 399 2-569 6 943 3-553 2-52 2 332 6-640 2 403 5 330 2-85 2-204 4 438 4-526 2 119 2-375 1 538 6-58 2 278 7-715 2 147 4 878 6-301 2-500 5 539 2-524 2-184 4-56 4 493 2-268 1 313 8-556 2 843 7-971 2 447 2 188 6-497 2 929 5-686 2 192 2-264 2 480 6-526 2 476 1-241 2 367 2-432 4 144 2-446 4-83 1 317 2-65 2 267 2-237 8 852 2-389 1 360 4-667 2 227 2-140 8-224 1 553 8-731 2 66 2 94 3-158 2 553 2-257 2 423 6-561 2 593 2-394 1 101 2-334 6 242 2 446 2-721 5 1114 2-930 4-289 4 385 2 404 2-740 5 297 2-167 2-69 6 972 2-227 1-428 2-153 6 803 2-836 2 252 4-287 1 156 2-290 4 532 6-468 2-58 3 411 4-374 2 833 4-689 4 159 1-50 2 601 6-1043 2 175 2 168 4 493 1-661 2 6 2-58 8 662 2-481 3-64 4 378 2-59 6 44 2-388 1 384 2 77 4-455 4 148 2-269 2 408 5-85 2-109 4-285 4 604 2-113 1-220 2 19 4-287 2 199 2 58 2 372 5-521 2 1850 8-1934 2 275 2-86 2-332 5 832 2 273 4-994 4 536 1 254 2-555 6 779" fill="none" stroke="#ff0000" stroke-width="15" stroke-linejoin="round" />
</g>
<text x="122.00" y="1490.30" font-family="'Liberation Sans', Arial, Helvetica, sans-serif" font-size="22.3" fill="#262626" text-anchor="middle" font-weight="normal" >0</text>
<text x="310.45" y="1490.30" font-family="'Liberation Sans', Arial, Helvetica, sans-serif" font-size="22.3" fill="#262626" text-anchor="middle" font-weight="normal" >500</text>
<text x="498.90" y="1490.30" font-family="'Liberation Sans', Arial, Helvetica, sans-serif" font-size="22.3" fill="#262626" text-anchor="middle" font-weight="normal" >1000</text>
<text x="687.35" y="1490.30" font-family="'Liberation Sans', Arial, Helvetica, sans-serif" font-size="22.3" fill="#262626" text-anchor="middle" font-weight="normal" >1500</text>
<text x="875.80" y="1490.30" font-family="'Liberation Sans', Arial, Helvetica, sans-serif" font-size="22.3" fill="#262626" text-anchor="middle" font-weight="normal" >2000</text>
<text x="110.50" y="1465.80" font-family="'Liberation Sans', Arial, Helvetica, sans-serif" font-size="22.3" fill="#262626" text-anchor="end" font-weight="normal" >−<tspan dx="3">100</tspan></text>
<text x="110.50" y="1366.55" font-family="'Liberation Sans', Arial, Helvetica, sans-serif" font-size="22.3" fill="#262626" text-anchor="end" font-weight="normal" >−<tspan dx="3">80</tspan></text>
<text x="110.50" y="1267.30" font-family="'Liberation Sans', Arial, Helvetica, sans-serif" font-size="22.3" fill="#262626" text-anchor="end" font-weight="normal" >−<tspan dx="3">60</tspan></text>
<text x="110.50" y="1168.05" font-family="'Liberation Sans', Arial, Helvetica, sans-serif" font-size="22.3" fill="#262626" text-anchor="end" font-weight="normal" >−<tspan dx="3">40</tspan></text>
<text x="110.50" y="1068.80" font-family="'Liberation Sans', Arial, Helvetica, sans-serif" font-size="22.3" fill="#262626" text-anchor="end" font-weight="normal" >−<tspan dx="3">20</tspan></text>
<text x="110.50" y="969.55" font-family="'Liberation Sans', Arial, Helvetica, sans-serif" font-size="22.3" fill="#262626" text-anchor="end" font-weight="normal" >0</text>
<text x="110.50" y="870.30" font-family="'Liberation Sans', Arial, Helvetica, sans-serif" font-size="22.3" fill="#262626" text-anchor="end" font-weight="normal" >20</text>
<rect x="470.00" y="913.50" width="192.90" height="145.50" fill="#ffffff"/>
<path d="M566.45 913.50V1059.00M470.00 1047.81H662.90M470.00 1003.04H662.90M470.00 958.27H662.90" stroke="#dcdcdc" stroke-width="1.3" fill="none"/>
<path d="M470.00 913.50H662.90V1059.00H470.00ZM470.00 1059.00v-4.00M470.00 913.50v4.00M566.45 1059.00v-4.00M566.45 913.50v4.00M662.90 1059.00v-4.00M662.90 913.50v4.00M470.00 1047.81h4.00M662.90 1047.81h-4.00M470.00 1003.04h4.00M662.90 1003.04h-4.00M470.00 958.27h4.00M662.90 958.27h-4.00M470.00 913.50h4.00M662.90 913.50h-4.00" stroke="#333333" stroke-width="1.5" fill="none" stroke-linecap="square"/>
<clipPath id="c6"><rect x="469.50" y="913.00" width="194.90" height="147.00"/></clipPath>
<g clip-path="url(#c6)">
<path transform="scale(0.1)" d="M4700 10657l3-71 7 54 0 17 6-57 4 57 1 0 8-103 1 103 0-72 1 72 5-109 4 109 1 0 3-53 6 53 0-7 1-103 0 110 9 0 0 0 4-87 5 87 1-80 1 80 9-27 0 27 6-70 3 70 1 0 3-69 7 69 0 0 2-76 8 76 1 0 3-75 6 62 0 13 1-87 9 87 1 0 0-74 9 74 0 0 5-99 5 68 0-17 1 48 5-60 3 60 1 0 9-75 1 75 0 0 7-94 2 94 1-5 1 5 2-123 7 91 0 32 9-128 1 128 1-100 2 100 5-181 2 181 0-24 2 24 5-141 3 141 1-132 4 132 4-165 1 34 0 128 2-109 1 112 7 0 0-32 1 32 1-144 7 144 1 0 1-199 9 112 0 87 8-211 1 172 1-78 3 117 6-190 1 128 0-28 2 90 5-213 3 213 1-36 1-108 2 144 6 0 0-56 1-95 2 151 7 0 1-40 3 40 5-200 1 136 0 38 2 26 4-206 4 183 1 23 8-178 1 142 0-54 2 90 3-185 5 156 0-24 4 53 5-144 1 36 1-58 2 99 7-12 0 7 9-172 1-9 6-962 4 883 0 30 10 206 1-91 4 160 5-33 0-39 4-79 1 178 5-152 1 73 1 52 7-130 1 22 0 91 3 44 2-202 5 122 0-99 2 179 7-73 1-74 3 147 7-186 0 186 5-193 4 68 1-39 6-22 1 153 3-85 0-14 2-58 7 143 1-87 1 42 1 47 6-141 2 39 0 30 8-84 1 195 1-175 1 167 5-179 4 193 0-183 8 148 2-165 0 153 3 16 6-169 1 70 1 106 6-193 3 144 0-21 4-88 5 145 1-65 6-80 2 182 2-162 0 14 4-56 6 204 1-41 2-191 3 232 4-198 0 106 1 35 8-140 1 10 1 79 3-141 3 221 3-162 0 70 5 120 2-252 3 130 0-15 8 88 0-214 1 73 1 7 2-58 3 241 5-180 0-39 4-9 0 169 5-53 1-15 1-100 4 136 5-65 0 100 2-212 7 69 1 45 4-59 2 180 4-165 0-22 6 200 2-241 2 117 1-77 7 175 1-245 1 60 0 49 1-48 1 140 8-22 1-115 1 164 5-166 3 51 0 29 4 63 3-204 3 96 0-1 4 103 4-174 1 40 1 84 3-106 2 164 5-143 0 117 7-161 2 73 1-35 10-264 0-78 2-681 6 990 2-16 1 41 2-34 4 127 3-89 0 24 6-72 2 211 2-158 1 56 3-58 4 144 2-97 0 6 4-90 1 149 5-32 0 33 6-116 3 100 1-5 1 84 2-164 7 96 0-47 4 50 4-132 1 38 1 57 1 160 3-204 6 57 0-22 3-126 7 177 1-201 6 260 3-170 0 59 5 58 2-147 3 78 1 49 3-90 3 145 3-82 0 25 1 116 9-225 0-54 9 297 1-252 5 129 5-127 0 13 7 114 0-150 2 65 1 114 3 5 7-137 0 69 2-93 4 161 4-95 1 49 3 40 4-189 2 172 0-51 2-118 2 210 6-140 1 77 1 39 5-132 3 73 0-48 2-58 8 193 1-149 0 146 8-200 1 48 0-5 7-60 3 155 0-45 7 137 1-207 1 46 1-5 5-63 2 186 3-70 0-73 4 103 0-158 5 5 1 29 8 202 1-211 1 50 0-15 9 221 1-274 1 82 3 60 0-126 6 56 0 202 1-251 9 109 1 44 5-152 4 145 0-129 1 140 4-188 5 183 0-74 8-40 1 104 0-52 1-7 3 40 7-131 0 45 4-55 5 124 0-113 1 74 1 13 6-120 3 17 0-40 7-973 3 809 1 36 9 261 0-88 5 137 5-118 1 12 1 80 2-108 6 36 0 96 1 50 6-154 3 5 0 217 6-280 3 100 1-32 1 99 7-176 2 96 0 29 1-101 5 226 3-128 1 54 2 53 4-179 4 59 0-45 8 130 2-113 1 114 8-152 1 56 0-10 3 78 6-118 1 64 1 98 7-170 2 69 0 10 2 90 4-153 4 102 1-15 3-85 4 119 2-92 0 66 1-89 4 242 5-94 0-104 7-57 1 170 1-129 1 69 4-114 1 185 5-90 0-74 4-55 1 188 4-160 1 72 5 36 3-128 2 104 0 86 4 95 1-278 5 108 1 1 1 66 7-151 1 36 0 121 4 13 6-190 1 99 1-56 8 142 0-94 9-26 1 121 0 86 6-277 3 8 1 164 3 15 5-143 2 54 0-64 4 207 3-211 2 46 1 53 1-103 6 151 3-116 0 45 3 105 6-168 1 103 1-104 5 111 4-27 0 15 7-96 3 119 1 1 0-127 9 29 0 155 4-199 6 122 0 2 5 72 3-143 1 67 1-41 7-57 2 141 1-120 0 31 2-32 2 100 5-96 1 121 6-201 4 117 0-64 2 27 8-233 1-38 2-813 7 985 0 5 1-2 6 148 3-112 1 47 5-51 1 145 3-85 0 11 4 142 5-203 1 50 0 113 8-148 1 152 1-94 1 191 3-214 6 214 0-220 6 177 2-193 1 4 1 32 4-15 6 124 0-88 7-39 2 162 0-140 1 141 1-189 9 39 0 44 5-129 2 191 3-126 1 14 2 112 3-158 4 101 0 23 5 88 4-174 1 46 1-15 1-27 5 166 3-133 0-88 5 191 5-48 0 8 9-101 0 51 1 5 3 107 2-175 5 75 0-3 6 160 1-218 2 141 1 77 5-243 5 134 0-20 1-87 8 216 1-154 1 154 2-250 7 114 0 111 6 25 4-272 1 187 7-115 0 200 2-165 0-63 1 228 9-244 0 130 2 114 1-173 6 17 1 0 1 156 4-231 5 198 0-155 1 188 8-108 1-46 3 142 0-252 7 165 0 99 9-247 1 128 1 95 3 24 4-102 2 102 0 0 5-241 5 10 1 231 2-156 7 101 0-32 1 87 9-161 0 93 2 68 6-174 1 66 1 3 1 105 2-148 7 141 0-119 1-69 5 195 3-139 1-9 1 148 1-161 8 72 0 89 5-156 5 156 1-63 0 63 1-189 7 12" fill="none" stroke="#0000ff" stroke-width="12" stroke-linejoin="round" />
<path transform="scale(0.1)" d="M4700 10655l2 2 6-173 2 49 1 32 3-142 5 234 1-211 5 211 5-150 1 68 6-122 2 142 1-64 1 73 0 53 1-150 7 108 1-159 9-10 1 211 1-153 4 153 3-199 1 102 1 97 8-209 1 74 1 10 1-11 1 136 8-15 1-207 4 222 0-317 4 205 1-3 3 115 2-252 5 138 1-90 4-33 1 189 4-58 1 4 2 91 4-243 2 231 1-44 1-145 4 212 5-205 1 21 2-22 1 179 5-83 1-31 3 45 4-99 2 76 1 22 7-223 3 220 1-123 1-86 5 214 2-118 1 36 3-137 6 260 1-212 1-50 1 206 8-34 1-146 2-38 1 257 5-248 1 144 1-172 6 229 3-181 1 55 4-119 1 304 4-187 1 102 0 6 7-292 1 83 1 72 2 68 8-229 1 214 8-188 1 141 3-180 1 287 5-278 1 185 4 183 6-334 1 45 5-113 3 300 1-152 4 121 6-244 1 83 1-119 2 192 6-119 1 83 3-101 3 111 2-103 1 64 2-74 1 143 7-81 1 98 2 21 2-136 5 38 0 7 3 52 5-65 1 18 1 2 1 39 4-45 5 27 1-2 3 12 5-21 1-7 9-85 1-9 6-24 4 10 1 7 8 97 1 11 10 88 1 22 1-1 4 64 4-14 1 42 0-30 8 85 1 54 5-159 5 86 1 46 1 21 6-212 1 134 1-41 2 140 3-204 4 119 1-82 2 167 8-65 1 65 3-182 5 8 1 107 2 67 3-207 5 146 1-21 2 82 7-269 1 189 5 80 2-288 1 144 1 90 2 54 5-266 3 73 1 67 1 126 3-235 5 235 0-183 2 154 7-222 1 97 3 137 7-295 1 16 4 296 4-168 1-53 7-29 2 139 1-153 3 149 7-124 1-62 7 266 1-78 1 103 2 10 2-293 6 109 1 141 2-287 5 330 2-296 1 141 0 155 4-363 4 363 1-163 4-140 6 303 1-107 4 51 4-218 1 33 8 241 1-33 1-232 3 184 6-220 1 32 1 24 4 245 3-296 1 98 1-54 2 252 8-267 1 54 3 207 2-290 4 178 1-96 2-91 6 222 1 27 7-184 2 240 1-228 1-88 8 156 1-103 0-31 4 79 5-133 1 72 1 30 8-115 1 15 1-22 1 1 7-65 1-12 9-87 1-9 10-68 1-1 1 0 7 32 1 8 10 98 1 11 9 81 1 9 8 100 1 8 6-57 2 97 2-89 1 16 1-12 7 268 0-173 1-93 3 305 6-246 1 76 4 170 2-330 4 330 1 0 7-147 1 42 1-13 1 118 5-131 4 112 1 19 5-95 4 43 1 20 1-66 1 98 6-36 1 36 1-8 9 8 1 0 6-58 3 58 0 0 9 0 1 0 10 0 1 0 6-11 2 11 1 0 5-7 4 7 1 0 3-57 7 57 1 0 5-18 3 18 1 0 8-20 2 20 1 0 6-6 3 6 1-54 1 54 3-96 4 96 1 0 5 0 5 0 1 0 7-109 1 109 1-146 3 146 5-190 1 190 1-123 1-78 3 201 6 0 1-143 2 129 3-172 3 72 1 114 10-214 1 138 1 76 4-179 4 174 1-288 1 227 5-253 2 97 1 83 2 73 4-233 4 78 1-31 2 81 4-203 3 79 0-97 3 216 6-179 1-2 5 41 5-93 1 7 2 3 6-80 1 0 9-75 1-9 10-81 1-6 6-17 2 1 1 1 10 58 1 9 9 74 1 9 8 73 1-3 9 101 1-75 1 91 1-64 7 81 1-31 3 217 4-258 2 33 1 45 5 229 1-281 4 232 1-40 3 114 5-244 1 61 5-61 1 251 4-108 1-130 8 271 1-85 1-15 1-140 3 251 4-109 1 31 2 78 7-150 1 62 1 88 2-10 7 10 1 0 3-82 5 82 1-19 1-45 3 64 6 0 1 0 5-57 3 57 1 0 4-25 5 25 1 0 10 0 1 0 3-50 5 50 1 0 10 0 1 0 6-16 3 16 1 0 8 0 1 0 8-77 2 77 1-1 1 1 7-76 0 76 1-6 2 6 6-64 1 64 1-73 2 73 2-113 6 47 1 66 1-150 7 150 1-65 1 65 3-182 6 155 1 11 3 16 3-273 3 273 1-207 3-74 1 281 4-269 1 269 7-373 3 152 1-55 7 104 1-183 1 123 1-23 1 11 5-85 2 19 1-39 5 36 2-91 3 74 1-64 2 39 6-75 1-10 9-70 1-12 10-80 1-9 8-56 1-2 3-3 7 18 1 6 9 71 1 9 7 71 1-8 1 15 9 79 1-10 1 6 6 136 2-69 1-37 3 144 6-167 1-14 1 305 9-176 1 27 4 82 2-191 2 55 1-8 6 217 3-213 1 149 6-136 3 225 1-69 1-135 1-116 5 265 2-103 1 167 1-228 1 305 8-198 1 23 4 117 2-300 3 220 1 20 0 118 1-415 7 355 1-83 6-201 1 344 3-212 1 2 5 210 2-409 1 360 1-159 3 153 1-331 5 227 1-59 5-214 1 432 4-151 1-116 2 192 4-311 2 105 1 0 6 207 4-207 1 165 3-225 1 308 5-247 1-65 6 345 1-358 1 213 1-50 1 195 2-330 7 200 1-179 2 236 7-65 0-135 5 113 2-170 2 143 1 37 3 40 1-200 6 18 1-51 1 156 1-219 6 168 1 86 8-208 1 294 1-362 6 378 4-146 1-74 1 73 2-161 5 14 1-8 4-80 6 248 1-190 2-28 6 402 1-326 1 25 0 148 3-249 5 216 1-20 1-246 9 452 1-325 7-103 1 343 1-92 4 177 4-384 1 73 1 36 3-152 7 367 1-91 2-284 6 135 1 12 3-123 2 215 4-168" fill="none" stroke="#ff0000" stroke-width="12" stroke-linejoin="round" />
</g>
<text x="470.00" y="1079.30" font-family="'Liberation Sans', Arial, Helvetica, sans-serif" font-size="18.2" fill="#262626" text-anchor="middle" font-weight="normal" >0</text>
<text x="566.45" y="1079.30" font-family="'Liberation Sans', Arial, Helvetica, sans-serif" font-size="18.2" fill="#262626" text-anchor="middle" font-weight="normal" >500</text>
<text x="662.90" y="1079.30" font-family="'Liberation Sans', Arial, Helvetica, sans-serif" font-size="18.2" fill="#262626" text-anchor="middle" font-weight="normal" >1000</text>
<text x="466.00" y="1054.11" font-family="'Liberation Sans', Arial, Helvetica, sans-serif" font-size="18.2" fill="#262626" text-anchor="end" font-weight="normal" >−<tspan dx="2">40</tspan></text>
<text x="466.00" y="1009.34" font-family="'Liberation Sans', Arial, Helvetica, sans-serif" font-size="18.2" fill="#262626" text-anchor="end" font-weight="normal" >−<tspan dx="2">20</tspan></text>
<text x="466.00" y="964.57" font-family="'Liberation Sans', Arial, Helvetica, sans-serif" font-size="18.2" fill="#262626" text-anchor="end" font-weight="normal" >0</text>
<text x="466.00" y="919.80" font-family="'Liberation Sans', Arial, Helvetica, sans-serif" font-size="18.2" fill="#262626" text-anchor="end" font-weight="normal" >20</text>
<rect x="687.80" y="880.80" width="168.70" height="60.20" fill="#fff" stroke="#262626" stroke-width="1.6"/>
<path d="M694.70 896.60H764.20" stroke="#0000ff" stroke-width="1.3"/>
<path d="M694.70 925.40H764.20" stroke="#ff0000" stroke-width="1.3"/>
<text x="769.10" y="904.90" font-family="'Liberation Sans', Arial, Helvetica, sans-serif" font-size="22.3" fill="#000" text-anchor="start" font-weight="normal" >ANC off</text>
<text x="769.10" y="933.70" font-family="'Liberation Sans', Arial, Helvetica, sans-serif" font-size="22.3" fill="#000" text-anchor="start" font-weight="normal" >ANC on</text>
<text x="498.60" y="848.20" font-family="'Liberation Sans', Arial, Helvetica, sans-serif" font-size="33" fill="#000" text-anchor="middle" font-weight="normal" >N=40</text>
<text x="498.90" y="1525.30" font-family="'Liberation Sans', Arial, Helvetica, sans-serif" font-size="27.8" fill="#262626" text-anchor="middle" font-weight="normal" >Frequency(Hz)</text>
<text transform="translate(41.20 1160.00) rotate(-90)" x="0" y="0" font-family="'Liberation Sans', Arial, Helvetica, sans-serif" font-size="28" fill="#262626" text-anchor="middle">Power/Frequency (dB/Hz)</text>
<text x="460.00" y="792.50" font-family="'Liberation Serif', 'Times New Roman', serif" font-size="43.5" letter-spacing="-0.6" fill="#000" text-anchor="middle">(<tspan font-weight="bold">a</tspan>)</text>
<text x="1415.50" y="792.50" font-family="'Liberation Serif', 'Times New Roman', serif" font-size="43.5" letter-spacing="-0.6" fill="#000" text-anchor="middle">(<tspan font-weight="bold">b</tspan>)</text>
<text x="460.00" y="1592.70" font-family="'Liberation Serif', 'Times New Roman', serif" font-size="43.5" letter-spacing="-0.6" fill="#000" text-anchor="middle">(<tspan font-weight="bold">c</tspan>)</text>
<text x="1415.50" y="1592.70" font-family="'Liberation Serif', 'Times New Roman', serif" font-size="43.5" letter-spacing="-0.6" fill="#000" text-anchor="middle">(<tspan font-weight="bold">d</tspan>)</text>
<path d="M1210.24 834.30V1452.90M1367.08 834.30V1452.90M1523.92 834.30V1452.90M1680.76 834.30V1452.90M1053.40 1329.18H1837.60M1053.40 1205.46H1837.60M1053.40 1081.74H1837.60M1053.40 958.02H1837.60" stroke="#dcdcdc" stroke-width="1.3" fill="none"/>
<path d="M1053.40 834.30H1837.60V1452.90H1053.40ZM1053.40 1452.90v-7.00M1053.40 834.30v7.00M1210.24 1452.90v-7.00M1210.24 834.30v7.00M1367.08 1452.90v-7.00M1367.08 834.30v7.00M1523.92 1452.90v-7.00M1523.92 834.30v7.00M1680.76 1452.90v-7.00M1680.76 834.30v7.00M1837.60 1452.90v-7.00M1837.60 834.30v7.00M1053.40 1452.90h7.00M1837.60 1452.90h-7.00M1053.40 1329.18h7.00M1837.60 1329.18h-7.00M1053.40 1205.46h7.00M1837.60 1205.46h-7.00M1053.40 1081.74h7.00M1837.60 1081.74h-7.00M1053.40 958.02h7.00M1837.60 958.02h-7.00M1053.40 834.30h7.00M1837.60 834.30h-7.00" stroke="#333333" stroke-width="1.7" fill="none" stroke-linecap="square"/>
<clipPath id="c7"><rect x="1052.40" y="833.30" width="786.20" height="620.60"/></clipPath>
<g clip-path="url(#c7)">
<path transform="scale(0.1)" d="M10534 10817l5 0 1 0 10 0 0 0 10 0 1 0 8 0 1 0 9 0 1 0 10 0 0 0 10 0 1 0 8 0 1 0 9 0 1 0 10-1347 0 10 1 13 9-75 1 23 7 28 0-71 1 16 1 42 9-534 1-23 2 30 8-99 0 71 9-162 1 69 1-13 6-92 2 43 1-56 2 64 7-109 1 15 4 19 3-83 3 48 0-31 1 65 8-90 1 3 1 11 2-40 3 47 3-14 1 13 7-74 2 24 1-13 4 38 4-79 2 35 0 3 4-39 3 76 3-41 1-6 7 36 0-52 1 44 1-45 6-14 3 72 1-15 3 42 2-93 5 43 0 27 7 8 1-63 2 15 1 2 0-3 7 68 1-31 1 14 6-18 2 26 1-20 1 13 3 54 2-81 5 46 0-21 5 32 2-49 3 23 1-1 2-13 6 71 1-67 8 57 1-30 1-6 8 75 2-38 0-2 3-15 1 60 6-27 1-36 8 76 1-29 3-25 1 58 5-20 1-27 3 72 7-5 0-25 7-10 1 61 2-49 1-21 7 112 1-60 1-3 7-15 2 68 1-72 6 91 4-39 0-16 1-4 6 79 3-43 1 15 1 32 3-65 4 55 1-17 6 84 1-92 2 36 1 9 5-36 4 87 1-59 0 34 6-31 1 40 3-8 1-19 4-18 3 71 1-10 1-9 6-40 3 100 1-58 4-19 5 79 1-69 0 57 5-69 2 106 3-50 1-8 2 62 3-63 3 26 1-3 2-13 3 82 4-25 1-8 4-28 3 66 3-30 0 10 4 42 1-56 5 34 1-12 4-29 3 70 2-4 1-24 4-14 2 54 2-29 1-28 10 70 0-15 4-42 6 73 1-34 4-19 4 57 1-28 1 59 4-57 4 31 1-9 3 67 7-81 0 44 2-32 2 61 6-2 1-24 3-53 0 85 6-13 1 5 3-49 5 82 1-11 2-43 8 82 0-30 6-36 1 79 3-30 1 5 4 31 4-75 1 41 1 29 3 32 3-102 2 59 1 13 3-25 1 54 6-16 0-20 3 57 4-67 3 36 1 12 1-39 5 56 3-6 1 36 4-68 4 62 1 34 5-78 5 8 0 33 4-49 5 65 1-18 1-16 2-8 1 64 6-35 1-22 2 45 6-1 1-22 4 69 1-71 5 22 0-22 5 64 5-34 1-35 3 79 6-40 1-27 1 55 7-35 1-7 2 46 8-5 0 0 5-31 2 71 3-14 1 12 7-50 2 1 1 20 1-46 7 75 1-35 6-11 3 73 1-27 0-17 5-21 1 72 4-30 1 10 4 13 3-42 2 1 1 40 2-57 4 79 2-51 1 34 2-49 6 63 2-23 0-11 7-15 3 67 1-42 0-15 7 69 2-31 1-4 4 36 4-61 1 43 3-38 2 50 5-40 0 4 6 92 4-67 1 12 5 32 2-65 2 52 1-12 1-19 2 52 5-32 1-9 6 33 4-45 0 34 3-26 3 52 4-11 1-9 5 21 2-54 2 27 1 21 2-31 6 9 1 35 3 14 6-84 1 75 0-27 5-24 1 60 4-35 1-32 6 65 3-32 1-7 3-20 1 52 4-45 1 27 3 53 2-70 5 31 0-18 6-13 1 55 3-30 1 3 0-48 4 88 5-42 1 40 7-65 1 76 1-23 6-21 3 47 1-4 0-15 2 12 2-68 6 61 1-22 1-13 2 45 6-2 1-44 0 54 4-67 4 32 1 0 3 50 3-80 4 43 0 8 3-39 4 72 3-48 1 6 4-21 3 75 2-10 1-1 2-68 2 88 4-67 1 36 6 32 4-76 0 27 4-20 4 68 2-51 0 1 3-36 1 82 6-37 1-2 2-53 2 100 4-72 1 64 5-72 1 74 4-39 0 16 5-36 4 61 1-33 0 11 3-27 6 36 1-15 1 1 2-48 1 79 5-48 1 4 5 51 2-56 3 9 0-2 9-20 1 69 0-8 6-63 4 4 1 36 0 10 6-33 2 12 1 27 3 31 5-106 1 43 1 3 5-24 2 80 3-22 0-54 3 63 7-22 1-18 6 41 2-50 0 31 1-5 4 22 2-61 3 16 1 39 7-63 0 77 3-31 0 9 4 17 3-44 3 3 1 53 8-71 1 50 2 13 4-64 3 54 1 5 3 8 3-58 4 21 0 21 4-42 4 80 2-48 1 10 3-37 4 80 1-37 1-24 2-14 5 64 2-49 1 39 7 21 1-64 2 15 0 17 1-37 7 55 2-39 1 51 4-70 4 14 1 9 2 55 1-79 6 59 1-4 7 41 0-82 3 24 0 2 5-46 3 62 2-17 1 9 2-31 3 52 3 0 1-20 1 37 6-56 2 23 1-17 7 74 1-83 2 15 0 18 9-35 1 64 1-29 3 29 2-58 3 26 1 17 3-54 3 61 3-49 1 16 3 45 5-86 2 54 0-42 7-9 3 106 1-60 4 33 3-59 1 34 1 9 1-42 3 70 5-37 1-14 6 70 3-95 1 35 0 16 4 24 3-50 3 31 1-17 1-7 6 43 1-19 1-28 5 37 4-72 0 13 1 57 3 22 3-79 4 24 0-35 9 78 1-35 1 5 7 56 0-64 1 31 1 15 2-56 5 80 2-52 1-5 7-19 2 67 1-38 0-23 3 68 1-88 6 58 1 23 3-65 5 31 1-44 7 60 2-35 1 21 9-49 1 79 0-20 4-34 2 57 4-40 1 7 3 28 4-65 1 35 1 1 1 29 1-84 7 44 1 5 1-8 5 65 4-51 0 43 5-78 5 26 1 42 5-64 3 89 1-25 2-48 0 65 7-65 1 32 3-43 7 80 0-52 6 51 1-73 3 38 1-29 2 61 3-78 3 64 1-20 8 39 1-65 0 23 1-3 2-12 5 51 3-17 0-56 5 84 5-70 1 14 7-25 1 83 1 3 1-56 8 5 1 77 6-99 4 45 0 17 8-60 2 4 1 23 0 36 5-81 3 25 1 6 1 47 8-79 1 38 2 36 6-62 2 6 0 6 1-12 5 75 4-57 1 11 4-10 3 42 2-1 1-14 5-41 3 67 0-46 1-3 7 50 3-46 0 15 4 31 1-96 5 64 1 18 0 21 7-62 2 37 1-51 2-4 6 99 1-38 2-84 6 91 2-10 0-4 3 16 2-57 5 31 1 22 6 8 3-54 1 46 1 27 1-61 6 1 1 16 1-55 5 100 4-34 0-18 4 32 2-52 4 30 1 7 3-25 0 54 6-35 1 12 1 5 7-65 0 41 1 9 4-45 2 57 4-20 0-20 2-10 3 63 5-57 1 32 1 46 1-90 7 31 1 46 5-97 3 46 1 54 1-55 9 32 0-3 2-48 8 60 1-24 4 41 5-52 1 6 5-39 1 77 2-38 1 8 2 32 1-68 7 28 0 34 6-67 4 53 1-21 1 41 7-57 1 31 1 23 6-61 2 45 1-9 1-27 2 82 7-70 0-2 1-5 6 69 3-56 1-11 4 35 4-43 1 6 1 33 1 10 3-48 4 38 1-23 8 37 2-64 0 38 3-33 5 82 2-53 1-5 3 47 3-68 3 60 1-33 2 48 5-60 1 42 1-29 6 22 4-52 0 56 3-37 3 54 4-51 1 15 1 23 7-42 1 39 1-35 2-18 4 62 2-58 1 18 1 66 6-77 3 31 0-12 2-13 4 54 4-17 1 1 1 32 6-84 2 48 1 13 8-52 1 15 3-6 3 30 4-29 0 20 8-27 1 43 1-34 1 42 3 25 1-56 5 25 1-36 4-16 0 64 4-58 1-10 4-2 2 66 4-29 0 11 7 29 1-65 2 14 1 24 5-27 2 50 2-32 1-8 4 35 0-56 4 31 1-14 6 65 4-71 0 14 1-26 7 63 2-26 1-34 4 96 5-96 1 44 0-40 7 52 1-7 1-23 2 46 4-72 4 22 0 46 5-66 5 56 1-7 2 17 2-55 5 8 1 6 3 41 1-60 4 36 1 25 4-54 6 13 0 37 7-46 2 84 1-56 0 14 6 20 3-91 1 38 1 36 2 8 3-74 3 70 1-18 2 27 1-49 7 47 0 9 2 7 2-78 6 41 0-5 4-35 4 89 2-68 1 5 6 41 1-63 1 53 1 22 10-80 0 37 6 25 1-44 3 23 0-6 2 38 8-70 1 34 1-21 4 54 3-48 1-11 2-10 4 104 4-60 0 7 4-27 1 59 5-47 0-6 8-27 0 82 2-18 1-19 4-48 0 94 4-78 1 2 6 52 3-13 1-21 4-27 3 66 3-43 0 14 1-52 6 96 3-31 1-50 6 40 2-25 1 29 5-40 4 99 0-70 1 7 4 35 4-73 2 48 0-12 4 27 3-61 3 19 1 41 1-59 2 70 5-37 1 16 3 18 6-73 0 5 1 64 5-55 3 58 2-37 0 25 1-43 3 53 6-41 1 35 0 28 7-71 1 34 1-35 3 59 6-18 1-14 3 30 3-62 4 23 0 3 1 40 8-45 1 21 1 20 6 3 1-54 1 25 1-20 6 45 1-67 2 19 1 48 3-55 3 62 4-20 0-34 1 51 1-62 8 38 1-7 4-2 4 55 1-66 6-29 3 74 1-4 3-69 4 80 3-41 0 4 4-9 2 38 4-19 1 4 5-43 3 75 1-50 5 50 1-63 3 31 1-22 4-5 4 48 2-8 0 14 4 22 6-71 1 16 3 54 5-57 1 20 2 24 7-67 0 44 1-31 4 40 6-10 0-6 7 65 3-116 1 63 4 25 4-61 1 27 3-22 6 73 0-65 1 17 4 23 2-57 4 3 0 11 6 66 1-95 3 46 1 33 1-64 7 59 1 17 6-62 2 71 1-26 1-41 4 62 3-95 3 41 0 45 2-48 8 1 1-5 7-8 1 50 1-59 2-15 2 87 5-51 1 50 6-66 2 71 2-9 0-31 7 30 3-78 1 72 4-55 4 66 1-21 5 38 1-66 3 24 1 0 1-35 5 65 4-40 0 23 4 17 3-62 3 18 1 23 4 11 0-80 4 39 1 29 1-21 8 37 0-8 1-8 5 4 1-44 4 8 0 35 5 24 5-44 1-9 3-2 5 71 1-32 2 30 0-75 7 30 1-27 6 69 4-24 0-1 2-33 4 44 4-5 1 2 3 22 1-71 4 34 1-9 5 58 4-73 1 25 3 9 3-51 4 44 0 19 2-58 8 26 1 11 7-23 0 60 2-35 1-21 2 55 6-62 1 39 3 18 0-51 7 48 0-51 4 82 4-97 2 55 1-16 0 31 1-56 8 17 1 16 1-49 3 72 4-3 1-39 5 54 5-41 0 1 4 19 4-41 2 10 1 21 2 11 4-67 3 66 1 19 1-75 7 58 1-39 9-5 1 93 0-89 4-15 4 78 2-68 1 16 5-30 2 62 2-7 1-24 4 51 4-42 1 4 6 28 3-55 1 14 0-11 6 71 4-31 1-33 3 54 5-64 1 39 1 8 3 20 5-77 1 20 4-17 1 65 5-49 0-3 5 52 3-67 2 32 1 16 6 40 2-82 1 58 1-27 1-15 5 59 2-54 1 10 6 47 2-106 2 82 0-30 3 81 2-90 5 36 1-18 1 18 2-40 6 17 1-20 5 87 3-39 1 32 3-77 7 23 0 5 6-38 1 91 3-82 1 24 1 34 4-63 4 60 1-27 1-37 4 68 3-10 1 8 1-87 1 104 8-57 0 6 7-16 1 74 2-58 1 10 7 36 2-60 1 18 3-16 2 67 3-2 1-44 5 37 1-58 4 44 0-14 3 28 4-57 3 2 1 2 7-1 1 59 1-55 1 20 3-31 3 95 2-48 1-10 2-37 8 83 0 7 2-89 8 11 1 37 7 34 0-96 2 12 1 70 1 6 5-80 2 36 1-9 2 37 2-76 6 34 0 16 6-29 1 78 3-37 1 30 2 2 7-61 1 43 6-55 2 67 1-27 5-31 5 59 0-12 5 18 5-64 1 47 3 1 2-77 4 63 1-40 7 67 1-7 1 4 3-63 2 63 5-17 0-18 4-25 5 63 1-30 1 21 2 27 7-86 1 48 0 7 8-51 1 48 1 41 5-76 4 51 0 0 3-57 6 71 1-40 1-13 2 51 2-51 5 3 1 15 4 37 2-81 2 35 1 17 1-60 9 88 0-64 7 77 3-35 1-40 3 72 4-89 2 15 1 66 3-87 5 64 1-12 2-27 7 76 1-40 0-14 1 48 7-79 2 23 0-15 6-7 3 75 1-34 1 0 1-55 4 81 3-35 1 0 7 49 1-78 2 49 0 1 5-79 3 115 2-43 0-2 7-33 1 48 2-45 1 74 1-97 7 80 1-54 6-7 4 65 0-35 1-31 9 81 0-37 6-50 3 72 1-9 1-44 4 60 2-91 2 63 1-17 6 41 3-74 1 52 7 14 2-68 1 29 0-5 4 47 2-61 4 33 1-8 0 34 8-71 1 3 7 73 2-54 1-6 1 55 9-67 0 45 4 15 4-47 2 7 1 1 3 45 5-36 1-12 2 41 5-46 2 14 1 13 3 31 1-54 6 42 0-41 7-44 1 94 2-21 1-30 0-26 2 68 6-59 1 45 2 11 0-55 7 2 1 8 7-11 0 60 3-45 0 29 4-64 6 14 1 56 0-41 6 46 2-22 1 51 1-90 8 11 1 17 6 15 4-41 0 6 1 46 5-59 4 22 1 58 6-75 2 16 1 14 2-14 4 47 3-16 1-3 3-27 0 51 7-2 0-27 8-11 0 56 2-50 1-28 0 75 8-21 1-14 9 17 0-38 1 39 1-38 5 59 4-35 0 41 10-54 1 12 7 47 1-23 1-30 6-8 0 71 3-50 1 16 3-10 4 40 3-31 0-18 8-22 1 54 1-20 1 3 0-28 7 60 1-16 1 0 6 17 3-96 0 81 1-12 3 28 2-84 5 55 0-11 3-12 4 67 3-4 1-19 1-41 1 53 6-14 1-42 8 82 1-42 1-11 1 37 9-18 0-3 4 25 3-52 3 47 1-14 0-31 4 66 4-54 1 21 1-52 1 92 7-7 1-48 3-28 3 87 4-37 0 14 3-28 5 37 2-30 1-20 2-16 2 92 4-49 1-11 2 28 6-51 1 46 1-6 4-24 2 55 4-31 0 9 2-35 3 52 5-48 1-15 0 69 8-55 1 61 2-92 7 98 0-48 1 10 1 12 6-44 3 6 0-12 8 70 2-44 1 13 2-51 4 56 2-19 1-4 3-32 6 96 1-48 5-46 5 84 0-33 4 19 6-72 1-2 2 66 1-87 5 36 1 15 2-57 1 107 6-6 1-8 3-48 7 8 0 26 1 15 4-58 5 32 1 14 5-61 1 66 2-23 1 10 1-69 2 93 6-26 1-27 3 40 4-52 3 4 0 31 4 39 6-87 1 45 6 40 1-76 2 50 1-14 4-27 1 55 3-8 1-11 3 10 3-58 4 2 0 40 1-21 3 36 6-12 1-13 3 54 1-68 5 41 1-39 1 29 1-68 6 27 1 32 1-35 2 73 7-34 0-36 6 44 4-51 1 39 6-32 2 83 1-59 1 2 1-45 0 65 7-3 1-28 3-18 3 55 4-36 0 50 10-88 1 64 1 4 2-57 6 32 1-11 4-13 4 62 0-43 1 34 7-65 3 28 0 9 1 41 9-64 1-7 3-4 6 79 1-35 2 27 2-46 4 8 1 28 2-67 6 81 2-18 0-8 4-53 3 95 3-42 1-35 1 47 8-5 1 2 5 1 3-32 1-22 6 62 4-44 0 35 2-48 6 69 2-25 1-2 1 24 5-59 3 36 1 43 4 16 3-97 1 55 1-25 4-12 6 39 0-8 2-54 5 80 3-44 1-25 3 91 0-109 6 23 1 10 5 37 2-64 1 40 1 9 3 7 3-47 4 46 0-17 3-27 3 51 4-8 1-11 2-74 1 114 6-53 1 22 5 38 2-75 1 22 1-15 5 59 5-84 0 29 5-6 2 52 3-34 1 7 5-31 3 60 1-51 1 16 5 43 3-72 0 18 1 14 1 55 2-85 7 34 0-3 1 54 2-110 7 43 1 26 1-27 8 54 1-46 6-30 2 71 0-22 1-41 4 61 4-69 2 61 0-23 3 23 1-48 6 5 1 41 0 32 8-93 1 24 1 21 1-34 0 46 7-23 1 4 2-32 1 68 7-56 0 4 3 59 4-80 3 40 1 21 6-50 3 60 1-8 3-56 3 70 2-19 1-11 2-44 3 72 5-11 0 15 3 14 5-97 2 16 1 39 6 30 1-50 2 23 1-30 2 44 6-26 1 11 2 19 0-48 8 25 0 13 1-45 8 64 1-25 1 20 1-76 7 84 1-51 1-5 2 47 3-59 3 22 1-22 6 53 2-54 2 22 0 30 6 31 3-62 1 31 0 11 3 11 3-93 4 63 1-12 4 19 3-55 1 49 1-57 2 103 8-61 0 5 2 34 1-64 7 23 0 41 4-67 6 34 1 24 1-70 4 83 3-28 1-8 2 25 1-62 7 52 0-46 2 68 8-31 0-16 3 34 7-66 1 48 2 21 1-58 5 11 1 24 3-23 7 57 0-17 3-59 7 39 0-7 2 38 7-58 1 50 1-49 4 73 3-73 1 21 1 33 3-90 6 41 1 35 6 10 1-66 3 34 0-25 7 65 3-48 1 29 1 38 7-65 0 40 1-48 6-8 3 59 0-23 1 25 6-59 4 46 0 8 10-39 1 78 2-90 6 75 1-64 6 63 2-84 1 69 1-1 5 7 1-74 4 53 0-6 1-46 3 96 6-46 1 11 4-29 1 52 3-51 1 15 8-35 1 81 1-23 7-69 3 63 0-14 6 44 2-94 2 43 1-5 2 39 2-65 4 57 1-10 4-39 2 46 3-24 1 0 2-44 5 70 3-37 0-1 6 28 3-61 1 40 1-14 1-51 7 95 1-36 1 19 1-47 7 2 1 50 6 17 1-71 3 51 0-37 4 47 1-68 5 33 1-3 0-11 8 39 1 15 6-67 3 54 1 4 7-52 3 30 0 2 5-49 5 50 1 19 7-67 1 16 1 42 3 1 6-53 1 25 2-30 1 46 7-3 0-6 7-37 1 71 2-16 1-11 0-35 2 59 6-42 1 27 1-47 8 55 1-26 3 31 6-53 1 11 0 7 7-15 3 57 1-54 5-26 3 81 1-49 2 49 6-51 1 1 1-16 7 58 3-67 0 26 1 50 9-63 1 4 4 54 4-14 1 10 1 28 2-63 6 5 1 19 2-55 2 92 6-38 0 12 6 19 3-58 1 53 1-7 6 28 2-61 1 31 1 7 8-72 1 99 7-71 3 31 0 28 7 16 3-72 1 58 0-64 3 72 5-41 1 2 3-18 2 70 4-55 1-17 6-3 2 54 2-9 0-12 6-46 3 83 1-16 1-58 5 49 3-26 1 4 1 72 6-89 2 38 1 19 2-48 2 64 6-25 0-33 3-1 7 68 1-19 2-52 2 58 4-57 1 40 2-53 3 93 4-28 1-40 3 69 6-86 1 76 0-63 4 60 6-30 1 25 1 3 7-57 1 33 1 20 5 7 2-61 1 41 1-15 6-35 3 68 1-55 0 21 3-36 7 74 1-13 8-63 1 108 1-33 1 11 6-82 1 1 1 64 3-45 7 14 0-4 4 51 6-74 1 84 2-102 7 42 1 51 7 11 1-101 1 33 9 55 1-23 0-6 3 7 7-33 1 62 7-67 2 7 1 24 2 37 2-72 4 16 1 2 1 42 3-57 6 17 0 17 7-35 3 82 1-51 0-25 1 64 8-57 1 14 4 34 4-35 0 3 1 17 4-72 5 89 1-19 0 8 3-56 7 41 1-3 3 27 5-61 1 48 1 0 1-51 1 61 6-29 1-13 6 55 2-68 2 40 0-10 2 57 5-70 3 22 1-14 0-23 3 100 6-85 1 31 3-32 1 62 4-37 1-27 2-4 6 63 2-33 0-3 1 22 6-47 3 41 1-33 2-47 7 83 1-26 1 30 2-56 5 11 1 49 6-34 4 42 0-30 3-21 4 39 3-29 1 24 0-48 7 69 2-17 1-18 2-26 5 74 1-45 1-4 3 45 5-75 2 46 0-34 3-2 0 53 7-28 1-13 0-22 5 71 4-25 1-51 1 69 7-15 1-3 2 26 0-90 8 84 0-19 3 25 4-58 3 32 1 5 1 14 5-33 3 12 1-20 1 34 0-59 7 33 1 15 3-31 7 71 0-28 3-43 4 76 3-46 1 6 3 23 3-52 3 12 1 17 8-61 0 78 1-45 6 81 4-34 0-70 3 72 7-42 1-4 3-35 4 66 2-11 1-26 3 42 2-63 3 24 1 15 4 30 4-54 2 18 0-17 4-19 5 68 1-11 1-19 3 51 3-67 3 13 1-36 7 81 1-90 0 64 1-10 2-53 2 83 6-47 0 39 3-56 2 64 5-15 1-29 2-32 4 104 3-71 1 25 5-65 3 81 0-23 1-5 5 10 1-41 4 32 0 14 2-58 1 63 7-28 1-29 2 62 7-17 1-38 2 70 6-51 1 15 2-35 2 58 6-9 0-54 4 67 6-26 0 41 3-93 7 36 1 26 4-41 0 51 4-42 1 13 5 12 3-53 2 31 0 44 3-67 7 39 0 25 7-70 3 42 1 16 5 4 1-64 2 14 1 52 5-69 5 52 0 36 6-79 4 47 0 3 4 24 5-82 1 31 1 28 5 31 3-72 1 54 6-52 1 71 2-28 1-34 9-16 1 51 0-4 1-56 3 84 6-61 1 34 4-50 2 59 2-14 1 1 1-63 1 83 7-42 1 33 2-53 8 11 0 30 3 12 7-37 1 19 0-41 5 74 3-42 1 12 2-44 3 58 4-20 1 6 2 30 1-62 7 37 0-11 1 9 5-47 4 23 1 26 4 3 0-44 4 9 1 80 2-98 7 41 1 4 3 32 1-75 6 32 0-2 3-35 1 111 6-58 1 3 5-58 1 62 2-16 1 13 6 40 1-69 2 35 1-5 3-29 7 52 0-26 5 14 2-61 3 42 1-42 1 71 7-49 1-1 2 59 2-71 5 8 1-42 4 80 6-45 0 31 1 7 9-57 1 46 2-36 4 61 2-18 1-41 1 69 5-83 3 51 1 1 6-40 2 59 2-57 0 49 6-53 1 55 3-33 1 29 4 45 2-95 2 33 1 5 6 35 3-58 0 12 1 3 1 46 6-78 3 59 0 11 7-60 3 49 1-71 2 92 6-32 1-13 6-28 3 61 0-27 1 32 8 4 1-54 1 37 0-20 1-23 3 51 6-19 1 11 0-48 3 84 5-71 1 25 1-32 8 57 0-42 1-8 7 68 3-5 0-27 1-26 6 60 3-41 1-26 1-8 3 81 4-39 1 3 6-61 0 100 3-56 1 24 3-52 3 56 4-16 0-10 1-19 8 49 1-36 1 27 2-53 6 37 1-6 6-17 3 75 0-60 1 16 2-29 1 54 7-53 0 4 2-22 5 63 3-23 1-3 1 18 7-48 1 31 6 39 2-68 1 48 1-23 3 50 1-67 6 10 0 46 4-62 6 29 1 3 3 48 4-68 1 10 1 36 6 16 2-63 1 53 1 21 5-98 5 26 0 32 4 7 5-33 1 32 1-33 0 68 4-74 4 20 1 13 7-33 2 56 1 12 6-68 3 73 1-23 0-13 6 18 1-51 3 35 1-10 2 20 3-51 3 36 1-28 2-2 2 64 5-57 1-17 4 71 6-6 0-25 6 42 2-84 2 63 1 30 8-87 1 33 1-25 8 49 0-1 1-15 1-41 7 78 2-8 0-49 1 52 6-68 3 42 1-35 6 55 3-56 1 19 1 36 1-47 6 17 1-6 3-20 2 66 5-2 0-20 4-51 4 66 2-33 1-11 1-13 8 57 1-34 7 21 1-62 0 42 1 0 8-58 2 93 0-34 3-47 4 64 3-22 1-35 6-4 2 74 1-1 1-8 4-52 4 37 1 2 2-79 7 107 1-25 0 5 1 31 5-72 4 41 1-43 4-8 3 53 2-9 1-38 4 78 2-99 2 50 1 40 10-64 0 46 5 14 5-71 1 8 2 64 7-2 1-15 1-31 7 44 0-15 1-16 1-30 1 44 8-37 0 31 2-30 7 79 1-41 1 17 7-48 2 57 1-47 6 32 2-76 0 34 1-18 7 55 3-35 0-18 3-4 7 65 1-42 0-27 4 63 5-3 1-44 5 54 3-57 1 42 3-43 1 54 6-11 0-2 2-60 2 67 6-12 1 11 1 21 5-58 3 27 1 11 2-56 6 70 0-7 1-20 5-34 2 51 3-29 0 26 3-43 6 48 1-1 1-39 4 34 3-63 2 54 1-36 1 57 7-58 1 32 1 17 7-58 2 36 0 23 6 14 3-100 1 58 1-13 6 41 3-82 1-1 7-9 1 105 1-53 1-23 1 64 8-56 0 37 2-63 2 74 6-25 1-18 2 51 5-69 2 2 1 22 5 58 3-97 0 68 1 1 3-66 7 4 0 37 2 28 8-89 1 30 2 34 1-58 6 53 1-26 1-17 3 63 4-28 1-13 4-29 5 83 1-63 0 9 4-20 4 72 2-30 1-22 0 21 1-39 4 16" fill="none" stroke="#0000ff" stroke-width="52" stroke-linejoin="round" />
<path transform="scale(0.1)" d="M10534 10817l6 0 7 0 6 0 6 0 6 0 7 0 6 0 6 0 6 0 7 0 6 0 6 0 7 0 6 0 6-1316 6 7 7-49 6-36 6-105 6-318 7-29 6-49 6-35 7-68 6-51 6-39 6 12 7-27 6-43 6-27 6-31 7 29 6 10 6-25 7-51 6 6 6 30 6-43 7 11 6 29 6 8 6-4 7 7 6 25 6 18 7-1 6-8 6 29 6 29 7-17 6 25 6 39 7-9 6 22 6 27 6 11 7 0 6-9 6 30 6 21 7 29 6 6 6 20 7-3 6 27 6 20 6 12 7 12 6 76 6 32 6 21 7 32 6 27 6 34 7 11 6 13 6 34 6 16 7 27 6 68 6-1 6 53 7 2 6 12 6 43 7 29 6 19 6 27 6 31 7 14 6 24 6 13 6 31 7 29 6 25 6 29 7 8 6 13 6 36 6 29 7 48 6 61 6 8 6 13 7 33 6 11 6 16 7 52 6 50 6-6 6 25 7 34 6 45 6 18 6 14 7 54 6 17 6 8 7 65 6 25 6 35 6 47 7 34 6 62 6 31 6 41 7 49 6 40 6 30 7-5 6 55 6 12 6 33 7 34 6 56 6 3 6 36 7 30 6 50 6 38 7-2 6 59 6 56 6 19 7-1 6 56 6 34 6 28 7 23 6 61 6 15 7 22 6 23 6 46 6 64 7-3 6 27 6 33 7 35 6 1 6 34 6 33 7 19 6 7 6 13 6 17 7 34 6 41 6 0 7 16 6-20 6 41 6 21 7 11 6 5 6 18 6 26 7-2 6 24 6 34 7 8 6 37 6 14 6-8 7 11 6 11 6 1 6 20 7 47 6-9 6 19 7-13 6 19 6 17 6 13 7 11 6 13 6-13 6 20 7 15 6 3 6 18 7 19 6 26 6 23 6 15 7 2 6 23 6 22 6-13 7 22 6 25 6 27 7 23 6 14 6 13 6 16 7 19 6 9 6 3 6-21 7 28 6-16 6-16 7 4 6 9 6-3 6-8 7-8 6-7 6 3 6 1 7-36 6 29 6 25 7 16 6-7 6 10 6-8 7 40 6 19 6 2 6 4 7 11 6-15 6 15 7 16 6 4 6 29 6-6 7-22 6 25 6 54 6-16 7 18 6 2 6 39 7 9 6-5 6 30 6-15 7 8 6 33 6-13 7 38 6-1 6 34 6-11 7 4 6 15 6 7 6-7 7 13 6-20 6 7 7 25 6-33 6-3 6 5 7-2 6 4 6-22 6 1 7 27 6-9 6-17 7 10 6 4 6-12 6-18 7 7 6 31 6-15 6-13 7 1 6 4 6-20 7 4 6-12 6 2 6 21 7 7 6 17 6-2 6-5 7 19 6 20 6 34 7 4 6-25 6 1 6 35 7-12 6-9 6 18 6-22 7 26 6 3 6 32 7 24 6-13 6 22 6-14 7-1 6 7 6-8 6 11 7-7 6 3 6-39 7 8 6 17 6-14 6-26 7 1 6 24 6-1 6-30 7 10 6-5 6-24 7-18 6 1 6 1 6 2 7 6 6-15 6-8 6-11 7 11 6 15 6-32 7-1 6 36 6-4 6 20 7-18 6 28 6 19 6-12 7-4 6 7 6-1 7 21 6 7 6 24 6-49 7 11 6 26 6 17 7 11 6-30 6 22 6-7 7-12 6 18 6-2 6-28 7-12 6-24 6-3 7 40 6-25 6-6 6-11 7 3 6 1 6 14 6-30 7-12 6 22 6-38 7 13 6-16 6-10 6 25 7-19 6-15 6 12 6-37 7 29 6-1 6-7 7 11 6 35 6 8 6 11 7-5 6-6 6-12 6 9 7 7 6 21 6 5 7-9 6 9 6 5 6 10 7-2 6 55 6-2 6-7 7 3 6-13 6 2 7 4 6-1 6-6 6-2 7-11 6-19 6 14 6-7 7-26 6-11 6 4 7 11 6-17 6-26 6 2 7-10 6-11 6 20 6-33 7-9 6-5 6 14 7-22 6 32 6-8 6-23 7 6 6 18 6 2 6-33 7-20 6 32 6 6 7-27 6 17 6 4 6-4 7 9 6-12 6-9 6 1 7-13 6-22 6 9 7 25 6 9 6 2 6 15 7-9 6 28 6 2 7 4 6 49 6 6 6-56 7 18 6 29 6 7 6 13 7 28 6-3 6-7 7 25 6 0 6 17 6-1 7-8 6-4 6 44 6-24 7 14 6 1 6-16 7-8 6-19 6 13 6-4 7 2 6 4 6 20 6-8 7-31 6 12 6 4 7 6 6 1 6-18 6-5 7 45 6-16 6-34 6 23 7-18 6 7 6 32 7-17 6 0 6 11 6-37 7 9 6 22 6-16 6 4 7 13 6-14 6 1 7-35 6 20 6 16 6-5 7-6 6 20 6 9 6 3 7 17 6-21 6-8 7 59 6-7 6-13 6 27 7 6 6 12 6 15 6-36 7 8 6 11 6-20 7 36 6-4 6-3 6 0 7-5 6 23 6-12 6 7 7-11 6 20 6 5 7-20 6 6 6 34 6 24 7-4 6-28 6 5 6-5 7 2 6 21 6-10 7 5 6 8 6 3 6 6 7 16 6-19 6 14 7 15 6-4 6-12 6 46 7 16 6 4 6-34 6 6 7-39 6-39 6 4 7-12 6 12 6-16 6-29 7 17 6-9 6-16 6 17 7-17 6 8 6-15 7-35 6-21 6 4 6 0 7-6 6-9 6 2 6-1 7-21 6-29 6 2 7-4 6 6 6-16 6-12 7 8 6-18 6-14 6 10 7 27 6 0 6-27 7 38 6-9 6 13 6-26 7 29 6-13 6 21 6-31 7-12 6 26 6 7 7-6 6 22 6-1 6 14 7 1 6 27 6-39 6 25 7 15 6-1 6-14 7-5 6-27 6-10 6-10 7-16 6-35 6-21 6-10 7-10 6-12 6-28 7-30 6 19 6-6 6-6 7 32 6-3 6 7 6 13 7-18 6 22 6 5 7 25 6 5 6-15 6-1 7 32 6-14 6-17 7 44 6 41 6-41 6 13 7 24 6-12 6-2 6 16 7 21 6 17 6-34 7 8 6 11 6 18 6-2 7-1 6 28 6 10 6-2 7 3 6 22 6 5 7 9 6-5 6 22 6-13 7-14 6-12 6-24 6-8 7-4 6 1 6-35 7-20 6-17 6-34 6 10 7 27 6 3 6-15 6 15 7-28 6 21 6 23 7-22 6-27 6 15 6 6 7 19 6-43 6 27 6-5 7-7 6 19 6 19 7-10 6-4 6-10 6 24 7 1 6-7 6 9 6-5 7 19 6-15 6-9 7 25 6-13 6-16 6 18 7 12 6-2 6 3 6-19 7 27 6 16 6 38 7 13 6 32 6 17 6 10 7 0 6 21 6 3 6-1 7 30 6-7 6-4 7 10 6 2 6 13 6 8 7 6 6 7 6-3 6 19 7 4 6-1 6 17 7 2 6 13 6-24 6-17 7 13 6 18 6 22 7 3 6-15 6 3 6 11 7-27 6 17 6 3 6-27 7-8 6-10 6 23 7-15 6 13 6 6 6-8 7-13 6-11 6-1 6-36 7 5 6 2 6 25 7 0 6-13 6-39 6 4 7 33 6-17 6 14 6 8 7 3 6 7 6-15 7-24 6-9 6 18 6 30 7-15 6-20 6-4 6 24 7 13 6-19 6-24 7 24 6-18 6-21 6 1 7 35 6 32 6-34 6 2 7-1 6 7 6 5 7 4 6 14 6-7 6-8 7 38 6 14 6-25 6 8 7-10 6-39 6 42 7 6 6-1 6-1 6 25 7 7 6-3 6-25 6-10 7 0 6 8 6 16 7-29 6-4 6 2 6-32 7-24 6 1 6-41 6 25 7 15 6-3 6-27 7-32 6 10 6-6 6-2 7-12 6 43 6-7 6-29 7-3 6-15 6 18 7-8 6-27 6-3 6 19 7 3 6-25 6-26 7 0 6 30 6-19 6-36 7 15 6-5 6 32 6-14 7-17 6 3 6-4 7-12 6 6 6 11 6-15 7-3 6 4 6-28 6 10 7 5 6-27 6-10 7 7 6-7 6-4 6 6 7 7 6 11 6 8 6 15 7 10 6-15 6-2 7 20 6-5 6 32 6 4 7-8 6-23 6 15 6-15 7 29 6-13 6 12 7 7 6-6 6-2 6 18 7-6 6-28 6 16 6-11 7-5 6 14 6 16 7-1 6-1 6-40 6 33 7-37 6-21 6-12 6-37 7 1 6-10 6-18 7-10 6-20 6-26 6-9 7-24 6 12 6-26 6-30 7 1 6-8 6 4 7-8 6 2 6 12 6-4 7-3 6 19 6-4 6-4 7 1 6-22 6-3 7 33 6 4 6-24 6 1 7-15 6 22 6 8 6-1 7 26 6-22 6-24 7 32 6 7 6-2 6 12 7-6 6 15 6-13 7 32 6 1 6 15 6 19 7-26 6 17 6 27 6-9 7 3 6 18 6-29 7-28 6 2 6 11 6-17 7 1 6 17 6 7 6-13 7-42 6 31 6 5 7 6 6-15 6 12 6 4 7 0 6-3 6-32 6 25 7 21 6-25 6-24 7 9 6 25 6-6 6 3 7-26 6 7 6 0 6-21 7-37 6 67 6 18 7-22 6-6 6 9 6 3 7-5 6 3 6 3 6 5 7-20 6 3 6 22 7-5 6 10 6-4 6 2 7 3 6 4 6-33 6 35 7-7 6-32 6 33 7 18 6-14 6 28 6 14 7-8 6 26 6 10 6-23 7 2 6 28 6 21 7 4 6-10 6 11 6-3 7 6 6 18 6-4 6-2 7 1 6 9 6 1 7-33 6 3 6-7 6-4 7-6 6 5 6-9 6 0 7-1 6 23 6-3 7-3 6-24 6 14 6 4 7-3 6-7 6-2 7 14 6 1 6-33 6 11 7-8 6 8 6-35 6-9 7-16 6 9 6-4 7-9 6-12 6-41 6-17 7 20 6 11 6-29 6-16 7-27 6 13 6-19 7-2 6-3 6-9 6 5 7-26 6 6 6 9 6-29 7-6 6 9 6-17 7 8 6-5 6 10 6-11 7-14 6 16 6 24 6-20 7 14 6-18 6-11 7 15 6 5 6-22 6-7 7 16 6-26 6 16 6 0 7-31 6 31 6 14 7-5 6-22 6-1 6 0 7 3 6-10 6 3 6 2 7-21 6 8 6 27 7-16 6 1 6 3 6-5 7-21 6 5 6 30 6-30 7 10 6-1 6-11 7-7 6 16 6 4 6-8 7-6 6 13 6 5 6-9 7-16 6 27 6 22 7 22 6 16 6-17 6-9 7 42 6-5 6 2 6-9 7 19 6 14 6 18 7-3 6-12 6 51 6 3 7 1 6 11 6-1 7-3 6-5 6 14 6-3 7 13 6-12 6-13 6-18 7-20 6 14 6-7 7 22 6-5 6-7 6 14 7-37 6 19 6-13 6 14 7-1 6-30 6-2 7 3 6-5 6-15 6 12 7-4 6-20 6 13 6 5 7-25 6 5 6-3 7 16 6-6 6 3 6-21 7 26 6-9 6-4 6 28 7-3 6 25" fill="none" stroke="#ff0000" stroke-width="46" stroke-linejoin="round" stroke-dasharray="52 30" stroke-linecap="butt"/>
<path transform="scale(0.1)" d="M10534 10817l5 0 4 0 5 0 5 0 5 0 4 0 5 0 5 0 4 0 5 0 5 0 4 0 5 0 5 0 5 0 4 0 5 0 5 0 4 0 5-1345 5-21 5-32 4-39 5-34 5-35 4-139 5-158 5-110 4-16 5-37 5-13 5 11 4 23 5 23 5-6 4 36 5 0 5 32 5-9 4 27 5 21 5 39 4 18 5 24 5 28 4 27 5 24 5 39 5 18 4 19 5 48 5 34 4 11 5 31 5 20 4 57 5 13 5 8 5 44 4 38 5 34 5 18 4 48 5 12 5 34 5 25 4 36 5 41 5 10 4 35 5-4 5 55 4 19 5 19 5 40 5 49 4 10 5 37 5 19 4 63 5-11 5 36 5 42 4 27 5 19 5 17 4 51 5 27 5 28 4 36 5 63 5 19 5 48 4 19 5 51 5 42 4 24 5 23 5 53 5 24 4 51 5 60 5-2 4 23 5 2 5 19 4 4 5 26 5 6 5 33 4 22 5 36 5 48 4 22 5 19 5 30 5 41 4 32 5 28 5 17 4 36 5 23 5 30 4 44 5 8 5 53 5 24 4 23 5 49 5 27 4 30 5 7 5 17 4 22 5 31 5 11 5 33 4 33 5-3 5 22 4 26 5 23 5 28 5-4 4 60 5 23 5 8 4 11 5 30 5 5 4 44 5 10 5 35 5 17 4 11 5 12 5 40 4 6 5-15 5 36 5 10 4 6 5 36 5 5 4 13 5 26 5 14 4 1 5 22 5 27 5 17 4 6 5 21 5 9 4-2 5 2 5 4 5 17 4-8 5 12 5-6 4 35 5-22 5 17 4 16 5-10 5 17 5 8 4-14 5 2 5 32 4-5 5 0 5 1 5 3 4 23 5 16 5 2 4 7 5 10 5-13 4 12 5 7 5 5 5 17 4 19 5-13 5 11 4 19 5-1 5 4 5 11 4-10 5 16 5 26 4 0 5-6 5 29 4-6 5 13 5 6 5-13 4 17 5 14 5-18 4 11 5 17 5-25 4 21 5 0 5-5 5-13 4 41 5 5 5 6 4 14 5 21 5-43 5 39 4-22 5 6 5-3 4 24 5 17 5 14 4 4 5 3 5-13 5 43 4 6 5-70 5-20 4-28 5-17 5-12 5-67 4-37 5-9 5-4 4-38 5-5 5 16 4 18 5-26 5 18 5 17 4 9 5-26 5-1 4 34 5 8 5-12 5 23 4-31 5 11 5 8 4 28 5-17 5 16 4 34 5-23 5 31 5 11 4-2 5 17 5 11 4-4 5 6 5 29 5 8 4 0 5-1 5 13 4 2 5 19 5 17 4 8 5 7 5 15 5 8 4 16 5 8 5 9 4-21 5 3 5-15 4 17 5-31 5 5 5 13 4 19 5-11 5-13 4-5 5-3 5 10 5-9 4 32 5-15 5-12 4-28 5 4 5 12 4 17 5-22 5-11 5 21 4-13 5-1 5 0 4 7 5 18 5-23 5 1 4 3 5 7 5 9 4-2 5 11 5 17 4 1 5 8 5 4 5 2 4 18 5 21 5 3 4-12 5 15 5 14 5 31 4-6 5 15 5-3 4-5 5 20 5 3 4 7 5 20 5 18 5-9 4-2 5 17 5 12 4 10 5-21 5 13 5 32 4-9 5 14 5 12 4 0 5 14 5-7 4 18 5 17 5 9 5-21 4 14 5-3 5 14 4-9 5-36 5 8 5-2 4-4 5-4 5-27 4-13 5-3 5-4 4 5 5-22 5-6 5-1 4 8 5-22 5-32 4 21 5 0 5-25 4 20 5-37 5 5 5-23 4 1 5 1 5-12 4-22 5 39 5-13 5 4 4-19 5 13 5-12 4-8 5 9 5-8 4 7 5-3 5-8 5 15 4 6 5 2 5 9 4-40 5-1 5 24 5-13 4 36 5-18 5-21 4 15 5-14 5 14 4-17 5 19 5 13 5 3 4-7 5 5 5-10 4-2 5-9 5 18 5-23 4 27 5 17 5-32 4-1 5 10 5 8 4-10 5-20 5-4 5-16 4 8 5-27 5-1 4 1 5-21 5 3 5-34 4-13 5-13 5-1 4-25 5-3 5-12 4-29 5 20 5-23 5-16 4-4 5-23 5-2 4 10 5 1 5 1 4-8 5 20 5 9 5 21 4-1 5 28 5-4 4 10 5 31 5-14 5 17 4 29 5 14 5 14 4-13 5 20 5 30 4-14 5 20 5 15 5 20 4-6 5-25 5 1 4-4 5 13 5-14 5-20 4-11 5 23 5-24 4-19 5 15 5-8 4-35 5 9 5 9 5 20 4-10 5 23 5 16 4-5 5-8 5-14 5 7 4 24 5 9 5-15 4 34 5 10 5-9 4-8 5 14 5 19 5-13 4 11 5 12 5-2 4 28 5 7 5-8 5 16 4-6 5 10 5-5 4 21 5-28 5 30 4 5 5-10 5 5 5 33 4-10 5 16 5 24 4 17 5-6 5-4 5-1 4 11 5 28 5 3 4-12 5 1 5 24 4 0 5 20 5 6 5 5 4 29 5-3 5-13 4 12 5 21 5-2 4 0 5 3 5-14 5-10 4-22 5-25 5-8 4-13 5-16 5-17 5 0 4-2 5-22 5-16 4-15 5-19 5-7 4-21 5-23 5-1 5 33 4-50 5 9 5-1 4-3 5-9 5 5 5-23 4 20 5-11 5-15 4-1 5 12 5 1 4 11 5-19 5-15 5-10 4 1 5-4 5-2 4-14 5 19 5 4 5-18 4-12 5 4 5-12 4 9 5-3 5-24 4 23 5-13 5 3 5-29 4 16 5-10 5-17 4-2 5 23 5-12 5-16 4 7 5-11 5-3 4-14 5 11 5 13 4-18 5 5 5-24 5-7 4 26 5-23 5 3 4-10 5 3 5 10 4-26 5-7 5 17 5-9 4 6 5-13 5-3 4 9 5 2 5-6 5 7 4 15 5 1 5 37 4-24 5 21 5-6 4-4 5 9 5-16 5 24 4 35 5-34 5-2 4 9 5 16 5 1 5 16 4-17 5 31 5-5 4 4 5 20 5-11 4-18 5 0 5 3 5-14 4-10 5 7 5-18 4-24 5 13 5-4 5-7 4-28 5-4 5-10 4 16 5 23 5-8 4-3 5-6 5 43 5 6 4 13 5-9 5 33 4-11 5 0 5 9 5-1 4 27 5-4 5 18 4 3 5 3 5 3 4 18 5-6 5 21 5 37 4-8 5-29 5 1 4 42 5 36 5-22 5 16 4 7 5-22 5 26 4-1 5 14 5 4 4 15 5-4 5 7 5-23 4 17 5 8 5-8 4 19 5 21 5 13 4-18 5 3 5 1 5-3 4 17 5 22 5-29 4 19 5 2 5 0 5-12 4 26 5 3 5 6 4 4 5 7 5 3 4-9 5-2 5 9 5 7 4 12 5-4 5 4 4 9 5-7 5 8 5 5 4 18 5 10 5-11 4 19 5-33 5-27 4-35 5 13 5-26 5-13 4-11 5-26 5-36 4-35 5-13 5-22 5-10 4-14 5-8 5-42 4-7 5-15 5-16 4-23 5-33 5-15 5-16 4-5 5-16 5-48 4-9 5-16 5-17 5-48 4-14 5-10 5-17 4-5 5-19 5-15 4-38 5 7 5 26 5 12 4 10 5 4 5 12 4 1 5 21 5-7 4-7 5 43 5-10 5 37 4-6 5 9 5-7 4-6 5 14 5 18 5 4 4 2 5 23 5-17 4 34 5 6 5-21 4 8 5 12 5 7 5 3 4 24 5-11 5 9 4-19 5 13 5 5 5 15 4-9 5-14 5 33 4 7 5 7 5-17 4-3 5 28 5-6 5-21 4 28 5 28 5-8 4-5 5 7 5-13 5 5 4-14 5 16 5-15 4-8 5-18 5-16 4 15 5-1 5 5 5-17 4-14 5-9 5 0 4 13 5-15 5-7 5 0 4 14 5 9 5 18 4-1 5 27 5 6 4 18 5-17 5 12 5 17 4 19 5 1 5 6 4-1 5 6 5 19 5 2 4 5 5-24 5 11 4-34 5 18 5 12 4 5 5-2 5-21 5 0 4-23 5 17 5 5 4-25 5 6 5-2 4-2 5-15 5 10 5-1 4-24 5 2 5-17 4 13 5 4 5-1 5 33 4-29 5-14 5 21 4 7 5 3 5-7 4-11 5 31 5-2 5 2 4 3 5-1 5-16 4 9 5 16 5 23 5-29 4 24 5-21 5 9 4 12 5 3 5 16 4 3 5-5 5 14 5-7 4-8 5 20 5 16 4-19 5 2 5 4 5 27 4-9 5 14 5-19 4 10 5 15 5-19 4 10 5-28 5 1 5-14 4-8 5-19 5 8 4-20 5-1 5-10 5-9 4-5 5-14 5 6 4-28 5 2 5-2 4 0 5-1 5-7 5 15 4 2 5 14 5-4 4 26 5-1 5 6 4 25 5 11 5-8 5-16 4 21 5 18 5-10 4 15 5 12 5 7 5 3 4-4 5 11 5 19 4 8 5-16 5 20 4 25 5 8 5-3 5 19 4 8 5-13 5-9 4 20 5 18 5 29 5 6 4-16 5 21 5 33 4 27 5 8 5 27 4 4 5-5 5 34 5 15 4 32 5 8 5 12 4 11 5 23 5 11 5-11 4 35 5-23 5-11 4-12 5 13 5-24 4-9 5-18 5 1 5 6 4-23 5-7 5-26 4-20 5 6 5-6 5-18 4-2 5-19 5-8 4-10 5-17 5-23 4 3 5 2 5 7 5-16 4 5 5 14 5-4 4 14 5-17 5-28 5 5 4-11 5 13 5-21 4 36 5 5 5-26 4 11 5 23 5 15 5-13 4 20 5-13 5 23 4-5 5 3 5 25 4 11 5 0 5 4 5-3 4-7 5 30 5-5 4 7 5 10 5-4 5 17 4-1 5-4 5 32 4-15 5-4 5 2 4-11 5-16 5 20 5-12 4-8 5-7 5-10 4 13 5-17 5-16 5-21 4-9 5-9 5 32 4 7 5-20 5-5 4-9 5-33 5 9 5-9 4-2 5 8 5-8 4-19 5 1 5-3 5 0 4-8 5 9 5-18 4-12 5-2 5 19 4-8 5-2 5 27 5-21 4 7 5-23 5 1 4 10 5 1 5-23 5-6 4 33 5 2 5-19 4 2 5 8 5-2 4-19 5-8 5 5 5 11 4-1 5-24 5 9 4-15 5-4 5 9 4 11 5 3 5 3 5 8 4-25 5 2 5 3 4-36 5 39 5 10 5-18 4-19 5 7 5 19 4-26 5 4 5-12 4-29 5-31 5-6 5-21 4-40 5-3 5-18 4-37 5-2 5-48 5-34 4-10 5-25 5-19 4-34 5-34 5 5 4 11 5-12 5 12 5-6 4 43 5-7 5 0 4-6 5 43 5-2 5 9 4 26 5-14 5 18 4 10 5 13 5 17 4-11 5 26 5-1 5 23 4 23 5 11 5-11 4 2 5 23 5 2 5-4 4 38 5 13 5-16 4 17 5 38 5 6 4-23 5-17 5 21 5 6 4 25 5 8 5 13 4-2 5-1 5 13 5 7 4 14 5-5 5 9 4 27 5-5 5 5 4 24 5-21 5-10 5 15 4 15 5-8 5-3 4-12 5-12 5 15 4-10 5-15 5 24 5-9 4 8 5-14 5-20 4 23 5-6 5 19 5-41 4 12 5-2 5 4 4-25 5 20 5 12 4-9 5-5 5-3 5 4 4 0 5-4 5-20 4-3 5-16 5 19 5-17 4-2 5-8 5 12 4 1 5-15 5 17 4-2 5-30 5 5 5 5 4 0 5-5 5-16 4 1 5 11 5 8 5-27 4-1 5 1 5-14 4-20 5 2 5 6 4-26 5-41 5-4 5-1 4-4 5-22 5 3 4-22 5-18 5-3 5 3 4 5 5-24 5 2 4-35 5-11 5-6 4-10 5-17 5 15 5 23 4-31 5 15 5-9 4-11 5 4 5 10 4 9 5-11 5-8 5-7 4 14 5-23 5-7 4 40 5-25 5 0 5 6 4-31 5-9 5 10 4-30 5-23 5-10 4-20 5 6 5-29 5-25 4-10 5 17 5-34 4-42 5-4 5 10 5-20 4 1 5 16 5 12 4 9 5 14 5 8 4 14 5 9 5 35 5-4 4 30 5 16 5 7 4 10 5 7 5 16 5 21 4 15 5 22 5 4 4 15 5-4 5 8 4 3 5 17 5 9 5 15 4-18 5 15 5 11 4 6 5-14 5 8 5 12 4 4 5 18 5 19 4-2 5 0 5-7 4-4 5 13 5 32 5-3 4-3 5 3 5 13 4 7 5-3 5 15 4 15 5 9 5-1 5 22 4-20 5 22 5-2 4 22 5-9 5 11 5-3 4 4 5 18 5-10 4 34 5-18 5 4 4 20 5 3 5 11 5-24 4 6 5-5 5-30 4-1 5-17 5-7 5-11 4-16 5-23 5 2 4-35 5-10 5-1 4 2 5-26 5 19 5 30 4-22 5 10 5-23 4 26 5 22 5-16 5-5 4 19 5-13 5-3 4 12 5 12 5 1 4-8 5 2 5-7 5 6 4 24 5-11 5 11 4-22 5-1 5-2 5-3 4-18 5 2 5 15 4 4 5-23 5 24 4-3 5 1 5 6 5-8 4-27 5 20 5 3 4-10 5-21 5 9 5 1 4 1 5-15 5-2 4-5 5 4 5-3 4 7 5-6 5-16 5-39 4-13 5-6 5-33 4-6 5-16 5-6 4-4 5-42 5-1 5 4 4-14 5-35 5-23 4-3 5-20 5-6 5-17 4-23 5-36 5 19 4-11 5 1 5-19 4-6 5 2 5-23 5 1 4-1 5-28 5-13 4-12 5 27 5-28 5 32 4-26 5 18 5 19 4 11 5-6 5 3 4 10 5 5 5 26 5 25 4 10 5-9 5 5 4 6 5-19 5-17 5-25 4 1 5 8 5-31 4-13 5 2 5-6 4-27 5-3 5-28 5 9 4 24 5-6 5-11 4 4 5 22 5 6 5-11 4 20 5 34 5-12 4 14 5 29 5-10 4-18 5 16 5-3 5 47 4-2 5 6 5 28 4-1 5 17 5 3 4 43 5 18 5 24 5-10 4 24 5 37 5 8 4 12 5 6 5 51 5 9 4 20 5 12 5-5 4 11 5-6 5 20 4 17 5-4 5-4 5-20 4 42 5-14 5-12 4 19 5-18 5 7 5-7 4 22 5 15 5 3 4-4 5 8 5-24 4 14 5 22 5-21 5-15 4 23 5 15 5 0 4-7 5-22 5 13 5 7 4-12 5-5 5 6 4-25 5 3 5 20 4-13 5-5 5 10 5-7 4 2 5-14 5-2 4-5 5-10 5 31 5-24 4-29 5 25 5-2 4-7 5-3 5 3 4 5 5-4 5-18" fill="none" stroke="#ff00ff" stroke-width="19" stroke-linejoin="round" stroke-dasharray="90 45"/>
</g>
<text x="1053.40" y="1486.20" font-family="'Liberation Sans', Arial, Helvetica, sans-serif" font-size="22.8" fill="#262626" text-anchor="middle" font-weight="normal" >0</text>
<text x="1210.24" y="1486.20" font-family="'Liberation Sans', Arial, Helvetica, sans-serif" font-size="22.8" fill="#262626" text-anchor="middle" font-weight="normal" >2000</text>
<text x="1367.08" y="1486.20" font-family="'Liberation Sans', Arial, Helvetica, sans-serif" font-size="22.8" fill="#262626" text-anchor="middle" font-weight="normal" >4000</text>
<text x="1523.92" y="1486.20" font-family="'Liberation Sans', Arial, Helvetica, sans-serif" font-size="22.8" fill="#262626" text-anchor="middle" font-weight="normal" >6000</text>
<text x="1680.76" y="1486.20" font-family="'Liberation Sans', Arial, Helvetica, sans-serif" font-size="22.8" fill="#262626" text-anchor="middle" font-weight="normal" >8000</text>
<text x="1837.60" y="1486.20" font-family="'Liberation Sans', Arial, Helvetica, sans-serif" font-size="22.8" fill="#262626" text-anchor="middle" font-weight="normal" >10,000</text>
<text x="1041.90" y="1461.90" font-family="'Liberation Sans', Arial, Helvetica, sans-serif" font-size="22.8" fill="#262626" text-anchor="end" font-weight="normal" >−<tspan dx="1">15</tspan></text>
<text x="1041.90" y="1338.18" font-family="'Liberation Sans', Arial, Helvetica, sans-serif" font-size="22.8" fill="#262626" text-anchor="end" font-weight="normal" >−<tspan dx="1">10</tspan></text>
<text x="1041.90" y="1214.46" font-family="'Liberation Sans', Arial, Helvetica, sans-serif" font-size="22.8" fill="#262626" text-anchor="end" font-weight="normal" >−<tspan dx="1">5</tspan></text>
<text x="1041.90" y="1090.74" font-family="'Liberation Sans', Arial, Helvetica, sans-serif" font-size="22.8" fill="#262626" text-anchor="end" font-weight="normal" >0</text>
<text x="1041.90" y="967.02" font-family="'Liberation Sans', Arial, Helvetica, sans-serif" font-size="22.8" fill="#262626" text-anchor="end" font-weight="normal" >5</text>
<text x="1041.90" y="843.30" font-family="'Liberation Sans', Arial, Helvetica, sans-serif" font-size="22.8" fill="#262626" text-anchor="end" font-weight="normal" >10</text>
<rect x="1667" y="854.3" width="150" height="93.8" fill="#fff" stroke="#262626" stroke-width="1.6"/>
<path d="M1674.3 870.5H1746.6" stroke="#0000ff" stroke-width="5.3"/>
<path d="M1674.3 901.3H1746.6" stroke="#ff0000" stroke-width="4" stroke-dasharray="4 3"/>
<path d="M1674.3 931.8H1746.6" stroke="#ff00ff" stroke-width="1.8" stroke-dasharray="17.5 10.5"/>
<text x="1752.30" y="879.80" font-family="'Liberation Sans', Arial, Helvetica, sans-serif" font-size="21.5" fill="#000" text-anchor="start" font-weight="normal" textLength="57" lengthAdjust="spacingAndGlyphs">N=20</text>
<text x="1752.30" y="909.50" font-family="'Liberation Sans', Arial, Helvetica, sans-serif" font-size="21.5" fill="#000" text-anchor="start" font-weight="normal" textLength="57" lengthAdjust="spacingAndGlyphs">N=30</text>
<text x="1752.30" y="939.50" font-family="'Liberation Sans', Arial, Helvetica, sans-serif" font-size="21.5" fill="#000" text-anchor="start" font-weight="normal" textLength="57" lengthAdjust="spacingAndGlyphs">N=40</text>
<text x="1446.00" y="1521.80" font-family="'Liberation Sans', Arial, Helvetica, sans-serif" font-size="28.6" fill="#262626" text-anchor="middle" font-weight="normal" >Sampling number(n)</text>
<text transform="translate(988.2 1143.4) rotate(-90)" x="0" y="0" font-family="'Liberation Sans', Arial, Helvetica, sans-serif" font-size="29.5" fill="#262626" text-anchor="middle">E(e(n)<tspan font-size="22" dy="-14">2</tspan><tspan dy="14">)(dB)</tspan></text>
</svg>
</body></html>
